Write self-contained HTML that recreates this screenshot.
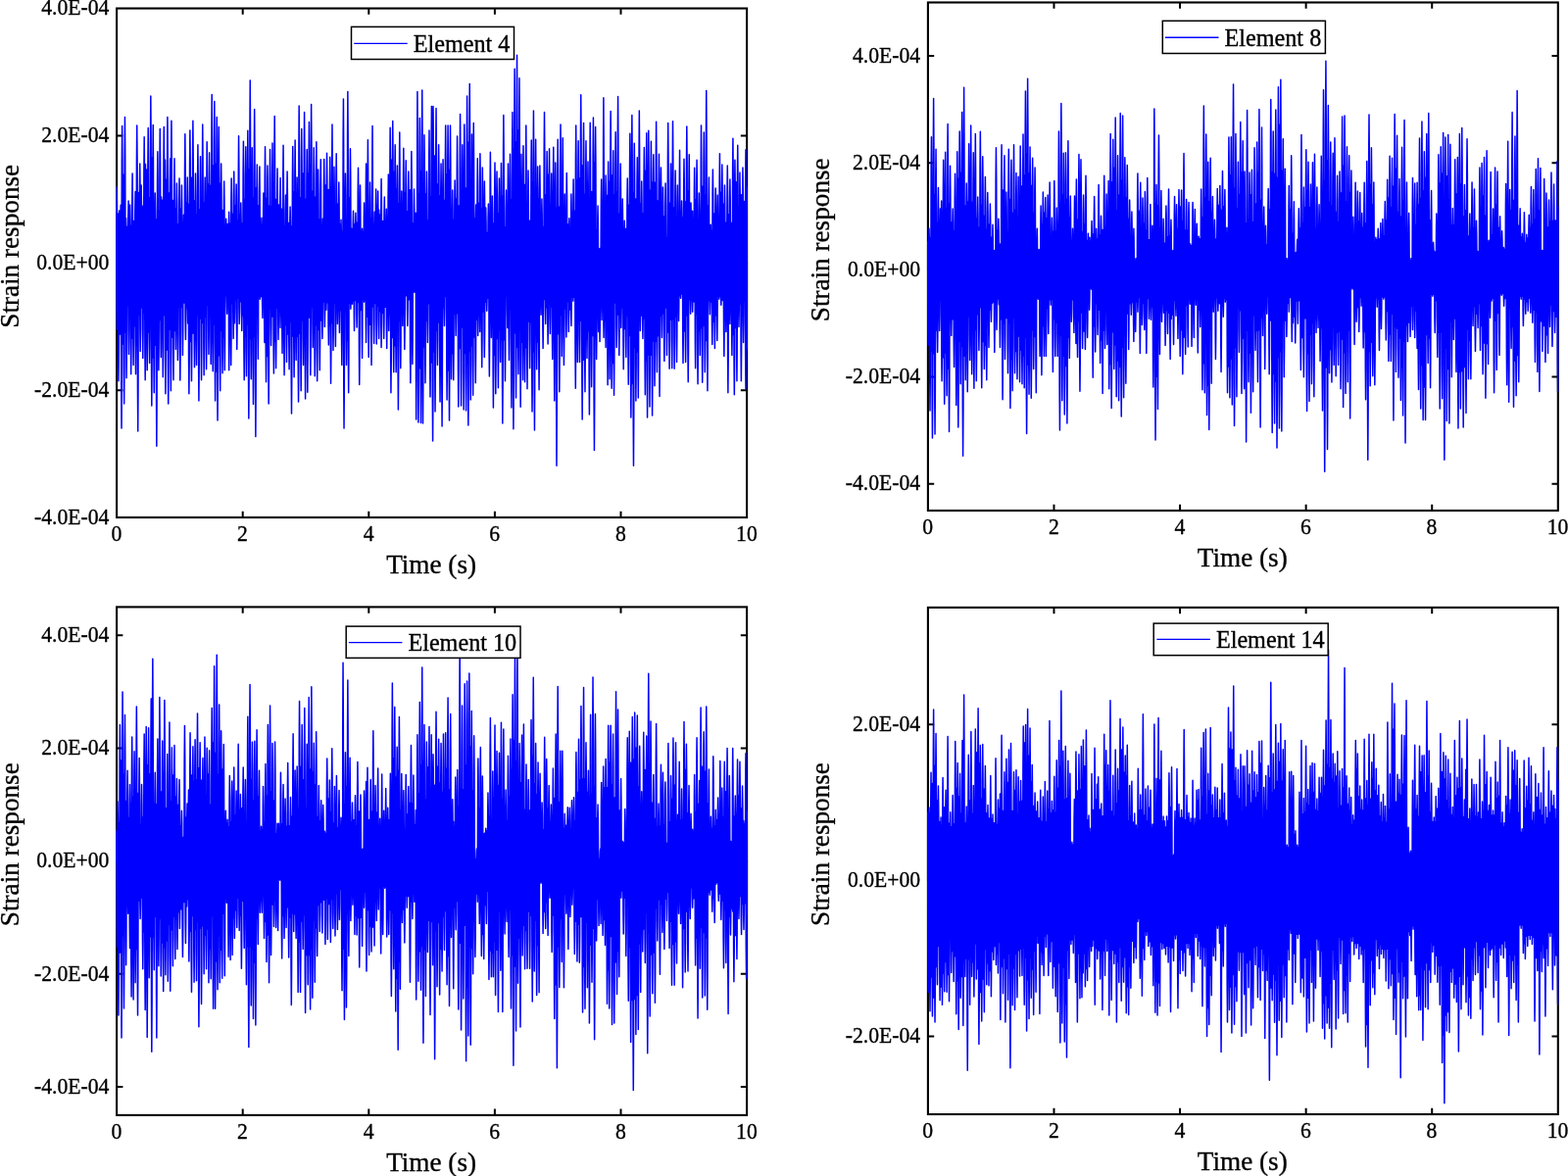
<!DOCTYPE html>
<html lang="en"><head><meta charset="utf-8"><title>Strain response</title>
<style>html,body{margin:0;padding:0;background:#fff}body{width:1600px;height:1200px;overflow:hidden}svg{display:block}text{font-family:"Liberation Serif",serif;fill:#000;stroke:#000;stroke-width:.35px}.tk{font-size:24.0px}.ti{font-size:27.2px}.lg{font-size:24.2px}.fr{fill:none;stroke:#000;stroke-width:2.1}.t{stroke:#000;stroke-width:2;fill:none}.s{fill:none;stroke:#0000ff;stroke-width:1.5;stroke-linejoin:round}</style></head>
<body>
<svg width="1600" height="1200" viewBox="0 0 1600 1200">
<rect width="1600" height="1200" fill="#fff"/>
<g>
<clipPath id="c0"><rect x="118.10" y="8.55" width="645.00" height="519.45"/></clipPath>
<path class="t" d="M119.10 138.41h6.3M762.10 138.41h-6.3M119.10 268.28h6.3M762.10 268.28h-6.3M119.10 398.14h6.3M762.10 398.14h-6.3M247.70 528.00v-6.3M247.70 8.55v6.3M376.30 528.00v-6.3M376.30 8.55v6.3M504.90 528.00v-6.3M504.90 8.55v6.3M633.50 528.00v-6.3M633.50 8.55v6.3"/>
<rect class="fr" x="119.10" y="8.55" width="643.00" height="519.45"/>
<polyline class="s" clip-path="url(#c0)" points="118.48,268.9 118.79,211.1 119.10,191.0 119.41,211.1 119.72,268.9 119.87,268.9 120.18,231.1 120.49,218.1 120.80,231.1 121.11,268.9 121.17,268.9 121.48,228.8 121.79,215.0 122.10,228.8 122.41,268.9 122.58,268.9 122.89,224.7 123.20,209.3 123.51,224.7 123.82,268.9 124.02,268.9 124.33,164.9 124.64,128.6 124.95,164.9 125.26,268.9 125.35,268.9 125.66,201.7 125.97,178.3 126.28,201.7 126.59,268.9 126.83,268.9 127.14,158.2 127.45,119.6 127.74,158.2 128.02,268.9 128.30,234.4 128.58,222.5 128.89,234.4 129.19,268.9 129.50,241.0 129.80,231.5 130.11,241.0 130.42,268.9 130.45,268.9 130.76,221.5 131.07,205.1 131.38,221.5 131.69,268.9 132.06,268.9 132.38,224.5 132.69,209.1 133.00,224.5 133.31,268.9 133.33,268.9 133.64,240.4 133.95,230.6 134.24,240.4 134.52,268.9 134.81,200.7 135.10,176.9 135.41,200.7 135.72,268.9 136.03,268.9 136.34,236.7 136.65,225.6 136.96,236.7 137.27,268.9 137.49,268.9 137.80,214.3 138.11,195.4 138.42,214.3 138.73,268.9 139.11,268.9 139.42,164.5 139.73,128.0 140.04,164.5 140.35,268.9 140.64,268.9 140.95,215.2 141.26,196.6 141.57,215.2 141.88,268.9 142.13,268.9 142.44,193.2 142.75,166.9 143.06,193.2 143.37,268.9 143.54,268.9 143.85,209.6 144.16,189.0 144.47,209.6 144.78,268.9 145.14,268.9 145.45,225.3 145.76,210.2 146.07,225.3 146.38,268.9 146.56,268.9 146.87,173.1 147.18,139.7 147.49,173.1 147.80,268.9 147.86,268.9 148.17,193.7 148.48,167.5 148.79,193.7 149.10,268.9 149.33,268.9 149.64,197.8 149.95,173.0 150.26,197.8 150.57,268.9 150.58,268.9 150.89,166.4 151.20,130.6 151.51,166.4 151.82,268.9 151.99,268.9 152.30,219.0 152.61,201.7 152.91,219.0 153.21,268.9 153.51,142.3 153.82,98.0 154.13,142.3 154.44,268.9 154.45,268.9 154.76,189.0 155.07,161.1 155.36,189.0 155.65,268.9 155.94,164.2 156.23,127.6 156.47,164.2 156.71,268.9 156.95,232.2 157.18,219.5 157.45,232.2 157.71,268.9 157.98,215.6 158.24,197.1 158.55,215.6 158.86,268.9 158.98,268.9 159.29,235.6 159.60,224.1 159.91,235.6 160.22,268.9 160.24,268.9 160.55,184.3 160.86,154.8 161.16,184.3 161.47,268.9 161.77,229.2 162.07,215.5 162.37,229.2 162.67,268.9 162.97,167.2 163.28,131.6 163.59,167.2 163.90,268.9 164.01,268.9 164.32,218.5 164.63,201.0 164.94,218.5 165.25,268.9 165.56,220.9 165.87,204.3 166.18,220.9 166.49,268.9 166.68,268.9 166.99,165.7 167.30,129.6 167.60,165.7 167.90,268.9 168.20,190.6 168.49,163.3 168.80,190.6 169.10,268.9 169.41,205.5 169.71,183.5 170.01,205.5 170.32,268.9 170.62,158.2 170.92,119.6 171.23,158.2 171.54,268.9 171.60,268.9 171.91,215.5 172.22,197.0 172.53,215.5 172.84,268.9 173.02,268.9 173.33,189.4 173.64,161.7 173.95,189.4 174.26,268.9 174.33,268.9 174.64,160.9 174.95,123.2 175.26,160.9 175.57,268.9 175.87,268.9 176.18,221.1 176.49,204.6 176.80,221.1 177.11,268.9 177.35,268.9 177.66,189.5 177.97,161.8 178.25,189.5 178.54,268.9 178.82,227.3 179.10,212.9 179.41,227.3 179.72,268.9 179.76,268.9 180.07,208.1 180.38,187.0 180.69,208.1 181.00,268.9 181.13,268.9 181.44,239.2 181.75,229.0 182.06,239.2 182.37,268.9 182.38,268.9 182.69,204.4 183.00,182.0 183.31,204.4 183.62,268.9 183.63,268.9 183.94,227.6 184.25,213.3 184.54,227.6 184.83,268.9 185.12,209.6 185.41,189.0 185.69,209.6 185.97,268.9 186.25,243.4 186.53,234.7 186.76,243.4 186.98,268.9 187.20,232.0 187.43,219.2 187.74,232.0 188.05,268.9 188.21,268.9 188.52,170.9 188.83,136.7 189.13,170.9 189.43,268.9 189.73,222.8 190.03,206.8 190.33,222.8 190.64,268.9 190.94,203.8 191.25,181.1 191.56,203.8 191.87,268.9 191.96,268.9 192.27,224.0 192.58,208.4 192.89,224.0 193.20,268.9 193.25,268.9 193.56,168.2 193.87,133.1 194.18,168.2 194.49,268.9 194.73,268.9 195.04,203.9 195.35,181.3 195.66,203.9 195.97,268.9 196.26,268.9 196.57,160.9 196.88,123.2 197.19,160.9 197.50,268.9 197.61,268.9 197.92,221.4 198.23,205.0 198.54,221.4 198.85,268.9 198.88,268.9 199.19,200.7 199.50,176.9 199.80,200.7 200.09,268.9 200.39,232.2 200.69,219.5 200.99,232.2 201.30,268.9 201.61,179.1 201.92,147.7 202.23,179.1 202.54,268.9 202.55,268.9 202.86,228.0 203.17,213.9 203.48,228.0 203.79,268.9 203.91,268.9 204.22,188.0 204.53,159.8 204.83,188.0 205.14,268.9 205.44,222.3 205.74,206.1 205.99,222.3 206.24,268.9 206.49,163.7 206.75,127.0 207.06,163.7 207.37,268.9 207.43,268.9 207.74,223.3 208.05,207.6 208.33,223.3 208.61,268.9 208.88,203.7 209.16,181.0 209.44,203.7 209.72,268.9 209.99,222.5 210.27,206.5 210.50,222.5 210.72,268.9 210.95,176.8 211.17,144.7 211.48,176.8 211.79,268.9 211.84,268.9 212.15,208.7 212.46,187.7 212.74,208.7 213.02,268.9 213.31,185.0 213.59,155.8 213.90,185.0 214.21,268.9 214.51,210.1 214.82,189.6 215.13,210.1 215.44,268.9 215.58,268.9 215.89,141.1 216.20,96.4 216.51,141.1 216.82,268.9 216.86,268.9 217.17,194.7 217.48,168.9 217.79,194.7 218.10,268.9 218.20,268.9 218.51,146.3 218.82,103.5 219.11,146.3 219.39,268.9 219.68,193.6 219.97,167.4 220.28,193.6 220.59,268.9 220.62,268.9 220.93,158.2 221.24,119.6 221.50,158.2 221.76,268.9 222.02,209.1 222.28,188.3 222.52,209.1 222.76,268.9 223.01,165.7 223.25,129.6 223.53,165.7 223.81,268.9 224.10,208.6 224.38,187.6 224.69,208.6 225.00,268.9 225.04,268.9 225.35,193.2 225.66,166.9 225.97,193.2 226.28,268.9 226.56,268.9 226.87,228.4 227.18,214.4 227.49,228.4 227.80,268.9 228.06,268.9 228.37,206.6 228.68,185.0 228.96,206.6 229.23,268.9 229.51,240.9 229.78,231.2 230.01,240.9 230.24,268.9 230.47,234.9 230.69,223.2 231.00,234.9 231.31,268.9 231.49,268.9 231.80,238.8 232.11,228.5 232.42,238.8 232.73,268.9 233.09,268.9 233.40,229.7 233.71,216.2 234.02,229.7 234.33,268.9 234.35,268.9 234.66,238.6 234.97,228.2 235.26,238.6 235.55,268.9 235.84,204.4 236.13,182.0 236.44,204.4 236.75,268.9 236.83,268.9 237.14,231.5 237.45,218.6 237.76,231.5 238.07,268.9 238.12,268.9 238.43,199.2 238.74,174.9 239.03,199.2 239.32,268.9 239.60,225.3 239.89,210.2 240.20,225.3 240.51,268.9 240.54,268.9 240.85,208.9 241.16,188.0 241.47,208.9 241.78,268.9 241.84,268.9 242.15,235.8 242.46,224.4 242.74,235.8 243.02,268.9 243.29,172.4 243.57,138.7 243.88,172.4 244.18,268.9 244.48,232.2 244.78,219.5 245.03,232.2 245.28,268.9 245.54,223.0 245.79,207.1 246.10,223.0 246.41,268.9 246.58,268.9 246.89,238.3 247.20,227.8 247.50,238.3 247.80,268.9 248.10,176.6 248.40,144.3 248.71,176.6 249.01,268.9 249.32,220.7 249.62,204.0 249.92,220.7 250.22,268.9 250.52,180.6 250.82,149.8 251.07,180.6 251.32,268.9 251.57,209.4 251.82,188.8 252.07,209.4 252.32,268.9 252.58,168.4 252.83,133.3 253.12,168.4 253.40,268.9 253.69,197.6 253.97,172.8 254.28,197.6 254.59,268.9 254.63,268.9 254.94,130.4 255.25,81.9 255.52,130.4 255.79,268.9 256.07,219.9 256.34,202.9 256.57,219.9 256.80,268.9 257.03,181.3 257.26,150.8 257.54,181.3 257.81,268.9 258.09,219.4 258.37,202.3 258.68,219.4 258.99,268.9 259.05,268.9 259.36,152.3 259.67,111.5 259.98,152.3 260.29,268.9 260.45,268.9 260.76,211.7 261.07,191.8 261.38,211.7 261.68,268.9 261.99,194.0 262.29,167.9 262.60,194.0 262.91,268.9 263.08,268.9 263.39,225.1 263.70,210.0 264.00,225.1 264.30,268.9 264.60,195.5 264.91,169.9 265.14,195.5 265.37,268.9 265.60,245.8 265.84,237.9 266.11,245.8 266.38,268.9 266.65,234.2 266.92,222.2 267.15,234.2 267.39,268.9 267.62,240.0 267.86,230.0 268.13,240.0 268.40,268.9 268.66,215.6 268.93,197.1 269.24,215.6 269.55,268.9 269.92,268.9 270.23,180.6 270.54,149.8 270.85,180.6 271.16,268.9 271.23,268.9 271.54,219.6 271.85,202.5 272.13,219.6 272.40,268.9 272.68,194.7 272.96,168.9 273.27,194.7 273.58,268.9 273.60,268.9 273.91,225.4 274.22,210.3 274.53,225.4 274.84,268.9 274.95,268.9 275.26,182.5 275.57,152.4 275.88,182.5 276.19,268.9 276.23,268.9 276.54,225.8 276.85,210.8 277.14,225.8 277.42,268.9 277.70,177.9 277.99,146.1 278.23,177.9 278.48,268.9 278.73,207.0 278.98,185.5 279.28,207.0 279.59,268.9 279.89,157.5 280.20,118.6 280.51,157.5 280.82,268.9 280.92,268.9 281.23,220.4 281.54,203.6 281.85,220.4 282.16,268.9 282.40,268.9 282.71,197.0 283.02,171.9 283.33,197.0 283.64,268.9 283.81,268.9 284.12,224.5 284.43,209.1 284.74,224.5 285.05,268.9 285.42,268.9 285.73,204.0 286.04,181.4 286.35,204.0 286.66,268.9 287.01,268.9 287.32,227.5 287.63,213.2 287.94,227.5 288.25,268.9 288.44,268.9 288.75,179.5 289.06,148.3 289.35,179.5 289.65,268.9 289.95,240.5 290.25,230.7 290.55,240.5 290.86,268.9 291.16,217.1 291.47,199.1 291.78,217.1 292.09,268.9 292.46,268.9 292.77,199.2 293.08,174.9 293.39,199.2 293.70,268.9 294.09,268.9 294.40,238.1 294.71,227.5 295.02,238.1 295.33,268.9 295.48,268.9 295.79,226.0 296.10,211.1 296.41,226.0 296.72,268.9 296.78,268.9 297.09,240.9 297.40,231.2 297.71,240.9 298.02,268.9 298.10,268.9 298.41,180.3 298.72,149.4 299.03,180.3 299.34,268.9 299.36,268.9 299.67,214.8 299.98,196.0 300.27,214.8 300.55,268.9 300.84,175.7 301.13,143.1 301.40,175.7 301.66,268.9 301.93,235.8 302.19,224.4 302.43,235.8 302.67,268.9 302.91,203.7 303.14,181.0 303.42,203.7 303.69,268.9 303.96,238.9 304.24,228.6 304.47,238.9 304.70,268.9 304.93,149.6 305.16,107.9 305.47,149.6 305.78,268.9 305.95,268.9 306.26,219.1 306.57,201.8 306.87,219.1 307.17,268.9 307.47,167.2 307.77,131.6 308.08,167.2 308.39,268.9 308.55,268.9 308.86,200.8 309.17,177.1 309.48,200.8 309.79,268.9 309.97,268.9 310.28,154.5 310.59,114.5 310.90,154.5 311.21,268.9 311.25,268.9 311.56,220.4 311.87,203.6 312.18,220.4 312.49,268.9 312.59,268.9 312.90,182.5 313.21,152.4 313.46,182.5 313.72,268.9 313.98,200.6 314.24,176.9 314.53,200.6 314.83,268.9 315.12,162.0 315.42,124.6 315.67,162.0 315.93,268.9 316.18,194.8 316.44,168.9 316.74,194.8 317.03,268.9 317.33,148.6 317.63,106.5 317.94,148.6 318.25,268.9 318.35,268.9 318.66,214.2 318.97,195.2 319.28,214.2 319.59,268.9 319.63,268.9 319.94,181.3 320.25,150.8 320.56,181.3 320.87,268.9 321.17,218.7 321.48,201.3 321.79,218.7 322.10,268.9 322.25,268.9 322.56,176.8 322.87,144.7 323.08,176.8 323.29,268.9 323.50,217.7 323.71,199.9 323.95,217.7 324.19,268.9 324.44,197.7 324.68,172.9 324.99,197.7 325.30,268.9 325.36,268.9 325.67,235.8 325.98,224.3 326.29,235.8 326.60,268.9 326.67,268.9 326.98,190.3 327.29,162.8 327.54,190.3 327.78,268.9 328.02,245.6 328.26,237.7 328.52,245.6 328.78,268.9 329.04,234.9 329.31,223.2 329.62,234.9 329.93,268.9 330.10,268.9 330.41,190.0 330.72,162.4 331.03,190.0 331.34,268.9 331.46,268.9 331.77,209.5 332.08,188.9 332.39,209.5 332.70,268.9 332.91,268.9 333.22,185.3 333.53,156.2 333.84,185.3 334.15,268.9 334.54,268.9 334.85,213.0 335.16,193.5 335.47,213.0 335.78,268.9 336.13,268.9 336.44,188.3 336.75,160.2 337.05,188.3 337.35,268.9 337.64,210.8 337.94,190.6 338.20,210.8 338.45,268.9 338.71,163.7 338.97,127.0 339.21,163.7 339.45,268.9 339.69,214.7 339.93,195.9 340.19,214.7 340.45,268.9 340.72,195.8 340.98,170.3 341.24,195.8 341.50,268.9 341.76,235.3 342.03,223.7 342.32,235.3 342.61,268.9 342.90,185.8 343.19,156.8 343.50,185.8 343.81,268.9 343.85,268.9 344.16,223.8 344.47,208.2 344.78,223.8 345.09,268.9 345.19,268.9 345.50,207.4 345.81,186.0 346.10,207.4 346.39,268.9 346.68,239.3 346.98,229.1 347.24,239.3 347.50,268.9 347.76,235.7 348.02,224.2 348.30,235.7 348.57,268.9 348.85,244.7 349.13,236.4 349.44,244.7 349.75,268.9 349.82,268.9 350.13,144.4 350.44,100.9 350.67,144.4 350.90,268.9 351.13,220.7 351.36,203.9 351.63,220.7 351.90,268.9 352.18,200.7 352.45,176.9 352.75,200.7 353.06,268.9 353.36,237.5 353.67,226.7 353.97,237.5 354.27,268.9 354.57,138.9 354.87,93.4 355.17,138.9 355.48,268.9 355.78,219.2 356.09,201.9 356.40,219.2 356.71,268.9 356.86,268.9 357.17,182.1 357.48,151.8 357.79,182.1 358.10,268.9 358.27,268.9 358.58,242.4 358.89,233.3 359.20,242.4 359.51,268.9 359.88,268.9 360.19,229.0 360.50,215.2 360.78,229.0 361.07,268.9 361.35,239.0 361.64,228.8 361.95,239.0 362.26,268.9 362.30,268.9 362.61,230.5 362.92,217.2 363.23,230.5 363.54,268.9 363.65,268.9 363.96,237.9 364.27,227.2 364.58,237.9 364.89,268.9 364.91,268.9 365.22,196.5 365.53,171.3 365.80,196.5 366.07,268.9 366.34,234.4 366.61,222.6 366.84,234.4 367.08,268.9 367.31,209.6 367.54,189.0 367.81,209.6 368.08,268.9 368.34,244.2 368.61,235.7 368.85,244.2 369.08,268.9 369.32,242.4 369.56,233.3 369.82,242.4 370.08,268.9 370.35,244.9 370.61,236.6 370.85,244.9 371.09,268.9 371.33,223.0 371.57,207.1 371.82,223.0 372.08,268.9 372.34,242.1 372.59,232.9 372.84,242.1 373.09,268.9 373.33,193.2 373.58,166.9 373.83,193.2 374.09,268.9 374.34,222.8 374.59,206.9 374.79,222.8 374.99,268.9 375.19,175.4 375.39,142.7 375.66,175.4 375.92,268.9 376.18,227.9 376.45,213.7 376.74,227.9 377.03,268.9 377.32,207.4 377.61,186.0 377.92,207.4 378.23,268.9 378.27,268.9 378.58,234.2 378.89,222.2 379.17,234.2 379.46,268.9 379.74,164.9 380.02,128.6 380.29,164.9 380.55,268.9 380.81,241.1 381.08,231.6 381.37,241.1 381.66,268.9 381.95,229.7 382.24,216.2 382.55,229.7 382.86,268.9 383.02,268.9 383.33,212.6 383.64,193.0 383.92,212.6 384.19,268.9 384.47,224.9 384.74,209.7 384.97,224.9 385.20,268.9 385.43,214.1 385.66,195.0 385.92,214.1 386.18,268.9 386.44,228.3 386.70,214.3 387.01,228.3 387.32,268.9 387.37,268.9 387.68,231.8 387.99,219.0 388.26,231.8 388.54,268.9 388.81,204.8 389.08,182.6 389.39,204.8 389.70,268.9 390.16,268.9 390.47,236.6 390.78,225.5 391.09,236.6 391.40,268.9 391.68,268.9 391.99,218.5 392.30,201.1 392.53,218.5 392.76,268.9 392.98,236.0 393.21,224.7 393.49,236.0 393.76,268.9 394.04,227.5 394.31,213.2 394.55,227.5 394.78,268.9 395.02,240.5 395.25,230.7 395.52,240.5 395.79,268.9 396.05,201.4 396.32,177.9 396.56,201.4 396.80,268.9 397.04,221.6 397.28,205.2 397.49,221.6 397.71,268.9 397.92,166.1 398.13,130.2 398.44,166.1 398.74,268.9 399.05,190.6 399.35,163.3 399.66,190.6 399.97,268.9 400.13,268.9 400.44,161.2 400.75,123.6 401.05,161.2 401.35,268.9 401.64,199.7 401.94,175.6 402.25,199.7 402.55,268.9 402.86,179.1 403.17,147.7 403.45,179.1 403.73,268.9 404.01,212.9 404.29,193.5 404.56,212.9 404.83,268.9 405.11,194.7 405.38,168.9 405.68,194.7 405.98,268.9 406.28,223.8 406.58,208.1 406.88,223.8 407.19,268.9 407.49,169.7 407.79,135.1 408.04,169.7 408.29,268.9 408.54,235.7 408.79,224.2 409.04,235.7 409.30,268.9 409.55,214.1 409.81,195.0 410.05,214.1 410.29,268.9 410.53,227.0 410.77,212.5 411.03,227.0 411.29,268.9 411.56,181.6 411.82,151.2 412.10,181.6 412.37,268.9 412.65,215.4 412.93,196.8 413.24,215.4 413.55,268.9 413.61,268.9 413.92,191.0 414.23,163.8 414.54,191.0 414.85,268.9 415.00,268.9 415.31,229.6 415.62,216.1 415.93,229.6 416.24,268.9 416.54,199.2 416.85,174.9 417.16,199.2 417.47,268.9 417.63,268.9 417.94,213.2 418.25,193.8 418.56,213.2 418.87,268.9 419.25,268.9 419.56,184.0 419.87,154.4 420.18,184.0 420.49,268.9 420.67,268.9 420.98,238.5 421.29,228.1 421.59,238.5 421.89,268.9 422.19,212.6 422.49,193.0 422.80,212.6 423.11,268.9 423.48,268.9 423.79,230.5 424.10,217.2 424.33,230.5 424.57,268.9 424.80,243.2 425.04,234.4 425.26,243.2 425.47,268.9 425.69,138.9 425.91,93.4 426.22,138.9 426.53,268.9 426.59,268.9 426.90,215.7 427.21,197.3 427.49,215.7 427.77,268.9 428.04,159.0 428.32,120.6 428.61,159.0 428.90,268.9 429.19,199.2 429.47,175.0 429.78,199.2 430.09,268.9 430.12,268.9 430.43,137.8 430.74,92.0 431.04,137.8 431.33,268.9 431.63,223.8 431.93,208.1 432.19,223.8 432.44,268.9 432.70,171.6 432.95,137.7 433.23,171.6 433.51,268.9 433.78,216.3 434.06,198.0 434.37,216.3 434.68,268.9 434.75,268.9 435.06,199.2 435.37,174.9 435.68,199.2 435.99,268.9 436.12,268.9 436.43,236.3 436.74,225.1 437.05,236.3 437.36,268.9 437.36,268.9 437.67,168.2 437.98,133.1 438.29,168.2 438.60,268.9 438.91,218.5 439.22,201.0 439.51,218.5 439.81,268.9 440.10,150.0 440.40,108.5 440.71,150.0 441.02,268.9 441.39,268.9 441.70,150.0 442.01,108.5 442.32,150.0 442.63,268.9 442.78,268.9 443.09,187.3 443.40,158.9 443.71,187.3 444.02,268.9 444.40,268.9 444.71,151.5 445.02,110.5 445.33,151.5 445.64,268.9 445.95,208.9 446.26,188.0 446.57,208.9 446.88,268.9 447.02,268.9 447.33,179.1 447.64,147.7 447.95,179.1 448.26,268.9 448.28,268.9 448.59,217.6 448.90,199.8 449.19,217.6 449.48,268.9 449.77,193.2 450.06,166.9 450.31,193.2 450.56,268.9 450.80,224.1 451.05,208.5 451.31,224.1 451.56,268.9 451.82,190.3 452.07,162.8 452.37,190.3 452.67,268.9 452.96,221.0 453.26,204.4 453.57,221.0 453.88,268.9 454.06,268.9 454.38,164.5 454.69,128.0 454.98,164.5 455.27,268.9 455.56,201.5 455.85,178.1 456.16,201.5 456.47,268.9 456.48,268.9 456.79,164.5 457.10,128.0 457.37,164.5 457.65,268.9 457.92,198.2 458.20,173.6 458.51,198.2 458.82,268.9 458.89,268.9 459.20,164.5 459.51,128.0 459.81,164.5 460.10,268.9 460.39,242.3 460.69,233.1 460.95,242.3 461.21,268.9 461.47,213.3 461.73,194.0 462.03,213.3 462.33,268.9 462.63,235.8 462.94,224.4 463.24,235.8 463.54,268.9 463.84,205.9 464.14,184.0 464.45,205.9 464.76,268.9 464.83,268.9 465.14,219.7 465.45,202.7 465.72,219.7 466.00,268.9 466.28,172.7 466.56,139.1 466.87,172.7 467.18,268.9 467.38,268.9 467.69,225.2 468.00,210.1 468.31,225.2 468.62,268.9 468.96,268.9 469.27,156.0 469.58,116.6 469.87,156.0 470.17,268.9 470.46,215.9 470.76,197.6 471.02,215.9 471.27,268.9 471.53,179.1 471.79,147.7 472.04,179.1 472.29,268.9 472.53,214.3 472.78,195.3 473.04,214.3 473.29,268.9 473.55,163.7 473.80,127.0 474.11,163.7 474.42,268.9 474.48,268.9 474.79,211.8 475.10,192.0 475.41,211.8 475.72,268.9 476.00,268.9 476.31,142.3 476.62,98.0 476.93,142.3 477.24,268.9 477.32,268.9 477.63,177.2 477.94,145.3 478.25,177.2 478.56,268.9 478.62,268.9 478.93,132.9 479.24,85.4 479.54,132.9 479.84,268.9 480.14,212.3 480.44,192.6 480.70,212.3 480.95,268.9 481.20,171.2 481.45,137.1 481.70,171.2 481.94,268.9 482.19,199.0 482.43,174.7 482.64,199.0 482.85,268.9 483.06,162.7 483.26,125.6 483.57,162.7 483.88,268.9 483.90,268.9 484.21,235.0 484.52,223.4 484.81,235.0 485.10,268.9 485.39,224.5 485.68,209.1 485.99,224.5 486.30,268.9 486.67,268.9 486.98,189.5 487.29,161.8 487.60,189.5 487.91,268.9 488.01,268.9 488.32,223.4 488.63,207.6 488.94,223.4 489.25,268.9 489.28,268.9 489.59,185.8 489.90,156.8 490.21,185.8 490.52,268.9 490.59,268.9 490.90,227.3 491.21,212.8 491.49,227.3 491.76,268.9 492.04,196.2 492.32,170.9 492.58,196.2 492.84,268.9 493.11,228.0 493.37,213.9 493.61,228.0 493.85,268.9 494.09,206.6 494.33,185.0 494.64,206.6 494.95,268.9 495.12,268.9 495.43,226.7 495.74,212.1 496.05,226.7 496.36,268.9 496.36,268.9 496.67,245.5 496.98,237.4 497.29,245.5 497.60,268.9 497.74,268.9 498.05,223.8 498.36,208.1 498.63,223.8 498.91,268.9 499.18,236.9 499.46,225.9 499.68,236.9 499.91,268.9 500.14,184.6 500.37,155.2 500.64,184.6 500.90,268.9 501.17,232.2 501.44,219.5 501.68,232.2 501.91,268.9 502.15,217.8 502.38,200.1 502.69,217.8 503.00,268.9 503.05,268.9 503.36,238.7 503.67,228.3 503.98,238.7 504.29,268.9 504.38,268.9 504.69,192.5 505.00,165.9 505.25,192.5 505.51,268.9 505.77,236.1 506.02,224.8 506.27,236.1 506.52,268.9 506.76,199.2 507.01,174.9 507.32,199.2 507.63,268.9 507.93,231.0 508.24,217.9 508.54,231.0 508.83,268.9 509.13,204.4 509.43,182.0 509.66,204.4 509.90,268.9 510.14,234.1 510.38,222.1 510.65,234.1 510.91,268.9 511.17,192.9 511.44,166.5 511.73,192.9 512.03,268.9 512.33,218.1 512.62,200.5 512.93,218.1 513.24,268.9 513.55,156.7 513.85,117.6 514.16,156.7 514.47,268.9 514.56,268.9 514.87,241.3 515.18,231.9 515.49,241.3 515.80,268.9 515.85,268.9 516.16,213.3 516.47,194.0 516.71,213.3 516.95,268.9 517.19,240.5 517.43,230.7 517.69,240.5 517.95,268.9 518.22,193.2 518.48,166.9 518.76,193.2 519.04,268.9 519.31,214.2 519.59,195.2 519.82,214.2 520.04,268.9 520.27,186.1 520.49,157.2 520.77,186.1 521.05,268.9 521.32,220.6 521.60,203.8 521.91,220.6 522.22,268.9 522.29,268.9 522.60,154.5 522.91,114.5 523.16,154.5 523.42,268.9 523.67,182.5 523.93,152.3 524.23,182.5 524.52,268.9 524.82,121.7 525.12,70.3 525.41,121.7 525.69,268.9 525.97,176.9 526.26,144.7 526.57,176.9 526.88,268.9 526.92,268.9 527.23,111.3 527.54,56.2 527.81,111.3 528.08,268.9 528.36,168.2 528.63,133.1 528.94,168.2 529.25,268.9 529.33,268.9 529.64,128.7 529.95,79.7 530.21,128.7 530.46,268.9 530.72,228.9 530.97,215.1 531.22,228.9 531.47,268.9 531.72,186.1 531.97,157.2 532.21,186.1 532.45,268.9 532.69,215.2 532.93,196.6 533.20,215.2 533.46,268.9 533.72,179.8 533.98,148.8 534.29,179.8 534.60,268.9 534.88,268.9 535.19,209.2 535.50,188.4 535.81,209.2 536.12,268.9 536.17,268.9 536.48,164.5 536.79,128.0 537.07,164.5 537.34,268.9 537.61,230.4 537.88,217.0 538.16,230.4 538.45,268.9 538.73,198.4 539.01,173.9 539.32,198.4 539.63,268.9 540.00,268.9 540.31,236.4 540.62,225.2 540.93,236.4 541.24,268.9 541.61,268.9 541.92,175.7 542.23,143.1 542.52,175.7 542.82,268.9 543.11,207.2 543.41,185.7 543.67,207.2 543.93,268.9 544.18,153.5 544.44,113.1 544.70,153.5 544.95,268.9 545.21,215.1 545.47,196.4 545.76,215.1 546.06,268.9 546.36,175.1 546.66,142.3 546.91,175.1 547.17,268.9 547.42,234.6 547.68,222.8 547.93,234.6 548.17,268.9 548.42,195.5 548.67,169.9 548.93,195.5 549.20,268.9 549.46,220.3 549.73,203.5 550.02,220.3 550.30,268.9 550.59,194.7 550.88,168.9 551.13,194.7 551.38,268.9 551.63,235.4 551.88,223.8 552.14,235.4 552.39,268.9 552.64,220.0 552.89,203.1 553.20,220.0 553.51,268.9 553.66,268.9 553.97,240.9 554.28,231.3 554.59,240.9 554.90,268.9 555.20,154.5 555.51,114.5 555.82,154.5 556.13,268.9 556.15,268.9 556.46,217.0 556.77,199.0 557.08,217.0 557.39,268.9 557.51,268.9 557.82,184.0 558.13,154.4 558.41,184.0 558.70,268.9 558.98,201.7 559.26,178.3 559.57,201.7 559.88,268.9 559.92,268.9 560.23,182.1 560.54,151.8 560.82,182.1 561.10,268.9 561.37,224.6 561.65,209.3 561.93,224.6 562.20,268.9 562.48,200.7 562.76,176.9 562.99,200.7 563.22,268.9 563.45,223.5 563.68,207.8 563.95,223.5 564.22,268.9 564.50,180.9 564.77,150.2 565.01,180.9 565.24,268.9 565.48,232.8 565.72,220.4 565.98,232.8 566.25,268.9 566.52,192.5 566.78,165.9 567.07,192.5 567.36,268.9 567.65,226.9 567.94,212.4 568.25,226.9 568.56,268.9 568.58,268.9 568.89,175.1 569.20,142.3 569.51,175.1 569.82,268.9 570.07,268.9 570.38,226.1 570.69,211.3 571.00,226.1 571.31,268.9 571.39,268.9 571.70,163.7 572.01,127.0 572.30,163.7 572.59,268.9 572.87,217.6 573.16,199.8 573.43,217.6 573.69,268.9 573.96,173.9 574.23,140.7 574.47,173.9 574.72,268.9 574.96,243.3 575.21,234.5 575.47,243.3 575.73,268.9 575.98,216.3 576.24,198.1 576.52,216.3 576.80,268.9 577.08,244.6 577.36,236.2 577.58,244.6 577.81,268.9 578.03,200.4 578.25,176.5 578.56,200.4 578.86,268.9 579.16,239.0 579.46,228.7 579.77,239.0 580.08,268.9 580.25,268.9 580.56,234.6 580.87,222.8 581.14,234.6 581.42,268.9 581.69,241.1 581.96,231.5 582.19,241.1 582.42,268.9 582.65,216.3 582.88,198.1 583.16,216.3 583.44,268.9 583.72,230.2 584.00,216.8 584.27,230.2 584.55,268.9 584.82,205.1 585.10,183.0 585.40,205.1 585.72,268.9 585.76,268.9 586.07,229.2 586.38,215.5 586.69,229.2 587.00,268.9 587.09,268.9 587.40,164.5 587.71,128.0 588.02,164.5 588.33,268.9 588.64,206.0 588.95,184.1 589.24,206.0 589.54,268.9 589.83,176.1 590.13,143.7 590.44,176.1 590.75,268.9 590.92,268.9 591.23,204.4 591.54,182.0 591.84,204.4 592.14,268.9 592.44,141.4 592.74,96.8 593.05,141.4 593.36,268.9 593.48,268.9 593.79,194.6 594.10,168.7 594.41,194.6 594.72,268.9 594.94,268.9 595.25,162.7 595.56,125.6 595.87,162.7 596.18,268.9 596.26,268.9 596.57,216.6 596.88,198.5 597.16,216.6 597.43,268.9 597.70,176.1 597.98,143.7 598.20,176.1 598.42,268.9 598.64,228.8 598.86,214.9 599.14,228.8 599.43,268.9 599.71,191.7 599.99,164.9 600.25,191.7 600.52,268.9 600.78,227.1 601.05,212.7 601.33,227.1 601.62,268.9 601.91,162.4 602.20,125.2 602.51,162.4 602.82,268.9 603.19,268.9 603.50,214.3 603.81,195.4 604.12,214.3 604.43,268.9 604.80,268.9 605.11,158.5 605.42,120.0 605.72,158.5 606.02,268.9 606.31,192.4 606.61,165.7 606.87,192.4 607.12,268.9 607.38,165.7 607.63,129.6 607.94,165.7 608.25,268.9 608.32,268.9 608.63,243.5 608.94,234.7 609.22,243.5 609.49,268.9 609.77,225.2 610.05,210.1 610.29,225.2 610.53,268.9 610.77,257.7 611.02,254.0 611.28,257.7 611.54,268.9 611.80,257.3 612.06,253.4 612.37,257.3 612.68,268.9 613.05,268.9 613.36,205.1 613.67,183.0 613.95,205.1 614.22,268.9 614.50,227.4 614.77,213.1 615.05,227.4 615.33,268.9 615.61,143.6 615.89,99.8 616.18,143.6 616.46,268.9 616.75,229.8 617.04,216.3 617.31,229.8 617.57,268.9 617.84,202.2 618.10,178.9 618.41,202.2 618.72,268.9 618.85,268.9 619.16,217.3 619.47,199.4 619.78,217.3 620.09,268.9 620.10,268.9 620.41,191.7 620.72,164.9 620.99,191.7 621.27,268.9 621.55,207.1 621.83,185.6 622.14,207.1 622.45,268.9 622.51,268.9 622.82,153.8 623.13,113.5 623.44,153.8 623.75,268.9 623.93,268.9 624.24,202.3 624.55,179.1 624.85,202.3 625.15,268.9 625.45,183.5 625.75,153.8 626.04,183.5 626.34,268.9 626.63,217.0 626.93,199.0 627.24,217.0 627.55,268.9 627.85,169.4 628.16,134.7 628.47,169.4 628.78,268.9 629.09,214.7 629.40,195.9 629.69,214.7 629.99,268.9 630.28,142.6 630.58,98.4 630.88,142.6 631.18,268.9 631.48,231.2 631.78,218.1 632.09,231.2 632.40,268.9 632.57,268.9 632.88,193.2 633.19,166.9 633.47,193.2 633.74,268.9 634.02,229.8 634.29,216.3 634.52,229.8 634.75,268.9 634.98,220.0 635.21,203.1 635.48,220.0 635.76,268.9 636.03,244.2 636.31,235.8 636.54,244.2 636.76,268.9 636.99,236.4 637.22,225.2 637.53,236.4 637.84,268.9 638.21,268.9 638.52,242.5 638.83,233.4 639.14,242.5 639.45,268.9 639.62,268.9 639.93,204.4 640.24,182.0 640.55,204.4 640.86,268.9 641.00,268.9 641.31,224.8 641.62,209.6 641.93,224.8 642.24,268.9 642.54,170.6 642.85,136.3 643.09,170.6 643.32,268.9 643.55,204.4 643.78,182.0 644.05,204.4 644.33,268.9 644.60,156.7 644.87,117.6 645.16,156.7 645.45,268.9 645.74,215.2 646.03,196.5 646.34,215.2 646.65,268.9 646.66,268.9 646.97,178.0 647.28,146.3 647.59,178.0 647.90,268.9 648.25,268.9 648.56,219.9 648.87,202.9 649.18,219.9 649.49,268.9 649.68,268.9 649.99,188.8 650.30,160.8 650.56,188.8 650.81,268.9 651.07,219.5 651.32,202.3 651.57,219.5 651.82,268.9 652.07,153.3 652.31,112.9 652.62,153.3 652.93,268.9 652.98,268.9 653.29,224.0 653.60,208.5 653.88,224.0 654.17,268.9 654.45,206.6 654.73,185.0 655.04,206.6 655.35,268.9 655.41,268.9 655.72,231.1 656.03,218.0 656.34,231.1 656.65,268.9 656.72,268.9 657.03,181.0 657.34,150.4 657.65,181.0 657.95,268.9 658.25,199.0 658.56,174.6 658.86,199.0 659.16,268.9 659.46,170.1 659.76,135.7 660.00,170.1 660.25,268.9 660.50,212.2 660.74,192.5 661.00,212.2 661.26,268.9 661.51,168.4 661.77,133.3 662.08,168.4 662.39,268.9 662.45,268.9 662.76,213.6 663.07,194.3 663.38,213.6 663.69,268.9 663.77,268.9 664.08,176.6 664.39,144.3 664.70,176.6 665.01,268.9 665.06,268.9 665.37,207.6 665.68,186.3 665.96,207.6 666.24,268.9 666.52,186.5 666.80,157.8 667.11,186.5 667.42,268.9 667.56,268.9 667.87,207.6 668.18,186.2 668.49,207.6 668.80,268.9 669.00,268.9 669.31,161.7 669.62,124.2 669.93,161.7 670.24,268.9 670.35,268.9 670.66,221.5 670.97,205.0 671.28,221.5 671.59,268.9 671.82,268.9 672.13,186.1 672.44,157.2 672.72,186.1 673.00,268.9 673.28,233.4 673.56,221.2 673.78,233.4 674.00,268.9 674.23,196.2 674.45,170.9 674.72,196.2 674.99,268.9 675.25,232.6 675.52,220.0 675.76,232.6 675.99,268.9 676.23,211.1 676.46,191.0 676.77,211.1 677.08,268.9 677.16,268.9 677.47,233.2 677.78,220.9 678.09,233.2 678.40,268.9 678.46,268.9 678.77,208.1 679.08,187.0 679.39,208.1 679.70,268.9 679.87,268.9 680.18,249.1 680.49,242.3 680.79,249.1 681.09,268.9 681.39,162.7 681.70,125.6 682.01,162.7 682.32,268.9 682.51,268.9 682.82,223.2 683.13,207.3 683.44,223.2 683.75,268.9 683.89,268.9 684.20,193.2 684.51,166.9 684.76,193.2 685.00,268.9 685.25,230.4 685.49,217.1 685.75,230.4 686.01,268.9 686.27,161.4 686.52,123.8 686.84,161.4 687.14,268.9 687.30,268.9 687.61,226.6 687.92,212.0 688.23,226.6 688.53,268.9 688.84,198.4 689.14,173.9 689.40,198.4 689.67,268.9 689.93,234.3 690.19,222.4 690.48,234.3 690.77,268.9 691.06,209.6 691.36,189.0 691.64,209.6 691.92,268.9 692.20,239.5 692.48,229.4 692.75,239.5 693.02,268.9 693.30,183.1 693.57,153.2 693.80,183.1 694.03,268.9 694.26,241.2 694.48,231.6 694.76,241.2 695.03,268.9 695.31,221.5 695.58,205.1 695.88,221.5 696.17,268.9 696.47,234.3 696.76,222.3 697.07,234.3 697.38,268.9 697.69,189.8 698.00,162.2 698.31,189.8 698.62,268.9 698.86,268.9 699.17,222.0 699.48,205.7 699.79,222.0 700.10,268.9 700.19,268.9 700.50,165.2 700.81,129.0 701.12,165.2 701.42,268.9 701.72,214.0 702.02,195.0 702.32,214.0 702.63,268.9 702.93,186.5 703.23,157.8 703.46,186.5 703.69,268.9 703.93,243.2 704.16,234.4 704.38,243.2 704.60,268.9 704.82,223.0 705.04,207.1 705.35,223.0 705.66,268.9 706.03,268.9 706.34,229.0 706.65,215.2 706.88,229.0 707.11,268.9 707.34,244.9 707.58,236.7 707.85,244.9 708.12,268.9 708.39,196.5 708.66,171.3 708.95,196.5 709.23,268.9 709.52,220.7 709.80,204.0 710.11,220.7 710.42,268.9 710.46,268.9 710.77,190.5 711.08,163.2 711.35,190.5 711.62,268.9 711.89,241.2 712.16,231.7 712.44,241.2 712.72,268.9 713.01,215.6 713.29,197.1 713.60,215.6 713.90,268.9 714.20,232.9 714.51,220.4 714.76,232.9 715.01,268.9 715.26,164.5 715.50,128.0 715.82,164.5 716.12,268.9 716.34,268.9 716.65,210.6 716.96,190.3 717.27,210.6 717.58,268.9 717.70,268.9 718.01,169.7 718.32,135.1 718.63,169.7 718.94,268.9 718.97,268.9 719.28,217.0 719.59,199.0 719.88,217.0 720.17,268.9 720.45,138.1 720.74,92.4 721.05,138.1 721.36,268.9 721.47,268.9 721.78,225.0 722.09,209.8 722.40,225.0 722.71,268.9 722.73,268.9 723.04,203.7 723.35,181.0 723.58,203.7 723.80,268.9 724.02,243.6 724.25,235.0 724.48,243.6 724.71,268.9 724.94,239.4 725.16,229.3 725.42,239.4 725.68,268.9 725.94,243.9 726.20,235.3 726.49,243.9 726.79,268.9 727.08,197.7 727.38,172.9 727.69,197.7 728.00,268.9 728.14,268.9 728.45,231.1 728.76,218.1 729.07,231.1 729.38,268.9 729.58,268.9 729.89,211.8 730.20,192.0 730.45,211.8 730.71,268.9 730.97,237.2 731.22,226.3 731.47,237.2 731.72,268.9 731.96,217.1 732.21,199.1 732.48,217.1 732.75,268.9 733.03,232.8 733.30,220.4 733.58,232.8 733.86,268.9 734.14,185.8 734.42,156.8 734.73,185.8 735.04,268.9 735.12,268.9 735.43,215.1 735.74,196.4 736.01,215.1 736.29,268.9 736.56,194.0 736.84,167.9 737.15,194.0 737.46,268.9 737.52,268.9 737.83,223.9 738.14,208.3 738.45,223.9 738.76,268.9 738.83,268.9 739.14,209.6 739.45,189.0 739.76,209.6 740.07,268.9 740.28,268.9 740.59,237.9 740.90,227.3 741.21,237.9 741.52,268.9 741.65,268.9 741.96,194.7 742.27,168.9 742.58,194.7 742.89,268.9 743.05,268.9 743.36,231.8 743.67,219.0 743.98,231.8 744.28,268.9 744.58,205.1 744.89,183.0 745.20,205.1 745.51,268.9 745.85,268.9 746.16,238.1 746.47,227.5 746.78,238.1 747.09,268.9 747.29,268.9 747.60,174.3 747.91,141.3 748.17,174.3 748.44,268.9 748.70,232.7 748.97,220.2 749.20,232.7 749.44,268.9 749.68,190.5 749.92,163.2 750.23,190.5 750.54,268.9 750.63,268.9 750.94,207.1 751.25,185.7 751.56,207.1 751.87,268.9 752.12,268.9 752.43,179.5 752.74,148.3 753.02,179.5 753.31,268.9 753.60,234.0 753.88,221.9 754.15,234.0 754.42,268.9 754.68,199.9 754.95,175.9 755.26,199.9 755.57,268.9 755.73,268.9 756.04,216.8 756.35,198.7 756.66,216.8 756.97,268.9 757.35,268.9 757.66,196.2 757.97,170.9 758.28,196.2 758.59,268.9 758.89,268.9 759.20,221.9 759.51,205.6 759.82,221.9 760.13,268.9 760.37,268.9 760.68,182.8 760.99,152.8 761.25,182.8 761.51,268.9 761.77,211.2 762.04,191.2 762.35,211.2 762.66,268.9"/>
<polyline class="s" clip-path="url(#c0)" points="118.76,267.7 119.07,318.4 119.38,336.0 119.69,318.4 120.00,267.7 120.39,267.7 120.70,357.4 121.01,388.8 121.32,357.4 121.63,267.7 121.93,267.7 122.24,322.2 122.55,341.1 122.86,322.2 123.17,267.7 123.41,267.7 123.72,393.2 124.03,437.1 124.34,393.2 124.65,267.7 124.79,267.7 125.10,329.4 125.41,350.9 125.72,329.4 126.03,267.7 126.34,374.6 126.65,411.9 126.95,374.6 127.26,267.7 127.56,320.6 127.86,339.0 128.16,320.6 128.46,267.7 128.76,355.2 129.06,385.7 129.34,355.2 129.62,267.7 129.91,300.4 130.19,311.7 130.50,300.4 130.81,267.7 130.86,267.7 131.17,337.3 131.48,361.6 131.78,337.3 132.09,267.7 132.39,306.8 132.69,320.4 132.94,306.8 133.19,267.7 133.44,352.2 133.69,381.7 133.98,352.2 134.26,267.7 134.55,325.1 134.83,345.1 135.14,325.1 135.45,267.7 135.49,267.7 135.80,345.5 136.11,372.6 136.38,345.5 136.66,267.7 136.93,316.0 137.21,332.8 137.52,316.0 137.83,267.7 137.90,267.7 138.21,352.2 138.52,381.7 138.77,352.2 139.02,267.7 139.27,330.3 139.52,352.1 139.82,330.3 140.13,267.7 140.43,395.4 140.74,440.1 141.01,395.4 141.28,267.7 141.56,307.8 141.83,321.6 142.14,307.8 142.45,267.7 142.53,267.7 142.84,335.1 143.15,358.6 143.46,335.1 143.77,267.7 143.93,267.7 144.24,302.2 144.55,314.1 144.85,302.2 145.16,267.7 145.46,340.3 145.77,365.6 146.08,340.3 146.39,267.7 146.39,267.7 146.70,305.9 147.01,319.1 147.30,305.9 147.60,267.7 147.89,356.7 148.18,387.7 148.45,356.7 148.72,267.7 148.99,310.9 149.26,325.8 149.49,310.9 149.72,267.7 149.96,349.2 150.19,377.7 150.47,349.2 150.75,267.7 151.02,320.5 151.30,338.9 151.61,320.5 151.92,267.7 151.99,267.7 152.30,344.0 152.61,370.6 152.88,344.0 153.16,267.7 153.43,310.5 153.71,325.4 153.99,310.5 154.26,267.7 154.54,376.0 154.82,413.9 155.10,376.0 155.38,267.7 155.66,339.8 155.94,365.0 156.25,339.8 156.56,267.7 156.62,267.7 156.93,366.4 157.24,400.8 157.55,366.4 157.86,267.7 158.03,267.7 158.34,330.4 158.65,352.2 158.95,330.4 159.25,267.7 159.55,406.6 159.85,455.2 160.13,406.6 160.40,267.7 160.68,322.1 160.95,341.1 161.18,322.1 161.41,267.7 161.64,349.2 161.87,377.7 162.16,349.2 162.46,267.7 162.75,311.3 163.05,326.4 163.35,311.3 163.66,267.7 163.97,339.6 164.28,364.6 164.56,339.6 164.83,267.7 165.10,308.5 165.38,322.6 165.61,308.5 165.84,267.7 166.06,354.4 166.29,384.7 166.60,354.4 166.91,267.7 167.09,267.7 167.40,307.7 167.71,321.6 168.01,307.7 168.31,267.7 168.61,367.1 168.91,401.8 169.22,367.1 169.53,267.7 169.65,267.7 169.96,333.9 170.27,357.0 170.58,333.9 170.89,267.7 171.11,267.7 171.42,374.6 171.73,411.9 172.04,374.6 172.35,267.7 172.51,267.7 172.82,318.6 173.13,336.3 173.43,318.6 173.74,267.7 174.04,364.9 174.34,398.8 174.65,364.9 174.96,267.7 175.01,267.7 175.32,324.5 175.63,344.2 175.94,324.5 176.25,267.7 176.34,267.7 176.65,356.7 176.96,387.7 177.27,356.7 177.58,267.7 177.88,319.6 178.19,337.6 178.49,319.6 178.78,267.7 179.08,333.6 179.38,356.6 179.64,333.6 179.90,267.7 180.16,316.2 180.42,333.0 180.66,316.2 180.91,267.7 181.15,341.8 181.39,367.6 181.68,341.8 181.97,267.7 182.26,301.6 182.55,313.3 182.86,301.6 183.17,267.7 183.18,267.7 183.49,357.0 183.80,388.1 184.11,357.0 184.42,267.7 184.58,267.7 184.89,301.8 185.20,313.6 185.50,301.8 185.81,267.7 186.11,338.1 186.42,362.6 186.73,338.1 187.04,267.7 187.39,267.7 187.70,298.3 188.01,308.9 188.32,298.3 188.63,267.7 188.82,267.7 189.13,326.2 189.44,346.5 189.71,326.2 189.99,267.7 190.26,302.5 190.54,314.5 190.83,302.5 191.12,267.7 191.41,314.0 191.71,330.1 191.99,314.0 192.28,267.7 192.57,367.1 192.86,401.8 193.17,367.1 193.48,267.7 193.48,267.7 193.79,327.6 194.10,348.4 194.41,327.6 194.72,267.7 194.86,267.7 195.17,357.4 195.48,388.8 195.79,357.4 196.10,267.7 196.26,267.7 196.57,321.4 196.88,340.1 197.19,321.4 197.50,267.7 197.87,267.7 198.18,347.0 198.49,374.7 198.77,347.0 199.04,267.7 199.31,322.2 199.59,341.1 199.82,322.2 200.05,267.7 200.28,345.5 200.51,372.6 200.79,345.5 201.07,267.7 201.35,307.6 201.64,321.4 201.95,307.6 202.26,267.7 202.30,267.7 202.61,372.3 202.92,408.9 203.23,372.3 203.54,267.7 203.62,267.7 203.93,310.2 204.24,324.9 204.55,310.2 204.86,267.7 204.92,267.7 205.23,356.7 205.54,387.7 205.85,356.7 206.16,267.7 206.30,267.7 206.61,313.6 206.92,329.6 207.23,313.6 207.54,267.7 207.85,353.0 208.15,382.7 208.43,353.0 208.71,267.7 208.99,309.2 209.26,323.5 209.57,309.2 209.88,267.7 209.95,267.7 210.26,348.5 210.57,376.7 210.88,348.5 211.19,267.7 211.25,267.7 211.56,299.8 211.87,310.9 212.15,299.8 212.43,267.7 212.71,337.3 212.98,361.6 213.26,337.3 213.54,267.7 213.81,301.4 214.09,313.0 214.37,301.4 214.64,267.7 214.92,344.8 215.20,371.6 215.43,344.8 215.66,267.7 215.89,303.1 216.12,315.4 216.39,303.1 216.66,267.7 216.94,350.0 217.21,378.7 217.51,350.0 217.80,267.7 218.10,314.7 218.39,331.0 218.70,314.7 219.01,267.7 219.32,372.3 219.62,408.9 219.94,372.3 220.25,267.7 220.26,267.7 220.57,350.1 220.88,378.9 221.17,350.1 221.46,267.7 221.75,387.2 222.04,429.0 222.35,387.2 222.66,267.7 222.71,267.7 223.02,338.1 223.33,362.7 223.64,338.1 223.95,267.7 224.04,267.7 224.35,364.9 224.66,398.8 224.97,364.9 225.28,267.7 225.35,267.7 225.66,319.6 225.97,337.6 226.25,319.6 226.52,267.7 226.80,351.5 227.07,380.7 227.38,351.5 227.68,267.7 227.99,324.2 228.29,343.9 228.54,324.2 228.79,267.7 229.04,349.2 229.29,377.7 229.57,349.2 229.85,267.7 230.13,292.8 230.41,301.4 230.72,292.8 231.03,267.7 231.08,267.7 231.39,306.8 231.70,320.3 231.98,306.8 232.25,267.7 232.53,295.7 232.80,305.3 233.03,295.7 233.26,267.7 233.48,349.2 233.71,377.7 233.95,349.2 234.19,267.7 234.43,314.5 234.67,330.8 234.93,314.5 235.20,267.7 235.46,345.5 235.73,372.6 236.00,345.5 236.27,267.7 236.54,299.2 236.82,310.0 237.13,299.2 237.44,267.7 237.52,267.7 237.83,325.4 238.14,345.5 238.45,325.4 238.76,267.7 238.80,267.7 239.11,313.8 239.42,329.8 239.71,313.8 240.00,267.7 240.28,296.0 240.57,305.8 240.87,296.0 241.16,267.7 241.46,333.6 241.76,356.6 242.05,333.6 242.34,267.7 242.62,294.7 242.91,303.9 243.22,294.7 243.53,267.7 243.56,267.7 243.87,314.2 244.18,330.4 244.49,314.2 244.80,267.7 245.11,297.4 245.41,307.7 245.72,297.4 246.03,267.7 246.17,267.7 246.48,319.5 246.79,337.4 247.07,319.5 247.35,267.7 247.63,308.0 247.91,321.9 248.22,308.0 248.53,267.7 248.59,267.7 248.90,356.7 249.21,387.7 249.51,356.7 249.82,267.7 250.12,323.4 250.42,342.7 250.67,323.4 250.92,267.7 251.17,353.7 251.42,383.7 251.69,353.7 251.97,267.7 252.24,314.8 252.51,331.1 252.82,314.8 253.13,267.7 253.22,267.7 253.53,385.7 253.84,427.0 254.13,385.7 254.42,267.7 254.71,325.3 255.00,345.4 255.31,325.3 255.62,267.7 255.63,267.7 255.94,355.9 256.25,386.7 256.52,355.9 256.79,267.7 257.06,324.9 257.32,344.8 257.61,324.9 257.89,267.7 258.18,375.0 258.47,412.5 258.78,375.0 259.09,267.7 259.12,267.7 259.43,323.9 259.74,343.5 260.03,323.9 260.31,267.7 260.60,399.4 260.88,445.5 261.17,399.4 261.47,267.7 261.76,308.4 262.05,322.5 262.36,308.4 262.67,267.7 262.68,267.7 262.99,340.7 263.30,366.2 263.56,340.7 263.82,267.7 264.08,293.7 264.34,302.6 264.58,293.7 264.82,267.7 265.07,295.6 265.31,305.2 265.62,295.6 265.93,267.7 266.01,267.7 266.32,293.7 266.63,302.6 266.94,293.7 267.25,267.7 267.31,267.7 267.62,309.8 267.93,324.4 268.18,309.8 268.43,267.7 268.68,292.7 268.93,301.2 269.18,292.7 269.43,267.7 269.68,328.4 269.94,349.5 270.25,328.4 270.56,267.7 270.93,267.7 271.24,358.2 271.55,389.8 271.86,358.2 272.17,267.7 272.31,267.7 272.62,338.8 272.93,363.6 273.24,338.8 273.54,267.7 273.85,374.6 274.16,411.9 274.47,374.6 274.78,267.7 275.09,302.9 275.40,315.1 275.70,302.9 275.99,267.7 276.28,330.6 276.58,352.5 276.89,330.6 277.20,267.7 277.25,267.7 277.56,308.7 277.87,322.9 278.18,308.7 278.49,267.7 278.78,267.7 279.09,351.8 279.40,381.1 279.65,351.8 279.91,267.7 280.16,327.7 280.42,348.6 280.71,327.7 281.01,267.7 281.31,347.7 281.61,375.7 281.90,347.7 282.18,267.7 282.47,302.2 282.76,314.2 283.07,302.2 283.38,267.7 283.40,267.7 283.71,326.2 284.02,346.5 284.26,326.2 284.49,267.7 284.73,303.0 284.96,315.3 285.23,303.0 285.50,267.7 285.77,317.2 286.04,334.4 286.31,317.2 286.58,267.7 286.85,300.4 287.13,311.7 287.36,300.4 287.59,267.7 287.82,336.6 288.05,360.6 288.28,336.6 288.51,267.7 288.74,309.0 288.97,323.3 289.24,309.0 289.52,267.7 289.79,353.0 290.06,382.7 290.36,353.0 290.65,267.7 290.94,315.3 291.23,331.8 291.54,315.3 291.85,267.7 291.86,267.7 292.17,343.3 292.48,369.6 292.79,343.3 293.10,267.7 293.10,267.7 293.41,322.2 293.72,341.1 294.03,322.2 294.34,267.7 294.47,267.7 294.78,348.5 295.09,376.7 295.39,348.5 295.69,267.7 295.98,312.4 296.28,328.0 296.59,312.4 296.89,267.7 297.20,382.0 297.51,422.0 297.81,382.0 298.11,267.7 298.40,323.6 298.70,343.1 299.01,323.6 299.32,267.7 299.50,267.7 299.81,354.4 300.12,384.7 300.37,354.4 300.61,267.7 300.85,322.4 301.09,341.4 301.35,322.4 301.61,267.7 301.88,341.8 302.14,367.6 302.42,341.8 302.71,267.7 303.00,323.7 303.28,343.2 303.59,323.7 303.90,267.7 303.93,267.7 304.24,373.1 304.55,409.9 304.86,373.1 305.17,267.7 305.32,267.7 305.63,321.6 305.94,340.3 306.25,321.6 306.55,267.7 306.86,364.9 307.17,398.8 307.48,364.9 307.79,267.7 307.84,267.7 308.15,311.8 308.46,327.1 308.74,311.8 309.02,267.7 309.30,345.5 309.58,372.6 309.82,345.5 310.05,267.7 310.29,316.7 310.52,333.7 310.79,316.7 311.06,267.7 311.33,370.8 311.60,406.9 311.87,370.8 312.15,267.7 312.43,323.4 312.71,342.7 312.98,323.4 313.26,267.7 313.53,365.9 313.81,400.2 314.12,365.9 314.43,267.7 314.79,267.7 315.10,309.5 315.41,323.9 315.72,309.5 316.03,267.7 316.21,267.7 316.52,353.0 316.83,382.7 317.14,353.0 317.45,267.7 317.49,267.7 317.80,301.4 318.11,313.0 318.39,301.4 318.68,267.7 318.96,332.1 319.24,354.5 319.48,332.1 319.72,267.7 319.96,316.2 320.20,333.0 320.46,316.2 320.73,267.7 320.99,353.7 321.26,383.7 321.57,353.7 321.88,267.7 321.93,267.7 322.24,315.2 322.55,331.7 322.83,315.2 323.11,267.7 323.39,357.4 323.67,388.8 323.98,357.4 324.29,267.7 324.48,267.7 324.79,318.7 325.10,336.4 325.39,318.7 325.69,267.7 325.99,349.2 326.29,377.7 326.60,349.2 326.91,267.7 327.08,267.7 327.39,311.8 327.70,327.0 328.00,311.8 328.30,267.7 328.60,325.4 328.90,345.5 329.21,325.4 329.52,267.7 329.60,267.7 329.91,297.6 330.22,307.9 330.49,297.6 330.77,267.7 331.04,316.5 331.32,333.4 331.63,316.5 331.94,267.7 332.31,267.7 332.62,303.8 332.93,316.3 333.20,303.8 333.48,267.7 333.75,298.2 334.03,308.7 334.34,298.2 334.65,267.7 334.72,267.7 335.03,330.3 335.34,352.1 335.65,330.3 335.95,267.7 336.25,315.5 336.56,332.1 336.81,315.5 337.06,267.7 337.31,359.2 337.56,391.2 337.87,359.2 338.18,267.7 338.25,267.7 338.56,313.7 338.87,329.7 339.14,313.7 339.42,267.7 339.70,334.3 339.97,357.6 340.27,334.3 340.57,267.7 340.86,298.7 341.16,309.4 341.47,298.7 341.77,267.7 342.08,331.4 342.39,353.5 342.63,331.4 342.88,267.7 343.13,302.0 343.38,313.9 343.63,302.0 343.89,267.7 344.14,314.2 344.40,330.4 344.65,314.2 344.90,267.7 345.15,304.2 345.40,316.8 345.66,304.2 345.91,267.7 346.16,320.9 346.41,339.4 346.72,320.9 347.03,267.7 347.06,267.7 347.37,304.2 347.68,316.8 347.96,304.2 348.25,267.7 348.54,345.5 348.83,372.6 349.11,345.5 349.39,267.7 349.67,319.3 349.95,337.2 350.22,319.3 350.49,267.7 350.77,393.2 351.04,437.1 351.33,393.2 351.62,267.7 351.90,305.2 352.19,318.1 352.50,305.2 352.81,267.7 352.84,267.7 353.15,345.5 353.46,372.6 353.73,345.5 354.00,267.7 354.27,326.6 354.55,347.1 354.83,326.6 355.11,267.7 355.39,366.4 355.67,400.8 355.93,366.4 356.19,267.7 356.45,298.6 356.71,309.2 357.00,298.6 357.30,267.7 357.59,303.1 357.88,315.3 358.19,303.1 358.50,267.7 358.87,267.7 359.18,299.3 359.49,310.3 359.77,299.3 360.05,267.7 360.32,297.2 360.60,307.3 360.83,297.2 361.05,267.7 361.28,319.5 361.51,337.4 361.81,319.5 362.11,267.7 362.41,296.5 362.71,306.4 363.02,296.5 363.33,267.7 363.50,267.7 363.81,316.9 364.12,334.0 364.43,316.9 364.74,267.7 364.90,267.7 365.21,297.9 365.52,308.4 365.82,297.9 366.13,267.7 366.43,360.1 366.74,392.4 367.05,360.1 367.36,267.7 367.59,267.7 367.90,304.0 368.21,316.5 368.52,304.0 368.83,267.7 368.94,267.7 369.25,340.3 369.56,365.6 369.80,340.3 370.05,267.7 370.30,295.8 370.55,305.4 370.80,295.8 371.06,267.7 371.31,297.9 371.57,308.2 371.79,297.9 372.02,267.7 372.25,295.8 372.47,305.5 372.75,295.8 373.03,267.7 373.30,328.4 373.58,349.5 373.89,328.4 374.19,267.7 374.50,308.9 374.80,323.2 375.11,308.9 375.42,267.7 375.58,267.7 375.89,339.6 376.20,364.6 376.51,339.6 376.82,267.7 377.02,267.7 377.33,314.8 377.64,331.2 377.95,314.8 378.26,267.7 378.40,267.7 378.71,345.5 379.02,372.6 379.33,345.5 379.64,267.7 379.74,267.7 380.05,301.4 380.36,313.1 380.67,301.4 380.98,267.7 381.01,267.7 381.32,329.1 381.63,350.5 381.94,329.1 382.25,267.7 382.34,267.7 382.65,298.7 382.96,309.4 383.27,298.7 383.58,267.7 383.63,267.7 383.94,329.4 384.25,350.9 384.55,329.4 384.86,267.7 385.16,301.0 385.47,312.6 385.77,301.0 386.07,267.7 386.36,325.4 386.66,345.5 386.94,325.4 387.21,267.7 387.48,304.9 387.76,317.8 388.07,304.9 388.38,267.7 388.46,267.7 388.77,332.1 389.08,354.5 389.39,332.1 389.70,267.7 390.00,306.2 390.31,319.5 390.62,306.2 390.93,267.7 391.07,267.7 391.38,325.4 391.69,345.5 392.00,325.4 392.31,267.7 392.67,267.7 392.98,301.5 393.29,313.2 393.60,301.5 393.91,267.7 394.09,267.7 394.40,332.9 394.71,355.5 394.95,332.9 395.19,267.7 395.43,302.3 395.66,314.3 395.93,302.3 396.19,267.7 396.46,319.5 396.73,337.4 397.02,319.5 397.32,267.7 397.62,306.9 397.92,320.5 398.18,306.9 398.43,267.7 398.68,366.4 398.94,400.8 399.25,366.4 399.56,267.7 399.74,267.7 400.05,324.7 400.36,344.5 400.67,324.7 400.98,267.7 401.14,267.7 401.45,350.7 401.76,379.7 402.03,350.7 402.31,267.7 402.59,330.8 402.87,352.8 403.18,330.8 403.49,267.7 403.55,267.7 403.86,350.7 404.17,379.7 404.47,350.7 404.76,267.7 405.06,310.4 405.35,325.2 405.61,310.4 405.87,267.7 406.13,379.0 406.39,417.9 406.68,379.0 406.97,267.7 407.26,312.0 407.56,327.4 407.87,312.0 408.18,267.7 408.18,267.7 408.49,347.7 408.80,375.7 409.06,347.7 409.31,267.7 409.57,302.9 409.82,315.1 410.07,302.9 410.32,267.7 410.57,315.7 410.81,332.4 411.03,315.7 411.26,267.7 411.48,292.0 411.70,300.3 411.98,292.0 412.26,267.7 412.54,333.6 412.83,356.6 413.14,333.6 413.45,267.7 413.81,267.7 414.12,293.0 414.43,301.7 414.74,293.0 415.05,267.7 415.22,267.7 415.53,315.7 415.84,332.4 416.15,315.7 416.46,267.7 416.84,267.7 417.15,296.1 417.46,305.8 417.77,296.1 418.08,267.7 418.24,267.7 418.55,358.9 418.86,390.8 419.11,358.9 419.36,267.7 419.60,312.7 419.85,328.3 420.11,312.7 420.36,267.7 420.62,344.8 420.88,371.6 421.15,344.8 421.43,267.7 421.70,288.9 421.98,296.1 422.21,288.9 422.43,267.7 422.66,290.4 422.89,298.2 423.14,290.4 423.40,267.7 423.65,288.9 423.90,296.1 424.10,288.9 424.30,267.7 424.50,386.5 424.70,428.0 424.96,386.5 425.22,267.7 425.48,331.6 425.74,353.9 426.03,331.6 426.33,267.7 426.62,388.7 426.91,431.0 427.22,388.7 427.53,267.7 427.65,267.7 427.96,347.8 428.27,375.7 428.58,347.8 428.89,267.7 428.91,267.7 429.22,389.0 429.53,431.4 429.79,389.0 430.05,267.7 430.31,337.1 430.57,361.3 430.81,337.1 431.06,267.7 431.30,389.4 431.54,432.0 431.85,389.4 432.15,267.7 432.46,331.8 432.76,354.1 433.06,331.8 433.36,267.7 433.66,358.9 433.96,390.8 434.24,358.9 434.53,267.7 434.82,312.0 435.10,327.3 435.41,312.0 435.72,267.7 435.75,267.7 436.06,328.4 436.37,349.5 436.68,328.4 436.99,267.7 437.05,267.7 437.36,298.9 437.67,309.7 437.98,298.9 438.29,267.7 438.37,267.7 438.68,369.3 438.99,404.9 439.30,369.3 439.61,267.7 439.69,267.7 440.00,343.6 440.31,370.0 440.62,343.6 440.93,267.7 440.98,267.7 441.29,402.8 441.60,450.1 441.91,402.8 442.22,267.7 442.28,267.7 442.59,335.4 442.90,359.0 443.18,335.4 443.46,267.7 443.74,380.5 444.02,419.9 444.33,380.5 444.64,267.7 444.67,267.7 444.98,319.4 445.29,337.4 445.58,319.4 445.86,267.7 446.15,345.5 446.43,372.6 446.74,345.5 447.05,267.7 447.10,267.7 447.41,313.3 447.72,329.1 448.03,313.3 448.34,267.7 448.43,267.7 448.74,373.1 449.05,409.9 449.30,373.1 449.56,267.7 449.81,321.6 450.07,340.3 450.32,321.6 450.57,267.7 450.81,391.7 451.06,435.0 451.37,391.7 451.68,267.7 451.69,267.7 452.00,301.6 452.31,313.4 452.60,301.6 452.89,267.7 453.19,315.7 453.48,332.4 453.79,315.7 454.10,267.7 454.27,267.7 454.58,293.6 454.89,302.5 455.19,293.6 455.49,267.7 455.79,371.6 456.09,407.9 456.38,371.6 456.66,267.7 456.94,349.4 457.22,377.9 457.53,349.4 457.84,267.7 457.89,267.7 458.20,387.2 458.51,429.0 458.77,387.2 459.03,267.7 459.29,318.8 459.55,336.5 459.79,318.8 460.03,267.7 460.28,355.9 460.52,386.7 460.77,355.9 461.02,267.7 461.27,336.7 461.52,360.7 461.82,336.7 462.13,267.7 462.43,356.7 462.74,387.7 463.03,356.7 463.32,267.7 463.61,306.6 463.90,320.0 464.21,306.6 464.52,267.7 464.53,267.7 464.84,323.2 465.15,342.5 465.46,323.2 465.77,267.7 465.86,267.7 466.17,306.3 466.48,319.7 466.79,306.3 467.10,267.7 467.15,267.7 467.46,376.8 467.77,414.9 468.08,376.8 468.39,267.7 468.45,267.7 468.76,332.9 469.07,355.6 469.38,332.9 469.69,267.7 469.96,267.7 470.27,376.0 470.58,413.9 470.89,376.0 471.19,267.7 471.49,316.9 471.79,334.0 472.10,316.9 472.41,267.7 472.58,267.7 472.89,379.0 473.20,417.9 473.50,379.0 473.80,267.7 474.11,336.6 474.41,360.6 474.71,336.6 475.01,267.7 475.31,379.8 475.62,418.9 475.90,379.8 476.18,267.7 476.46,344.4 476.74,371.2 477.02,344.4 477.29,267.7 477.56,390.9 477.83,434.0 478.13,390.9 478.44,267.7 478.74,335.1 479.04,358.6 479.34,335.1 479.64,267.7 479.94,371.6 480.24,407.9 480.53,371.6 480.82,267.7 481.11,331.1 481.40,353.1 481.71,331.1 482.02,267.7 482.04,267.7 482.35,368.1 482.66,403.2 482.96,368.1 483.26,267.7 483.56,324.4 483.86,344.1 484.17,324.4 484.48,267.7 484.65,267.7 484.96,358.9 485.27,390.8 485.58,358.9 485.89,267.7 485.93,267.7 486.24,311.1 486.55,326.2 486.84,311.1 487.12,267.7 487.41,323.2 487.69,342.5 487.97,323.2 488.25,267.7 488.53,294.4 488.81,303.5 489.04,294.4 489.26,267.7 489.48,320.2 489.70,338.4 489.93,320.2 490.17,267.7 490.40,297.8 490.63,308.2 490.90,297.8 491.17,267.7 491.44,347.0 491.72,374.7 492.03,347.0 492.34,267.7 492.47,267.7 492.78,305.0 493.09,318.0 493.40,305.0 493.71,267.7 493.71,267.7 494.02,339.6 494.33,364.6 494.64,339.6 494.95,267.7 494.97,267.7 495.28,297.8 495.59,308.2 495.88,297.8 496.17,267.7 496.46,304.6 496.75,317.3 497.06,304.6 497.37,267.7 497.49,267.7 497.80,294.9 498.11,304.3 498.42,294.9 498.73,267.7 498.74,267.7 499.05,354.0 499.36,384.1 499.61,354.0 499.85,267.7 500.10,306.6 500.35,320.0 500.60,306.6 500.86,267.7 501.12,324.7 501.38,344.5 501.61,324.7 501.85,267.7 502.09,298.8 502.33,309.5 502.60,298.8 502.86,267.7 503.12,377.5 503.39,415.9 503.68,377.5 503.97,267.7 504.26,337.8 504.55,362.2 504.86,337.8 505.17,267.7 505.18,267.7 505.49,367.1 505.80,401.8 506.11,367.1 506.42,267.7 506.47,267.7 506.78,325.3 507.09,345.4 507.40,325.3 507.71,267.7 507.80,267.7 508.11,362.6 508.42,395.8 508.70,362.6 508.98,267.7 509.26,318.9 509.54,336.7 509.81,318.9 510.09,267.7 510.36,343.3 510.63,369.6 510.88,343.3 511.13,267.7 511.38,325.7 511.63,345.9 511.94,325.7 512.24,267.7 512.54,389.4 512.85,432.0 513.15,389.4 513.45,267.7 513.75,326.4 514.05,346.8 514.36,326.4 514.67,267.7 514.84,267.7 515.15,357.4 515.46,388.8 515.75,357.4 516.04,267.7 516.32,293.4 516.61,302.2 516.92,293.4 517.23,267.7 517.26,267.7 517.57,317.2 517.88,334.4 518.19,317.2 518.50,267.7 518.87,267.7 519.18,341.8 519.49,367.6 519.80,341.8 520.11,267.7 520.13,267.7 520.44,303.2 520.75,315.5 521.03,303.2 521.32,267.7 521.61,377.5 521.90,415.9 522.18,377.5 522.45,267.7 522.73,334.6 523.00,357.9 523.23,334.6 523.46,267.7 523.69,393.6 523.91,437.7 524.22,393.6 524.53,267.7 524.69,267.7 525.00,321.1 525.31,339.7 525.61,321.1 525.92,267.7 526.22,370.1 526.53,405.9 526.81,370.1 527.08,267.7 527.35,331.9 527.63,354.2 527.94,331.9 528.25,267.7 528.33,267.7 528.64,352.2 528.95,381.7 529.25,352.2 529.56,267.7 529.86,317.6 530.17,335.0 530.41,317.6 530.66,267.7 530.91,377.1 531.16,415.3 531.44,377.1 531.72,267.7 532.00,328.1 532.28,349.2 532.59,328.1 532.90,267.7 532.96,267.7 533.27,356.7 533.58,387.7 533.81,356.7 534.05,267.7 534.28,333.6 534.52,356.5 534.79,333.6 535.05,267.7 535.32,358.2 535.59,389.8 535.87,358.2 536.16,267.7 536.45,332.3 536.73,354.8 537.04,332.3 537.35,267.7 537.38,267.7 537.69,363.4 538.00,396.8 538.31,363.4 538.62,267.7 538.62,267.7 538.93,312.6 539.24,328.1 539.55,312.6 539.86,267.7 540.00,267.7 540.31,347.7 540.62,375.7 540.89,347.7 541.16,267.7 541.44,313.5 541.71,329.3 542.02,313.5 542.33,267.7 542.41,267.7 542.72,380.5 543.03,419.9 543.33,380.5 543.63,267.7 543.93,335.4 544.23,358.9 544.53,335.4 544.84,267.7 545.14,394.7 545.45,439.1 545.70,394.7 545.96,267.7 546.21,321.1 546.47,339.7 546.77,321.1 547.07,267.7 547.36,348.5 547.66,376.7 547.94,348.5 548.22,267.7 548.49,327.9 548.77,348.9 549.08,327.9 549.39,267.7 549.46,267.7 549.77,364.1 550.08,397.8 550.31,364.1 550.54,267.7 550.77,292.7 551.00,301.3 551.27,292.7 551.55,267.7 551.82,307.5 552.09,321.3 552.33,307.5 552.56,267.7 552.80,297.3 553.03,307.5 553.30,297.3 553.57,267.7 553.84,332.9 554.10,355.5 554.41,332.9 554.72,267.7 554.73,267.7 555.04,295.8 555.35,305.5 555.66,295.8 555.97,267.7 556.10,267.7 556.41,314.2 556.72,330.4 557.02,314.2 557.32,267.7 557.62,302.0 557.92,313.8 558.22,302.0 558.53,267.7 558.83,329.4 559.13,350.9 559.39,329.4 559.66,267.7 559.92,298.0 560.18,308.4 560.47,298.0 560.76,267.7 561.05,321.7 561.35,340.4 561.63,321.7 561.91,267.7 562.19,301.3 562.47,313.0 562.78,301.3 563.09,267.7 563.14,267.7 563.45,341.0 563.76,366.6 564.02,341.0 564.27,267.7 564.52,317.5 564.77,334.8 565.02,317.5 565.27,267.7 565.52,372.3 565.77,408.9 566.04,372.3 566.31,267.7 566.58,318.7 566.85,336.4 567.14,318.7 567.42,267.7 567.70,421.5 567.99,475.3 568.30,421.5 568.61,267.7 568.69,267.7 569.00,321.9 569.31,340.7 569.62,321.9 569.93,267.7 570.19,267.7 570.50,365.6 570.81,399.8 571.12,365.6 571.43,267.7 571.47,267.7 571.78,307.7 572.09,321.6 572.37,307.7 572.66,267.7 572.94,338.8 573.22,363.6 573.47,338.8 573.72,267.7 573.97,307.7 574.22,321.6 574.53,307.7 574.83,267.7 575.13,345.5 575.43,372.6 575.74,345.5 576.05,267.7 576.10,267.7 576.41,302.9 576.72,315.1 577.01,302.9 577.29,267.7 577.57,324.4 577.85,344.1 578.16,324.4 578.47,267.7 578.51,267.7 578.82,297.5 579.13,307.7 579.42,297.5 579.70,267.7 579.98,320.2 580.26,338.4 580.58,320.2 580.88,267.7 580.98,267.7 581.29,303.6 581.60,316.0 581.91,303.6 582.22,267.7 582.26,267.7 582.57,315.7 582.88,332.4 583.10,315.7 583.33,267.7 583.55,293.9 583.78,303.0 584.06,293.9 584.33,267.7 584.61,297.1 584.89,307.2 585.19,297.1 585.48,267.7 585.78,294.1 586.07,303.2 586.38,294.1 586.69,267.7 587.00,362.9 587.31,396.2 587.55,362.9 587.78,267.7 588.02,304.7 588.26,317.5 588.52,304.7 588.79,267.7 589.06,343.3 589.32,369.6 589.59,343.3 589.85,267.7 590.12,313.2 590.38,329.0 590.67,313.2 590.96,267.7 591.25,343.3 591.54,369.6 591.85,343.3 592.16,267.7 592.28,267.7 592.59,312.0 592.90,327.3 593.21,312.0 593.52,267.7 593.53,267.7 593.84,386.5 594.15,428.0 594.46,386.5 594.77,267.7 594.94,267.7 595.25,341.5 595.56,367.2 595.87,341.5 596.18,267.7 596.35,267.7 596.66,365.6 596.97,399.8 597.20,365.6 597.43,267.7 597.66,308.3 597.89,322.3 598.17,308.3 598.44,267.7 598.71,340.3 598.98,365.6 599.29,340.3 599.60,267.7 599.63,267.7 599.94,319.7 600.25,337.8 600.54,319.7 600.82,267.7 601.11,382.7 601.40,423.0 601.65,382.7 601.90,267.7 602.15,323.5 602.40,342.9 602.71,323.5 603.01,267.7 603.31,361.9 603.61,394.8 603.92,361.9 604.23,267.7 604.33,267.7 604.64,323.1 604.95,342.4 605.26,323.1 605.57,267.7 605.81,267.7 606.12,409.8 606.43,459.6 606.72,409.8 607.02,267.7 607.32,324.5 607.62,344.3 607.87,324.5 608.13,267.7 608.39,341.0 608.64,366.6 608.91,341.0 609.17,267.7 609.43,295.5 609.70,305.0 609.94,295.5 610.18,267.7 610.42,320.2 610.65,338.4 610.96,320.2 611.27,267.7 611.44,267.7 611.75,327.6 612.06,348.5 612.31,327.6 612.55,267.7 612.79,296.1 613.04,305.9 613.30,296.1 613.56,267.7 613.82,311.3 614.08,326.4 614.31,311.3 614.55,267.7 614.78,299.6 615.02,310.6 615.29,299.6 615.55,267.7 615.82,324.7 616.09,344.5 616.34,324.7 616.59,267.7 616.84,311.9 617.09,327.2 617.35,311.9 617.60,267.7 617.85,332.1 618.10,354.5 618.37,332.1 618.65,267.7 618.92,312.5 619.19,328.1 619.42,312.5 619.65,267.7 619.88,360.4 620.11,392.8 620.34,360.4 620.57,267.7 620.80,309.8 621.03,324.3 621.30,309.8 621.58,267.7 621.85,355.9 622.12,386.7 622.37,355.9 622.61,267.7 622.85,311.5 623.10,326.6 623.36,311.5 623.62,267.7 623.88,362.9 624.14,396.2 624.45,362.9 624.76,267.7 625.06,344.0 625.37,370.5 625.67,344.0 625.96,267.7 626.26,368.1 626.55,403.2 626.86,368.1 627.17,267.7 627.22,267.7 627.53,298.3 627.84,308.9 628.15,298.3 628.46,267.7 628.55,267.7 628.86,332.1 629.17,354.5 629.48,332.1 629.79,267.7 629.91,267.7 630.22,307.4 630.53,321.1 630.84,307.4 631.15,267.7 631.17,267.7 631.48,338.1 631.79,362.6 632.03,338.1 632.27,267.7 632.51,307.1 632.75,320.7 633.01,307.1 633.27,267.7 633.54,317.2 633.80,334.4 634.11,317.2 634.42,267.7 634.42,267.7 634.73,302.2 635.04,314.1 635.33,302.2 635.63,267.7 635.92,348.5 636.21,376.7 636.52,348.5 636.83,267.7 636.90,267.7 637.21,318.0 637.52,335.5 637.83,318.0 638.14,267.7 638.21,267.7 638.52,339.6 638.83,364.6 639.12,339.6 639.42,267.7 639.71,307.8 640.01,321.7 640.32,307.8 640.63,267.7 640.93,360.0 641.24,392.2 641.55,360.0 641.86,267.7 641.89,267.7 642.20,323.2 642.51,342.5 642.82,323.2 643.13,267.7 643.24,267.7 643.55,385.0 643.86,426.0 644.17,385.0 644.48,267.7 644.57,267.7 644.88,359.4 645.19,391.4 645.50,359.4 645.81,267.7 645.86,267.7 646.17,421.5 646.48,475.3 646.79,421.5 647.10,267.7 647.13,267.7 647.44,332.2 647.75,354.7 648.04,332.2 648.32,267.7 648.61,372.3 648.89,408.9 649.18,372.3 649.47,267.7 649.76,335.3 650.05,358.9 650.36,335.3 650.67,267.7 650.69,267.7 651.00,370.1 651.31,405.9 651.57,370.1 651.83,267.7 652.09,307.0 652.35,320.6 652.59,307.0 652.84,267.7 653.08,319.5 653.32,337.4 653.63,319.5 653.94,267.7 654.10,267.7 654.41,308.0 654.72,322.0 655.02,308.0 655.33,267.7 655.63,325.4 655.94,345.5 656.24,325.4 656.55,267.7 656.86,310.2 657.17,325.0 657.46,310.2 657.76,267.7 658.05,367.9 658.35,402.8 658.65,367.9 658.95,267.7 659.26,341.8 659.56,367.6 659.81,341.8 660.06,267.7 660.31,385.0 660.56,426.0 660.86,385.0 661.16,267.7 661.46,337.6 661.75,362.0 662.06,337.6 662.37,267.7 662.67,376.8 662.98,414.9 663.28,376.8 663.57,267.7 663.87,337.9 664.17,362.3 664.48,337.9 664.79,267.7 664.98,267.7 665.29,383.5 665.60,424.0 665.88,383.5 666.16,267.7 666.45,327.3 666.73,348.0 667.04,327.3 667.35,267.7 667.39,267.7 667.70,361.1 668.01,393.8 668.32,361.1 668.63,267.7 668.66,267.7 668.97,327.4 669.28,348.2 669.57,327.4 669.85,267.7 670.14,350.7 670.42,379.7 670.73,350.7 671.04,267.7 671.07,267.7 671.38,323.4 671.69,342.8 672.00,323.4 672.31,267.7 672.42,267.7 672.73,369.0 673.04,404.4 673.34,369.0 673.63,267.7 673.93,308.2 674.22,322.3 674.53,308.2 674.84,267.7 675.15,324.7 675.46,344.5 675.77,324.7 676.08,267.7 676.13,267.7 676.44,306.6 676.75,320.1 677.03,306.6 677.31,267.7 677.59,342.5 677.87,368.6 678.17,342.5 678.47,267.7 678.77,302.0 679.07,313.9 679.38,302.0 679.69,267.7 679.87,267.7 680.18,338.1 680.49,362.6 680.80,338.1 681.11,267.7 681.29,267.7 681.60,320.5 681.91,338.9 682.21,320.5 682.51,267.7 682.81,348.2 683.10,376.3 683.41,348.2 683.72,267.7 683.78,267.7 684.09,311.2 684.40,326.3 684.71,311.2 685.02,267.7 685.10,267.7 685.41,347.7 685.72,375.7 686.03,347.7 686.34,267.7 686.41,267.7 686.72,310.8 687.03,325.7 687.31,310.8 687.58,267.7 687.86,348.2 688.13,376.3 688.44,348.2 688.75,267.7 688.82,267.7 689.13,308.7 689.44,323.0 689.72,308.7 690.00,267.7 690.27,343.3 690.55,369.6 690.83,343.3 691.11,267.7 691.39,297.4 691.67,307.6 691.89,297.4 692.11,267.7 692.34,312.0 692.56,327.4 692.80,312.0 693.04,267.7 693.29,293.0 693.53,301.7 693.79,293.0 694.05,267.7 694.31,294.9 694.58,304.2 694.88,294.9 695.20,267.7 695.28,267.7 695.59,291.7 695.90,300.0 696.17,291.7 696.45,267.7 696.72,344.0 696.99,370.6 697.30,344.0 697.61,267.7 697.68,267.7 697.99,319.9 698.30,338.0 698.61,319.9 698.92,267.7 698.99,267.7 699.30,343.3 699.61,369.6 699.92,343.3 700.23,267.7 700.38,267.7 700.69,307.9 701.00,321.9 701.30,307.9 701.61,267.7 701.92,358.2 702.22,389.8 702.52,358.2 702.82,267.7 703.12,295.8 703.42,305.4 703.72,295.8 704.03,267.7 704.33,306.8 704.64,320.3 704.86,306.8 705.09,267.7 705.32,296.4 705.55,306.3 705.82,296.4 706.10,267.7 706.37,305.3 706.65,318.3 706.96,305.3 707.27,267.7 707.65,267.7 707.96,297.6 708.27,307.9 708.58,297.6 708.89,267.7 709.05,267.7 709.36,347.7 709.67,375.7 709.94,347.7 710.22,267.7 710.49,307.1 710.77,320.7 711.08,307.1 711.39,267.7 711.46,267.7 711.77,359.7 712.08,391.8 712.33,359.7 712.58,267.7 712.83,319.5 713.08,337.6 713.38,319.5 713.69,267.7 713.99,338.1 714.30,362.6 714.60,338.1 714.90,267.7 715.19,317.5 715.49,334.8 715.80,317.5 716.10,267.7 716.41,358.5 716.71,390.2 717.01,358.5 717.31,267.7 717.61,315.7 717.91,332.4 718.22,315.7 718.53,267.7 718.71,267.7 719.02,350.7 719.33,379.7 719.63,350.7 719.94,267.7 720.24,327.0 720.55,347.6 720.86,327.0 721.17,267.7 721.33,267.7 721.63,364.9 721.95,398.8 722.23,364.9 722.51,267.7 722.80,296.7 723.08,306.7 723.39,296.7 723.70,267.7 723.74,267.7 724.05,307.1 724.36,320.7 724.65,307.1 724.94,267.7 725.22,297.9 725.51,308.3 725.82,297.9 726.13,267.7 726.16,267.7 726.47,329.9 726.78,351.5 727.09,329.9 727.40,267.7 727.52,267.7 727.83,312.7 728.14,328.4 728.45,312.7 728.76,267.7 728.77,267.7 729.08,332.9 729.39,355.5 729.67,332.9 729.94,267.7 730.22,308.1 730.50,322.1 730.81,308.1 731.12,267.7 731.19,267.7 731.50,326.9 731.81,347.5 732.05,326.9 732.29,267.7 732.54,293.7 732.78,302.6 733.04,293.7 733.30,267.7 733.56,295.6 733.82,305.2 734.09,295.6 734.35,267.7 734.62,293.7 734.88,302.6 735.12,293.7 735.36,267.7 735.59,300.1 735.83,311.3 736.14,300.1 736.45,267.7 736.74,267.7 737.05,296.5 737.36,306.4 737.67,296.5 737.98,267.7 738.23,267.7 738.54,338.8 738.85,363.6 739.08,338.8 739.30,267.7 739.53,307.9 739.76,321.9 740.04,307.9 740.31,267.7 740.59,320.2 740.86,338.4 741.09,320.2 741.32,267.7 741.55,307.4 741.78,321.2 742.06,307.4 742.33,267.7 742.60,366.4 742.88,400.8 743.16,366.4 743.44,267.7 743.72,302.4 744.00,314.4 744.22,302.4 744.44,267.7 744.66,314.2 744.89,330.4 745.16,314.2 745.43,267.7 745.70,300.8 745.97,312.2 746.21,300.8 746.44,267.7 746.67,338.1 746.90,362.6 747.21,338.1 747.52,267.7 747.56,267.7 747.87,322.5 748.18,341.5 748.46,322.5 748.75,267.7 749.03,367.9 749.32,402.8 749.61,367.9 749.91,267.7 750.21,317.2 750.51,334.4 750.82,317.2 751.13,267.7 751.31,267.7 751.62,357.4 751.93,388.8 752.18,357.4 752.42,267.7 752.66,303.1 752.91,315.3 753.17,303.1 753.43,267.7 753.69,316.5 753.94,333.4 754.25,316.5 754.56,267.7 754.57,267.7 754.88,299.2 755.19,310.0 755.48,299.2 755.77,267.7 756.07,357.4 756.36,388.8 756.61,357.4 756.87,267.7 757.12,304.3 757.38,317.0 757.68,304.3 757.98,267.7 758.27,328.4 758.57,349.5 758.87,328.4 759.16,267.7 759.46,296.9 759.76,307.0 760.06,296.9 760.37,267.7 760.68,363.4 760.99,396.8 761.30,363.4 761.61,267.7 761.63,267.7 761.94,333.4 762.25,356.2 762.56,333.4 762.87,267.7"/>
<text class="tk" text-anchor="end" transform="translate(111.4 15.2) scale(0.904 1)">4.0E-04</text>
<text class="tk" text-anchor="end" transform="translate(111.4 145.1) scale(0.904 1)">2.0E-04</text>
<text class="tk" text-anchor="end" transform="translate(111.4 275.0) scale(0.904 1)">0.0E+00</text>
<text class="tk" text-anchor="end" transform="translate(111.4 404.8) scale(0.904 1)">-2.0E-04</text>
<text class="tk" text-anchor="end" transform="translate(111.4 534.7) scale(0.904 1)">-4.0E-04</text>
<text class="tk" text-anchor="middle" transform="translate(118.9 551.9) scale(0.904 1)">0</text>
<text class="tk" text-anchor="middle" transform="translate(247.5 551.9) scale(0.904 1)">2</text>
<text class="tk" text-anchor="middle" transform="translate(376.1 551.9) scale(0.904 1)">4</text>
<text class="tk" text-anchor="middle" transform="translate(504.7 551.9) scale(0.904 1)">6</text>
<text class="tk" text-anchor="middle" transform="translate(633.3 551.9) scale(0.904 1)">8</text>
<text class="tk" text-anchor="middle" transform="translate(761.9 551.9) scale(0.904 1)">10</text>
<text class="ti" text-anchor="middle" x="440.1" y="584.6">Time (s)</text>
<text class="ti" text-anchor="middle" transform="translate(18.6 251.3) rotate(-90)">Strain response</text>
<rect x="358.50" y="27.40" width="166.00" height="33.10" fill="#fff" stroke="#000" stroke-width="1.5"/>
<path d="M361.20 44.35h54.5" stroke="#0000ff" stroke-width="1.4" fill="none"/>
<text class="lg" x="421.7" y="52.7">Element 4</text>
</g>
<g>
<clipPath id="c1"><rect x="945.90" y="2.50" width="644.90" height="518.50"/></clipPath>
<path class="t" d="M946.90 57.08h6.3M1589.80 57.08h-6.3M946.90 166.24h6.3M1589.80 166.24h-6.3M946.90 275.39h6.3M1589.80 275.39h-6.3M946.90 384.55h6.3M1589.80 384.55h-6.3M946.90 493.71h6.3M1589.80 493.71h-6.3M1075.48 521.00v-6.3M1075.48 2.50v6.3M1204.06 521.00v-6.3M1204.06 2.50v6.3M1332.64 521.00v-6.3M1332.64 2.50v6.3M1461.22 521.00v-6.3M1461.22 2.50v6.3"/>
<rect class="fr" x="946.90" y="2.50" width="642.90" height="518.50"/>
<polyline class="s" clip-path="url(#c1)" points="946.26,276.0 946.57,254.0 946.88,246.4 947.16,254.0 947.44,276.0 947.72,244.2 948.01,233.2 948.32,244.2 948.63,276.0 948.65,276.0 948.96,251.1 949.27,242.6 949.56,251.1 949.85,276.0 950.13,174.9 950.42,139.7 950.68,174.9 950.93,276.0 951.19,219.2 951.45,199.5 951.74,219.2 952.04,276.0 952.34,145.9 952.63,100.4 952.94,145.9 953.24,276.0 953.54,218.8 953.84,198.9 954.14,218.8 954.45,276.0 954.75,184.3 955.05,152.3 955.33,184.3 955.62,276.0 955.90,239.6 956.18,227.0 956.49,239.6 956.80,276.0 956.85,276.0 957.15,213.2 957.47,191.4 957.71,213.2 957.95,276.0 958.19,246.3 958.43,236.1 958.69,246.3 958.95,276.0 959.22,229.3 959.48,213.1 959.78,229.3 960.08,276.0 960.38,223.3 960.68,205.1 960.91,223.3 961.14,276.0 961.37,249.7 961.60,240.7 961.88,249.7 962.15,276.0 962.42,192.4 962.70,163.2 962.92,192.4 963.14,276.0 963.37,220.5 963.59,201.2 963.87,220.5 964.15,276.0 964.43,186.4 964.71,155.2 965.00,186.4 965.28,276.0 965.57,229.2 965.86,213.0 966.17,229.2 966.48,276.0 966.50,276.0 966.82,165.3 967.12,126.6 967.43,165.3 967.75,276.0 967.81,276.0 968.12,225.9 968.43,208.4 968.71,225.9 968.98,276.0 969.26,196.8 969.54,169.2 969.85,196.8 970.16,276.0 970.23,276.0 970.54,239.5 970.85,226.9 971.16,239.5 971.47,276.0 971.54,276.0 971.85,229.3 972.16,213.1 972.44,229.3 972.72,276.0 973.00,246.3 973.29,236.0 973.60,246.3 973.91,276.0 973.95,276.0 974.26,202.8 974.57,177.3 974.84,202.8 975.11,276.0 975.37,240.9 975.64,228.8 975.93,240.9 976.21,276.0 976.50,186.1 976.78,154.8 977.08,186.1 977.38,276.0 977.67,206.7 977.97,182.6 978.28,206.7 978.58,276.0 978.89,170.8 979.20,134.0 979.48,170.8 979.76,276.0 980.04,202.1 980.32,176.4 980.63,202.1 980.94,276.0 981.00,276.0 981.31,156.3 981.62,114.5 981.87,156.3 982.13,276.0 982.39,209.8 982.65,186.8 982.89,209.8 983.14,276.0 983.38,137.7 983.63,89.3 983.94,137.7 984.25,276.0 984.26,276.0 984.57,227.2 984.88,210.2 985.19,227.2 985.50,276.0 985.62,276.0 985.93,209.9 986.24,187.0 986.55,209.9 986.86,276.0 986.88,276.0 987.19,224.0 987.50,205.9 987.79,224.0 988.08,276.0 988.37,180.2 988.66,146.7 988.91,180.2 989.16,276.0 989.41,203.1 989.65,177.7 989.91,203.1 990.16,276.0 990.42,166.3 990.67,128.0 990.98,166.3 991.29,276.0 991.32,276.0 991.63,224.3 991.94,206.4 992.25,224.3 992.56,276.0 992.67,276.0 992.98,186.9 993.29,155.8 993.55,186.9 993.81,276.0 994.06,228.8 994.32,212.4 994.57,228.8 994.81,276.0 995.06,172.7 995.30,136.6 995.60,172.7 995.89,276.0 996.19,236.8 996.48,223.3 996.79,236.8 997.10,276.0 997.41,220.4 997.72,201.0 998.03,220.4 998.34,276.0 998.44,276.0 998.75,243.4 999.06,232.2 999.37,243.4 999.68,276.0 999.71,276.0 1000.02,170.9 1000.33,134.2 1000.60,170.9 1000.88,276.0 1001.15,226.5 1001.42,209.3 1001.73,226.5 1002.04,276.0 1002.13,276.0 1002.44,189.8 1002.75,159.8 1003.06,189.8 1003.37,276.0 1003.41,276.0 1003.72,234.8 1004.03,220.6 1004.34,234.8 1004.65,276.0 1004.74,276.0 1005.05,205.2 1005.36,180.5 1005.64,205.2 1005.91,276.0 1006.18,244.6 1006.46,233.7 1006.77,244.6 1007.08,276.0 1007.16,276.0 1007.47,217.1 1007.78,196.6 1008.09,217.1 1008.40,276.0 1008.54,276.0 1008.85,241.2 1009.16,229.2 1009.47,241.2 1009.78,276.0 1010.08,225.6 1010.39,208.1 1010.70,225.6 1011.01,276.0 1011.09,276.0 1011.40,250.8 1011.71,242.2 1012.02,250.8 1012.33,276.0 1012.39,276.0 1012.70,241.2 1013.01,229.2 1013.23,241.2 1013.45,276.0 1013.67,261.6 1013.89,256.8 1014.13,261.6 1014.36,276.0 1014.59,260.6 1014.82,255.4 1015.13,260.6 1015.44,276.0 1015.81,276.0 1016.12,183.1 1016.43,150.7 1016.74,183.1 1017.04,276.0 1017.34,245.7 1017.65,235.3 1017.95,245.7 1018.25,276.0 1018.55,236.8 1018.85,223.2 1019.16,236.8 1019.47,276.0 1019.78,276.0 1020.09,255.8 1020.40,248.9 1020.71,255.8 1021.02,276.0 1021.45,276.0 1021.76,180.9 1022.07,147.7 1022.38,180.9 1022.69,276.0 1022.88,276.0 1023.19,215.1 1023.50,193.9 1023.81,215.1 1024.12,276.0 1024.26,276.0 1024.57,189.1 1024.88,158.8 1025.15,189.1 1025.41,276.0 1025.68,232.1 1025.95,216.8 1026.18,232.1 1026.42,276.0 1026.66,216.6 1026.90,196.0 1027.18,216.6 1027.46,276.0 1027.74,246.9 1028.03,236.9 1028.34,246.9 1028.65,276.0 1028.69,276.0 1029.00,184.3 1029.31,152.3 1029.62,184.3 1029.93,276.0 1030.04,276.0 1030.35,222.2 1030.66,203.5 1030.97,222.2 1031.28,276.0 1031.31,276.0 1031.62,192.4 1031.93,163.2 1032.23,192.4 1032.53,276.0 1032.83,232.5 1033.14,217.5 1033.45,232.5 1033.76,276.0 1033.92,276.0 1034.23,180.9 1034.54,147.7 1034.82,180.9 1035.09,276.0 1035.36,230.0 1035.64,214.0 1035.95,230.0 1036.26,276.0 1036.34,276.0 1036.65,202.2 1036.96,176.5 1037.25,202.2 1037.53,276.0 1037.82,238.3 1038.11,225.2 1038.37,238.3 1038.64,276.0 1038.91,205.0 1039.17,180.3 1039.42,205.0 1039.66,276.0 1039.91,219.7 1040.15,200.1 1040.41,219.7 1040.67,276.0 1040.93,181.9 1041.18,149.1 1041.49,181.9 1041.80,276.0 1042.03,276.0 1042.34,212.1 1042.65,189.9 1042.96,212.1 1043.27,276.0 1043.38,276.0 1043.69,173.0 1044.00,137.0 1044.31,173.0 1044.62,276.0 1044.65,276.0 1044.96,203.8 1045.27,178.7 1045.56,203.8 1045.85,276.0 1046.13,140.4 1046.42,93.0 1046.69,140.4 1046.96,276.0 1047.23,187.7 1047.50,156.9 1047.79,187.7 1048.07,276.0 1048.35,131.0 1048.63,80.3 1048.94,131.0 1049.25,276.0 1049.30,276.0 1049.61,202.6 1049.92,177.1 1050.20,202.6 1050.48,276.0 1050.76,182.7 1051.05,150.1 1051.36,182.7 1051.67,276.0 1051.69,276.0 1052.00,211.8 1052.31,189.5 1052.62,211.8 1052.93,276.0 1053.04,276.0 1053.35,190.9 1053.66,161.2 1053.97,190.9 1054.27,276.0 1054.58,232.5 1054.88,217.5 1055.18,232.5 1055.48,276.0 1055.78,198.0 1056.08,170.9 1056.38,198.0 1056.68,276.0 1056.98,252.4 1057.28,244.3 1057.53,252.4 1057.79,276.0 1058.04,244.2 1058.29,233.2 1058.54,244.2 1058.78,276.0 1059.03,260.9 1059.27,255.8 1059.48,260.9 1059.69,276.0 1059.90,259.8 1060.10,254.4 1060.36,259.8 1060.62,276.0 1060.88,260.9 1061.14,255.8 1061.39,260.9 1061.63,276.0 1061.87,227.1 1062.12,210.1 1062.41,227.1 1062.71,276.0 1063.01,240.7 1063.31,228.6 1063.56,240.7 1063.82,276.0 1064.07,216.6 1064.33,196.0 1064.60,216.6 1064.88,276.0 1065.16,232.3 1065.43,217.2 1065.74,232.3 1066.05,276.0 1066.12,276.0 1066.43,220.7 1066.74,201.4 1067.05,220.7 1067.36,276.0 1067.41,276.0 1067.72,236.5 1068.03,222.8 1068.31,236.5 1068.59,276.0 1068.88,218.9 1069.16,199.0 1069.41,218.9 1069.65,276.0 1069.90,240.6 1070.15,228.3 1070.40,240.6 1070.66,276.0 1070.92,209.2 1071.17,185.9 1071.43,209.2 1071.69,276.0 1071.95,251.4 1072.22,243.0 1072.51,251.4 1072.80,276.0 1073.09,236.0 1073.38,222.2 1073.69,236.0 1074.00,276.0 1074.08,276.0 1074.39,246.3 1074.70,236.1 1074.97,246.3 1075.25,276.0 1075.52,208.2 1075.80,184.5 1076.10,208.2 1076.40,276.0 1076.70,246.1 1077.00,235.8 1077.30,246.1 1077.61,276.0 1077.91,228.6 1078.21,212.1 1078.52,228.6 1078.82,276.0 1079.12,245.3 1079.43,234.7 1079.68,245.3 1079.93,276.0 1080.18,170.8 1080.43,134.0 1080.70,170.8 1080.97,276.0 1081.24,225.4 1081.52,207.8 1081.83,225.4 1082.14,276.0 1082.22,276.0 1082.53,149.6 1082.84,105.4 1083.15,149.6 1083.46,276.0 1083.47,276.0 1083.78,218.9 1084.09,199.0 1084.38,218.9 1084.68,276.0 1084.97,187.2 1085.26,156.2 1085.56,187.2 1085.86,276.0 1086.16,231.8 1086.46,216.5 1086.72,231.8 1086.97,276.0 1087.22,186.9 1087.47,155.8 1087.78,186.9 1088.09,276.0 1088.12,276.0 1088.43,222.3 1088.74,203.6 1089.02,222.3 1089.31,276.0 1089.60,177.9 1089.89,143.7 1090.20,177.9 1090.51,276.0 1090.53,276.0 1090.84,235.7 1091.15,221.8 1091.44,235.7 1091.73,276.0 1092.01,219.6 1092.30,200.0 1092.57,219.6 1092.84,276.0 1093.11,254.2 1093.38,246.7 1093.66,254.2 1093.95,276.0 1094.23,244.2 1094.52,233.2 1094.77,244.2 1095.03,276.0 1095.28,251.6 1095.54,243.2 1095.79,251.6 1096.03,276.0 1096.28,219.6 1096.53,200.0 1096.76,219.6 1097.00,276.0 1097.23,231.1 1097.47,215.6 1097.69,231.1 1097.91,276.0 1098.12,207.0 1098.34,182.9 1098.65,207.0 1098.96,276.0 1099.06,276.0 1099.37,237.5 1099.68,224.3 1099.99,237.5 1100.30,276.0 1100.34,276.0 1100.65,188.1 1100.96,157.4 1101.23,188.1 1101.51,276.0 1101.79,236.4 1102.06,222.7 1102.29,236.4 1102.52,276.0 1102.74,192.1 1102.97,162.8 1103.28,192.1 1103.59,276.0 1103.59,276.0 1103.90,246.8 1104.21,236.8 1104.52,246.8 1104.83,276.0 1104.97,276.0 1105.28,218.9 1105.59,199.0 1105.89,218.9 1106.20,276.0 1106.51,241.0 1106.81,229.0 1107.11,241.0 1107.41,276.0 1107.70,204.3 1108.00,179.3 1108.29,204.3 1108.57,276.0 1108.86,253.1 1109.15,245.3 1109.46,253.1 1109.77,276.0 1109.80,276.0 1110.11,247.9 1110.41,238.3 1110.72,247.9 1111.03,276.0 1111.41,276.0 1111.72,250.9 1112.03,242.3 1112.26,250.9 1112.50,276.0 1112.73,254.0 1112.97,246.5 1113.24,254.0 1113.50,276.0 1113.77,238.5 1114.04,225.6 1114.35,238.5 1114.66,276.0 1114.79,276.0 1115.10,248.6 1115.41,239.1 1115.72,248.6 1116.03,276.0 1116.03,276.0 1116.34,220.1 1116.65,200.6 1116.91,220.1 1117.16,276.0 1117.41,252.2 1117.66,244.0 1117.91,252.2 1118.17,276.0 1118.42,244.2 1118.67,233.2 1118.98,244.2 1119.29,276.0 1119.31,276.0 1119.62,251.9 1119.93,243.7 1120.22,251.9 1120.51,276.0 1120.79,211.1 1121.08,188.6 1121.39,211.1 1121.70,276.0 1121.75,276.0 1122.06,249.2 1122.37,239.9 1122.65,249.2 1122.93,276.0 1123.21,234.5 1123.50,220.2 1123.81,234.5 1124.12,276.0 1124.46,276.0 1124.77,245.2 1125.08,234.6 1125.39,245.2 1125.70,276.0 1126.10,276.0 1126.41,204.3 1126.72,179.3 1127.03,204.3 1127.34,276.0 1127.36,276.0 1127.67,243.4 1127.98,232.2 1128.26,243.4 1128.55,276.0 1128.84,218.1 1129.13,198.0 1129.41,218.1 1129.69,276.0 1129.97,248.9 1130.25,239.6 1130.48,248.9 1130.70,276.0 1130.92,208.2 1131.14,184.5 1131.38,208.2 1131.62,276.0 1131.86,236.7 1132.11,223.1 1132.37,236.7 1132.63,276.0 1132.89,172.7 1133.16,136.6 1133.46,172.7 1133.76,276.0 1134.06,209.2 1134.36,186.0 1134.67,209.2 1134.98,276.0 1135.15,276.0 1135.46,176.9 1135.77,142.3 1136.08,176.9 1136.39,276.0 1136.44,276.0 1136.75,198.6 1137.06,171.6 1137.34,198.6 1137.63,276.0 1137.91,160.5 1138.19,120.1 1138.50,160.5 1138.81,276.0 1138.89,276.0 1139.20,230.7 1139.51,215.0 1139.78,230.7 1140.06,276.0 1140.33,189.1 1140.60,158.8 1140.91,189.1 1141.21,276.0 1141.51,219.0 1141.81,199.2 1142.12,219.0 1142.43,276.0 1142.60,276.0 1142.91,157.1 1143.22,115.5 1143.49,157.1 1143.77,276.0 1144.05,208.1 1144.32,184.4 1144.63,208.1 1144.94,276.0 1145.01,276.0 1145.32,159.0 1145.63,118.1 1145.89,159.0 1146.14,276.0 1146.39,221.7 1146.65,202.9 1146.95,221.7 1147.25,276.0 1147.55,190.6 1147.85,160.8 1148.15,190.6 1148.45,276.0 1148.75,220.9 1149.05,201.8 1149.35,220.9 1149.66,276.0 1149.96,196.2 1150.26,168.4 1150.54,196.2 1150.82,276.0 1151.10,237.1 1151.38,223.6 1151.69,237.1 1152.00,276.0 1152.06,276.0 1152.37,222.6 1152.68,204.1 1152.95,222.6 1153.23,276.0 1153.51,251.1 1153.79,242.6 1154.06,251.1 1154.34,276.0 1154.62,231.5 1154.89,216.1 1155.14,231.5 1155.39,276.0 1155.64,251.6 1155.88,243.3 1156.14,251.6 1156.39,276.0 1156.65,244.2 1156.90,233.2 1157.14,244.2 1157.38,276.0 1157.61,266.5 1157.85,263.4 1158.06,266.5 1158.28,276.0 1158.50,268.0 1158.71,265.4 1158.97,268.0 1159.23,276.0 1159.49,266.5 1159.75,263.4 1160.05,266.5 1160.34,276.0 1160.63,202.5 1160.93,176.9 1161.24,202.5 1161.55,276.0 1161.67,276.0 1161.98,230.9 1162.29,215.2 1162.60,230.9 1162.91,276.0 1163.13,276.0 1163.44,209.5 1163.75,186.3 1164.01,209.5 1164.28,276.0 1164.54,246.2 1164.81,235.9 1165.09,246.2 1165.38,276.0 1165.67,221.1 1165.96,202.0 1166.26,221.1 1166.56,276.0 1166.85,240.8 1167.15,228.6 1167.46,240.8 1167.76,276.0 1168.07,216.2 1168.38,195.4 1168.65,216.2 1168.92,276.0 1169.20,245.9 1169.47,235.5 1169.78,245.9 1170.09,276.0 1170.17,276.0 1170.48,205.9 1170.79,181.5 1171.10,205.9 1171.41,276.0 1171.70,276.0 1172.01,252.7 1172.32,244.7 1172.63,252.7 1172.94,276.0 1173.19,276.0 1173.50,225.9 1173.81,208.5 1174.07,225.9 1174.34,276.0 1174.61,254.5 1174.87,247.2 1175.11,254.5 1175.35,276.0 1175.58,242.0 1175.82,230.2 1176.08,242.0 1176.35,276.0 1176.61,250.8 1176.87,242.1 1177.11,250.8 1177.35,276.0 1177.59,153.8 1177.83,111.1 1178.09,153.8 1178.34,276.0 1178.60,225.3 1178.86,207.7 1179.15,225.3 1179.45,276.0 1179.75,211.1 1180.05,188.6 1180.34,211.1 1180.64,276.0 1180.93,226.9 1181.23,209.9 1181.54,226.9 1181.85,276.0 1182.15,173.8 1182.46,138.0 1182.77,173.8 1183.07,276.0 1183.37,243.9 1183.67,232.9 1183.98,243.9 1184.28,276.0 1184.58,215.5 1184.88,194.4 1185.16,215.5 1185.44,276.0 1185.72,254.9 1186.00,247.8 1186.28,254.9 1186.55,276.0 1186.82,236.8 1187.09,223.2 1187.40,236.8 1187.71,276.0 1187.92,276.0 1188.23,255.3 1188.54,248.2 1188.85,255.3 1189.16,276.0 1189.29,276.0 1189.60,227.1 1189.91,210.1 1190.22,227.1 1190.53,276.0 1190.58,276.0 1190.89,250.6 1191.20,241.9 1191.51,250.6 1191.82,276.0 1191.91,276.0 1192.22,214.4 1192.53,193.0 1192.83,214.4 1193.13,276.0 1193.43,250.0 1193.74,241.1 1194.04,250.0 1194.34,276.0 1194.64,237.5 1194.94,224.2 1195.21,237.5 1195.47,276.0 1195.74,261.6 1196.01,256.8 1196.24,261.6 1196.48,276.0 1196.72,260.6 1196.95,255.4 1197.26,260.6 1197.57,276.0 1197.94,276.0 1198.25,220.1 1198.56,200.6 1198.83,220.1 1199.10,276.0 1199.37,237.2 1199.64,223.8 1199.87,237.2 1200.11,276.0 1200.34,226.0 1200.58,208.7 1200.86,226.0 1201.15,276.0 1201.44,244.9 1201.73,234.2 1202.04,244.9 1202.35,276.0 1202.37,276.0 1202.68,214.9 1202.99,193.6 1203.30,214.9 1203.61,276.0 1203.78,276.0 1204.09,227.7 1204.40,211.0 1204.70,227.7 1205.00,276.0 1205.30,215.2 1205.61,194.0 1205.92,215.2 1206.23,276.0 1206.27,276.0 1206.58,238.7 1206.89,225.8 1207.17,238.7 1207.46,276.0 1207.74,187.3 1208.02,156.4 1208.33,187.3 1208.64,276.0 1208.78,276.0 1209.09,245.8 1209.40,235.3 1209.71,245.8 1210.02,276.0 1210.33,222.2 1210.64,203.5 1210.92,222.2 1211.20,276.0 1211.49,245.9 1211.77,235.6 1212.08,245.9 1212.39,276.0 1212.43,276.0 1212.74,224.4 1213.05,206.5 1213.36,224.4 1213.67,276.0 1214.04,276.0 1214.35,255.8 1214.66,248.9 1214.96,255.8 1215.25,276.0 1215.55,257.2 1215.84,250.8 1216.15,257.2 1216.46,276.0 1216.77,224.4 1217.08,206.5 1217.38,224.4 1217.68,276.0 1217.98,250.9 1218.29,242.3 1218.54,250.9 1218.79,276.0 1219.04,229.6 1219.29,213.5 1219.52,229.6 1219.75,276.0 1219.99,255.3 1220.22,248.2 1220.49,255.3 1220.76,276.0 1221.03,240.5 1221.30,228.2 1221.52,240.5 1221.73,276.0 1221.95,251.9 1222.16,243.7 1222.40,251.9 1222.64,276.0 1222.88,250.2 1223.12,241.3 1223.42,250.2 1223.73,276.0 1223.84,276.0 1224.15,251.9 1224.46,243.7 1224.77,251.9 1225.08,276.0 1225.11,276.0 1225.42,214.4 1225.73,193.0 1226.04,214.4 1226.35,276.0 1226.41,276.0 1226.72,235.7 1227.03,221.8 1227.34,235.7 1227.65,276.0 1227.73,276.0 1228.04,151.6 1228.35,108.1 1228.66,151.6 1228.97,276.0 1229.04,276.0 1229.35,220.8 1229.66,201.7 1229.94,220.8 1230.21,276.0 1230.49,173.0 1230.76,137.0 1231.04,173.0 1231.32,276.0 1231.59,228.1 1231.87,211.5 1232.10,228.1 1232.32,276.0 1232.55,193.9 1232.78,165.2 1233.06,193.9 1233.35,276.0 1233.63,224.0 1233.92,206.0 1234.23,224.0 1234.54,276.0 1234.57,276.0 1234.88,190.9 1235.19,161.2 1235.44,190.9 1235.70,276.0 1235.95,231.5 1236.21,216.0 1236.51,231.5 1236.81,276.0 1237.10,220.1 1237.40,200.6 1237.66,220.1 1237.92,276.0 1238.18,250.1 1238.44,241.2 1238.68,250.1 1238.93,276.0 1239.17,237.5 1239.42,224.2 1239.73,237.5 1240.04,276.0 1240.29,276.0 1240.60,252.2 1240.91,244.0 1241.22,252.2 1241.53,276.0 1241.61,276.0 1241.92,214.1 1242.23,192.6 1242.54,214.1 1242.85,276.0 1242.94,276.0 1243.25,226.6 1243.56,209.5 1243.87,226.6 1244.18,276.0 1244.23,276.0 1244.54,211.7 1244.85,189.4 1245.16,211.7 1245.47,276.0 1245.55,276.0 1245.86,230.4 1246.17,214.6 1246.48,230.4 1246.79,276.0 1246.85,276.0 1247.16,200.7 1247.47,174.5 1247.77,200.7 1248.08,276.0 1248.38,227.5 1248.69,210.7 1248.99,227.5 1249.29,276.0 1249.58,214.9 1249.88,193.6 1250.15,214.9 1250.42,276.0 1250.69,250.5 1250.96,241.7 1251.20,250.5 1251.43,276.0 1251.66,243.5 1251.89,232.2 1252.16,243.5 1252.43,276.0 1252.69,250.7 1252.96,242.1 1253.20,250.7 1253.43,276.0 1253.67,175.2 1253.91,140.1 1254.22,175.2 1254.53,276.0 1254.59,276.0 1254.90,204.1 1255.21,179.1 1255.49,204.1 1255.77,276.0 1256.04,174.9 1256.32,139.7 1256.57,174.9 1256.83,276.0 1257.08,217.0 1257.33,196.4 1257.63,217.0 1257.93,276.0 1258.23,135.2 1258.54,85.9 1258.81,135.2 1259.08,276.0 1259.35,213.7 1259.63,192.0 1259.94,213.7 1260.25,276.0 1260.33,276.0 1260.64,172.7 1260.95,136.6 1261.26,172.7 1261.57,276.0 1261.64,276.0 1261.95,229.6 1262.26,213.5 1262.54,229.6 1262.81,276.0 1263.09,193.9 1263.37,165.2 1263.65,193.9 1263.93,276.0 1264.21,219.0 1264.49,199.2 1264.80,219.0 1265.11,276.0 1265.16,276.0 1265.47,163.8 1265.78,124.6 1266.07,163.8 1266.35,276.0 1266.64,201.8 1266.93,176.0 1267.24,201.8 1267.55,276.0 1267.58,276.0 1267.89,177.9 1268.20,143.7 1268.43,177.9 1268.66,276.0 1268.89,227.8 1269.12,211.0 1269.34,227.8 1269.56,276.0 1269.79,201.0 1270.01,174.9 1270.32,201.0 1270.63,276.0 1270.65,276.0 1270.96,240.3 1271.27,228.0 1271.58,240.3 1271.89,276.0 1272.00,276.0 1272.31,154.8 1272.62,112.5 1272.92,154.8 1273.21,276.0 1273.51,237.4 1273.80,224.0 1274.11,237.4 1274.42,276.0 1274.73,201.8 1275.04,175.9 1275.32,201.8 1275.60,276.0 1275.88,218.7 1276.16,198.8 1276.47,218.7 1276.78,276.0 1276.83,276.0 1277.14,199.8 1277.45,173.3 1277.76,199.8 1278.07,276.0 1278.37,239.6 1278.68,227.0 1278.99,239.6 1279.30,276.0 1279.45,276.0 1279.76,183.1 1280.07,150.7 1280.38,183.1 1280.69,276.0 1280.70,276.0 1281.01,225.7 1281.32,208.3 1281.63,225.7 1281.94,276.0 1282.07,276.0 1282.38,179.0 1282.68,145.1 1282.97,179.0 1283.26,276.0 1283.55,201.7 1283.84,175.8 1284.11,201.7 1284.37,276.0 1284.63,154.1 1284.90,111.5 1285.21,154.1 1285.52,276.0 1285.58,276.0 1285.89,223.0 1286.20,204.5 1286.51,223.0 1286.82,276.0 1286.90,276.0 1287.21,167.8 1287.52,130.0 1287.78,167.8 1288.05,276.0 1288.32,252.3 1288.59,244.2 1288.88,252.3 1289.16,276.0 1289.44,227.8 1289.73,211.1 1289.95,227.8 1290.18,276.0 1290.40,249.8 1290.62,240.8 1290.85,249.8 1291.08,276.0 1291.31,242.0 1291.54,230.2 1291.85,242.0 1292.16,276.0 1292.29,276.0 1292.60,256.4 1292.91,249.7 1293.22,256.4 1293.53,276.0 1293.54,276.0 1293.85,214.0 1294.16,192.4 1294.47,214.0 1294.78,276.0 1294.94,276.0 1295.25,229.8 1295.56,213.8 1295.86,229.8 1296.17,276.0 1296.47,146.7 1296.77,101.4 1297.07,146.7 1297.37,276.0 1297.66,201.6 1297.96,175.7 1298.27,201.6 1298.57,276.0 1298.88,170.8 1299.19,134.0 1299.50,170.8 1299.81,276.0 1299.93,276.0 1300.24,202.9 1300.55,177.4 1300.86,202.9 1301.17,276.0 1301.18,276.0 1301.49,154.4 1301.80,111.9 1302.10,154.4 1302.40,276.0 1302.70,205.9 1303.00,181.4 1303.31,205.9 1303.62,276.0 1303.80,276.0 1304.11,137.3 1304.42,88.7 1304.72,137.3 1305.02,276.0 1305.32,165.9 1305.62,127.4 1305.93,165.9 1306.23,276.0 1306.53,131.8 1306.84,81.3 1307.11,131.8 1307.39,276.0 1307.67,200.8 1307.95,174.6 1308.26,200.8 1308.57,276.0 1308.63,276.0 1308.94,176.4 1309.25,141.7 1309.50,176.4 1309.74,276.0 1309.99,221.0 1310.24,201.9 1310.49,221.0 1310.75,276.0 1311.01,199.1 1311.26,172.3 1311.54,199.1 1311.81,276.0 1312.09,266.5 1312.36,263.4 1312.59,266.5 1312.82,276.0 1313.05,273.9 1313.28,273.4 1313.50,273.9 1313.72,276.0 1313.94,266.5 1314.16,263.4 1314.45,266.5 1314.73,276.0 1315.01,211.7 1315.29,189.4 1315.60,211.7 1315.91,276.0 1315.92,276.0 1316.23,230.0 1316.54,214.1 1316.83,230.0 1317.12,276.0 1317.41,189.1 1317.70,158.8 1318.01,189.1 1318.32,276.0 1318.63,247.9 1318.94,238.3 1319.25,247.9 1319.56,276.0 1319.70,276.0 1320.01,223.8 1320.32,205.7 1320.58,223.8 1320.84,276.0 1321.10,263.0 1321.36,258.6 1321.60,263.0 1321.85,276.0 1322.09,262.1 1322.33,257.4 1322.64,262.1 1322.95,276.0 1323.12,276.0 1323.43,252.4 1323.74,244.3 1324.05,252.4 1324.36,276.0 1324.73,276.0 1325.04,229.0 1325.35,212.7 1325.66,229.0 1325.97,276.0 1326.03,276.0 1326.34,243.8 1326.65,232.7 1326.96,243.8 1327.27,276.0 1327.35,276.0 1327.66,173.5 1327.97,137.6 1328.28,173.5 1328.59,276.0 1328.60,276.0 1328.91,240.2 1329.22,227.9 1329.51,240.2 1329.80,276.0 1330.09,212.9 1330.38,191.0 1330.66,212.9 1330.94,276.0 1331.21,228.7 1331.49,212.3 1331.80,228.7 1332.11,276.0 1332.18,276.0 1332.49,184.6 1332.80,152.7 1333.07,184.6 1333.34,276.0 1333.61,216.1 1333.88,195.3 1334.17,216.1 1334.45,276.0 1334.73,193.9 1335.01,165.2 1335.30,193.9 1335.59,276.0 1335.89,228.2 1336.18,211.7 1336.49,228.2 1336.80,276.0 1336.81,276.0 1337.12,210.7 1337.42,188.0 1337.69,210.7 1337.95,276.0 1338.21,228.8 1338.47,212.4 1338.71,228.8 1338.96,276.0 1339.20,194.3 1339.44,165.8 1339.68,194.3 1339.93,276.0 1340.18,226.2 1340.42,209.0 1340.68,226.2 1340.94,276.0 1341.19,187.9 1341.45,157.2 1341.76,187.9 1342.07,276.0 1342.11,276.0 1342.42,245.2 1342.73,234.5 1343.02,245.2 1343.30,276.0 1343.58,212.9 1343.87,191.0 1344.13,212.9 1344.39,276.0 1344.65,242.4 1344.91,230.8 1345.20,242.4 1345.49,276.0 1345.79,226.0 1346.08,208.7 1346.35,226.0 1346.62,276.0 1346.89,245.3 1347.15,234.7 1347.44,245.3 1347.72,276.0 1348.01,189.4 1348.29,159.2 1348.57,189.4 1348.84,276.0 1349.12,229.9 1349.40,213.9 1349.67,229.9 1349.95,276.0 1350.23,139.5 1350.51,91.8 1350.80,139.5 1351.10,276.0 1351.40,209.0 1351.69,185.6 1352.00,209.0 1352.31,276.0 1352.61,117.6 1352.92,62.2 1353.22,117.6 1353.51,276.0 1353.81,192.8 1354.11,163.8 1354.42,192.8 1354.72,276.0 1355.03,151.1 1355.34,107.5 1355.64,151.1 1355.94,276.0 1356.25,225.2 1356.55,207.6 1356.85,225.2 1357.15,276.0 1357.45,179.0 1357.75,145.1 1358.05,179.0 1358.35,276.0 1358.65,227.4 1358.95,210.6 1359.26,227.4 1359.56,276.0 1359.86,187.2 1360.17,156.2 1360.39,187.2 1360.61,276.0 1360.83,210.8 1361.05,188.1 1361.28,210.8 1361.51,276.0 1361.74,175.7 1361.98,140.7 1362.29,175.7 1362.60,276.0 1362.91,231.9 1363.22,216.6 1363.53,231.9 1363.84,276.0 1363.97,276.0 1364.28,204.3 1364.59,179.3 1364.90,204.3 1365.21,276.0 1365.51,239.9 1365.82,227.5 1366.12,239.9 1366.42,276.0 1366.71,201.0 1367.01,174.9 1367.32,201.0 1367.63,276.0 1367.77,276.0 1368.08,217.4 1368.39,197.1 1368.70,217.4 1369.01,276.0 1369.32,159.6 1369.62,118.9 1369.91,159.6 1370.19,276.0 1370.47,197.1 1370.75,169.5 1371.06,197.1 1371.37,276.0 1371.42,276.0 1371.73,159.0 1372.04,118.1 1372.34,159.0 1372.64,276.0 1372.94,224.3 1373.24,206.3 1373.54,224.3 1373.85,276.0 1374.15,182.4 1374.45,149.7 1374.72,182.4 1374.99,276.0 1375.25,235.9 1375.52,222.0 1375.81,235.9 1376.09,276.0 1376.38,189.1 1376.67,158.8 1376.92,189.1 1377.18,276.0 1377.44,217.1 1377.69,196.6 1377.99,217.1 1378.29,276.0 1378.58,200.3 1378.88,173.9 1379.13,200.3 1379.38,276.0 1379.63,250.9 1379.88,242.3 1380.13,250.9 1380.39,276.0 1380.64,235.3 1380.89,221.2 1381.20,235.3 1381.50,276.0 1381.81,249.2 1382.11,240.0 1382.36,249.2 1382.61,276.0 1382.86,209.5 1383.11,186.3 1383.41,209.5 1383.71,276.0 1384.02,242.3 1384.32,230.7 1384.57,242.3 1384.82,276.0 1385.07,215.9 1385.32,195.0 1385.63,215.9 1385.93,276.0 1386.24,238.6 1386.54,225.7 1386.84,238.6 1387.14,276.0 1387.44,217.1 1387.74,196.6 1388.00,217.1 1388.26,276.0 1388.53,248.2 1388.79,238.7 1389.03,248.2 1389.27,276.0 1389.51,232.6 1389.75,217.5 1390.04,232.6 1390.34,276.0 1390.63,243.5 1390.92,232.2 1391.23,243.5 1391.54,276.0 1391.55,276.0 1391.86,209.5 1392.16,186.3 1392.47,209.5 1392.78,276.0 1392.87,276.0 1393.18,240.2 1393.49,227.9 1393.80,240.2 1394.11,276.0 1394.16,276.0 1394.47,193.3 1394.78,164.4 1395.03,193.3 1395.28,276.0 1395.53,229.2 1395.78,213.0 1396.08,229.2 1396.39,276.0 1396.69,158.1 1396.99,116.9 1397.29,158.1 1397.59,276.0 1397.89,211.0 1398.19,188.4 1398.49,211.0 1398.80,276.0 1399.10,183.1 1399.41,150.7 1399.70,183.1 1400.00,276.0 1400.29,226.1 1400.58,208.8 1400.89,226.1 1401.20,276.0 1401.21,276.0 1401.52,209.2 1401.83,185.9 1402.06,209.2 1402.29,276.0 1402.53,255.6 1402.76,248.6 1403.03,255.6 1403.30,276.0 1403.57,250.9 1403.84,242.3 1404.15,250.9 1404.46,276.0 1404.54,276.0 1404.85,252.6 1405.16,244.6 1405.44,252.6 1405.71,276.0 1405.98,244.2 1406.25,233.2 1406.56,244.2 1406.87,276.0 1406.95,276.0 1407.26,252.2 1407.57,244.1 1407.88,252.2 1408.19,276.0 1408.25,276.0 1408.56,240.0 1408.87,227.6 1409.14,240.0 1409.42,276.0 1409.69,250.2 1409.97,241.3 1410.20,250.2 1410.42,276.0 1410.65,237.0 1410.88,223.6 1411.18,237.0 1411.49,276.0 1411.79,250.0 1412.09,241.1 1412.39,250.0 1412.69,276.0 1412.99,223.6 1413.30,205.5 1413.61,223.6 1413.91,276.0 1414.22,238.0 1414.53,224.9 1414.83,238.0 1415.12,276.0 1415.42,207.3 1415.71,183.3 1416.00,207.3 1416.29,276.0 1416.58,221.0 1416.87,201.9 1417.18,221.0 1417.49,276.0 1417.51,276.0 1417.82,189.4 1418.13,159.2 1418.44,189.4 1418.75,276.0 1418.76,276.0 1419.07,228.3 1419.38,211.7 1419.67,228.3 1419.96,276.0 1420.25,190.9 1420.54,161.2 1420.84,190.9 1421.14,276.0 1421.44,212.5 1421.75,190.3 1422.06,212.5 1422.37,276.0 1422.54,276.0 1422.85,157.8 1423.16,116.5 1423.47,157.8 1423.78,276.0 1423.85,276.0 1424.16,199.3 1424.47,172.5 1424.74,199.3 1425.02,276.0 1425.30,173.9 1425.57,138.2 1425.85,173.9 1426.13,276.0 1426.41,231.6 1426.69,216.3 1427.00,231.6 1427.31,276.0 1427.37,276.0 1427.68,206.7 1427.99,182.5 1428.30,206.7 1428.61,276.0 1428.68,276.0 1428.99,235.3 1429.30,221.2 1429.61,235.3 1429.92,276.0 1429.98,276.0 1430.29,182.8 1430.60,150.3 1430.88,182.8 1431.16,276.0 1431.44,223.5 1431.72,205.3 1432.03,223.5 1432.34,276.0 1432.40,276.0 1432.71,162.3 1433.02,122.6 1433.33,162.3 1433.64,276.0 1433.70,276.0 1434.01,243.7 1434.32,232.5 1434.60,243.7 1434.88,276.0 1435.16,209.2 1435.43,185.9 1435.68,209.2 1435.94,276.0 1436.19,253.2 1436.44,245.4 1436.74,253.2 1437.04,276.0 1437.35,232.6 1437.65,217.5 1437.92,232.6 1438.19,276.0 1438.46,266.5 1438.73,263.4 1438.96,266.5 1439.19,276.0 1439.43,273.9 1439.66,273.4 1439.89,273.9 1440.13,276.0 1440.36,266.5 1440.60,263.4 1440.81,266.5 1441.03,276.0 1441.25,205.9 1441.47,181.5 1441.77,205.9 1442.07,276.0 1442.36,233.8 1442.66,219.1 1442.92,233.8 1443.17,276.0 1443.43,209.9 1443.68,187.0 1443.97,209.9 1444.25,276.0 1444.53,242.1 1444.82,230.3 1445.13,242.1 1445.44,276.0 1445.48,276.0 1445.79,209.5 1446.10,186.3 1446.37,209.5 1446.65,276.0 1446.92,226.3 1447.20,209.0 1447.51,226.3 1447.82,276.0 1447.90,276.0 1448.21,176.0 1448.52,141.1 1448.83,176.0 1449.13,276.0 1449.20,276.0 1449.51,221.2 1449.82,202.2 1450.10,221.2 1450.38,276.0 1450.65,163.3 1450.93,124.0 1451.22,163.3 1451.50,276.0 1451.79,215.9 1452.08,195.0 1452.39,215.9 1452.70,276.0 1452.73,276.0 1453.04,186.1 1453.35,154.8 1453.65,186.1 1453.96,276.0 1453.99,276.0 1454.30,205.8 1454.61,181.4 1454.90,205.8 1455.18,276.0 1455.47,172.7 1455.76,136.6 1455.99,172.7 1456.22,276.0 1456.45,202.9 1456.67,177.4 1456.95,202.9 1457.22,276.0 1457.50,157.1 1457.77,115.5 1458.08,157.1 1458.39,276.0 1458.58,276.0 1458.89,238.0 1459.20,224.8 1459.51,238.0 1459.82,276.0 1459.97,276.0 1460.28,215.6 1460.59,194.6 1460.82,215.6 1461.05,276.0 1461.28,256.1 1461.50,249.3 1461.78,256.1 1462.05,276.0 1462.33,254.6 1462.60,247.3 1462.90,254.6 1463.21,276.0 1463.51,261.3 1463.81,256.4 1464.06,261.3 1464.30,276.0 1464.55,262.3 1464.80,257.7 1465.05,262.3 1465.31,276.0 1465.57,233.0 1465.82,218.1 1466.06,233.0 1466.29,276.0 1466.53,245.0 1466.76,234.4 1467.03,245.0 1467.30,276.0 1467.57,188.4 1467.84,157.8 1468.14,188.4 1468.45,276.0 1468.48,276.0 1468.79,210.2 1469.10,187.3 1469.39,210.2 1469.68,276.0 1469.96,182.4 1470.25,149.7 1470.56,182.4 1470.87,276.0 1470.89,276.0 1471.20,202.7 1471.51,177.2 1471.80,202.7 1472.09,276.0 1472.38,172.0 1472.66,135.6 1472.93,172.0 1473.20,276.0 1473.47,221.2 1473.73,202.1 1474.02,221.2 1474.31,276.0 1474.59,175.2 1474.88,140.1 1475.19,175.2 1475.50,276.0 1475.66,276.0 1475.97,204.6 1476.28,179.8 1476.59,204.6 1476.90,276.0 1477.08,276.0 1477.39,173.5 1477.70,137.6 1477.96,173.5 1478.22,276.0 1478.48,223.0 1478.75,204.6 1479.04,223.0 1479.33,276.0 1479.62,180.6 1479.91,147.3 1480.20,180.6 1480.50,276.0 1480.79,241.7 1481.08,229.8 1481.39,241.7 1481.70,276.0 1481.71,276.0 1482.02,228.9 1482.33,212.5 1482.63,228.9 1482.94,276.0 1482.97,276.0 1483.28,241.8 1483.59,230.0 1483.88,241.8 1484.17,276.0 1484.45,192.1 1484.74,162.8 1485.05,192.1 1485.36,276.0 1485.44,276.0 1485.75,218.2 1486.06,198.1 1486.37,218.2 1486.68,276.0 1486.74,276.0 1487.05,190.3 1487.36,160.4 1487.64,190.3 1487.91,276.0 1488.19,220.3 1488.47,201.0 1488.70,220.3 1488.92,276.0 1489.14,172.7 1489.37,136.6 1489.66,172.7 1489.95,276.0 1490.24,210.7 1490.52,187.9 1490.83,210.7 1491.14,276.0 1491.16,276.0 1491.47,168.2 1491.78,130.6 1492.09,168.2 1492.40,276.0 1492.47,276.0 1492.78,235.2 1493.09,221.1 1493.40,235.2 1493.71,276.0 1493.78,276.0 1494.09,211.1 1494.40,188.6 1494.71,211.1 1495.02,276.0 1495.17,276.0 1495.48,230.7 1495.79,215.0 1496.10,230.7 1496.40,276.0 1496.71,176.4 1497.02,141.7 1497.33,176.4 1497.64,276.0 1497.78,276.0 1498.09,250.0 1498.40,241.0 1498.71,250.0 1499.02,276.0 1499.21,276.0 1499.52,233.0 1499.83,218.1 1500.13,233.0 1500.42,276.0 1500.71,245.6 1501.01,235.1 1501.27,245.6 1501.53,276.0 1501.79,209.2 1502.05,185.9 1502.32,209.2 1502.60,276.0 1502.88,243.7 1503.16,232.5 1503.47,243.7 1503.78,276.0 1503.84,276.0 1504.15,214.4 1504.46,193.0 1504.71,214.4 1504.95,276.0 1505.19,249.7 1505.44,240.7 1505.70,249.7 1505.96,276.0 1506.22,238.2 1506.47,225.2 1506.78,238.2 1507.09,276.0 1507.26,276.0 1507.57,261.3 1507.88,256.4 1508.11,261.3 1508.33,276.0 1508.55,262.3 1508.77,257.7 1509.05,262.3 1509.33,276.0 1509.62,198.0 1509.90,170.9 1510.18,198.0 1510.46,276.0 1510.74,239.3 1511.02,226.7 1511.29,239.3 1511.56,276.0 1511.84,194.8 1512.11,166.4 1512.38,194.8 1512.66,276.0 1512.93,219.8 1513.20,200.3 1513.51,219.8 1513.82,276.0 1513.91,276.0 1514.22,190.3 1514.53,160.4 1514.84,190.3 1515.14,276.0 1515.19,276.0 1515.50,234.6 1515.81,220.3 1516.12,234.6 1516.43,276.0 1516.52,276.0 1516.83,185.4 1517.14,153.7 1517.38,185.4 1517.61,276.0 1517.85,254.7 1518.08,247.4 1518.35,254.7 1518.62,276.0 1518.89,253.1 1519.15,245.3 1519.38,253.1 1519.60,276.0 1519.82,256.5 1520.05,249.8 1520.33,256.5 1520.61,276.0 1520.89,201.5 1521.17,175.5 1521.48,201.5 1521.79,276.0 1521.80,276.0 1522.11,249.3 1522.42,240.2 1522.71,249.3 1523.00,276.0 1523.29,229.3 1523.58,213.1 1523.83,229.3 1524.08,276.0 1524.32,247.7 1524.57,237.9 1524.83,247.7 1525.08,276.0 1525.34,198.0 1525.59,170.9 1525.90,198.0 1526.21,276.0 1526.52,226.5 1526.83,209.3 1527.13,226.5 1527.42,276.0 1527.71,201.0 1528.01,174.9 1528.32,201.0 1528.63,276.0 1528.67,276.0 1528.98,243.7 1529.29,232.5 1529.60,243.7 1529.91,276.0 1530.01,276.0 1530.32,235.0 1530.62,220.8 1530.90,235.0 1531.17,276.0 1531.44,256.5 1531.71,249.8 1531.94,256.5 1532.17,276.0 1532.41,246.0 1532.64,235.7 1532.95,246.0 1533.26,276.0 1533.63,276.0 1533.94,258.3 1534.25,252.4 1534.56,258.3 1534.87,276.0 1534.90,276.0 1535.21,259.5 1535.52,254.0 1535.81,259.5 1536.09,276.0 1536.38,210.2 1536.66,187.4 1536.94,210.2 1537.21,276.0 1537.49,242.7 1537.77,231.2 1537.99,242.7 1538.22,276.0 1538.45,178.4 1538.67,144.3 1538.90,178.4 1539.13,276.0 1539.36,245.0 1539.59,234.4 1539.87,245.0 1540.14,276.0 1540.41,214.7 1540.69,193.4 1540.97,214.7 1541.25,276.0 1541.53,230.6 1541.81,214.8 1542.12,230.6 1542.43,276.0 1542.48,276.0 1542.79,156.3 1543.10,114.5 1543.41,156.3 1543.72,276.0 1543.80,276.0 1544.11,222.9 1544.42,204.5 1544.73,222.9 1545.04,276.0 1545.30,276.0 1545.61,174.5 1545.92,139.1 1546.21,174.5 1546.50,276.0 1546.79,221.8 1547.07,202.9 1547.34,221.8 1547.60,276.0 1547.87,140.0 1548.13,92.4 1548.44,140.0 1548.75,276.0 1549.13,276.0 1549.44,241.9 1549.75,230.2 1550.06,241.9 1550.37,276.0 1550.53,276.0 1550.84,229.0 1551.15,212.7 1551.41,229.0 1551.66,276.0 1551.91,250.5 1552.17,241.7 1552.47,250.5 1552.77,276.0 1553.07,247.9 1553.37,238.3 1553.64,247.9 1553.91,276.0 1554.19,254.8 1554.46,247.6 1554.69,254.8 1554.92,276.0 1555.15,232.0 1555.38,216.7 1555.69,232.0 1556.00,276.0 1556.08,276.0 1556.39,255.1 1556.70,248.0 1556.97,255.1 1557.24,276.0 1557.52,248.7 1557.79,239.3 1558.07,248.7 1558.34,276.0 1558.61,251.3 1558.89,242.9 1559.20,251.3 1559.51,276.0 1559.59,276.0 1559.90,233.8 1560.21,219.2 1560.46,233.8 1560.71,276.0 1560.96,244.1 1561.21,233.0 1561.51,244.1 1561.81,276.0 1562.12,212.6 1562.42,190.6 1562.73,212.6 1563.04,276.0 1563.04,276.0 1563.35,241.2 1563.66,229.2 1563.96,241.2 1564.25,276.0 1564.54,214.7 1564.84,193.4 1565.13,214.7 1565.42,276.0 1565.71,237.8 1566.01,224.6 1566.32,237.8 1566.63,276.0 1566.63,276.0 1566.94,199.2 1567.25,172.5 1567.55,199.2 1567.85,276.0 1568.15,230.9 1568.46,215.3 1568.71,230.9 1568.96,276.0 1569.21,191.3 1569.47,161.8 1569.78,191.3 1570.09,276.0 1570.12,276.0 1570.43,230.5 1570.74,214.7 1571.03,230.5 1571.31,276.0 1571.60,198.5 1571.88,171.5 1572.16,198.5 1572.43,276.0 1572.71,261.6 1572.98,256.8 1573.21,261.6 1573.44,276.0 1573.67,260.6 1573.89,255.4 1574.11,260.6 1574.32,276.0 1574.54,261.6 1574.75,256.8 1574.99,261.6 1575.23,276.0 1575.47,206.7 1575.70,182.5 1576.00,206.7 1576.30,276.0 1576.60,237.6 1576.90,224.4 1577.16,237.6 1577.41,276.0 1577.67,217.4 1577.92,197.0 1578.23,217.4 1578.54,276.0 1578.56,276.0 1578.87,243.3 1579.18,232.0 1579.49,243.3 1579.80,276.0 1579.92,276.0 1580.23,222.6 1580.54,204.1 1580.85,222.6 1581.15,276.0 1581.16,276.0 1581.47,238.6 1581.78,225.7 1582.07,238.6 1582.36,276.0 1582.66,201.8 1582.95,175.9 1583.26,201.8 1583.57,276.0 1583.64,276.0 1583.95,238.4 1584.26,225.4 1584.57,238.4 1584.88,276.0 1584.95,276.0 1585.26,210.7 1585.57,188.0 1585.85,210.7 1586.13,276.0 1586.42,238.0 1586.70,224.8 1586.99,238.0 1587.29,276.0 1587.58,238.1 1587.87,225.0 1588.15,238.1 1588.43,276.0 1588.71,193.6 1588.99,164.8 1589.24,193.6 1589.49,276.0 1589.74,227.6 1589.99,210.8 1590.30,227.6 1590.61,276.0"/>
<polyline class="s" clip-path="url(#c1)" points="946.67,274.8 946.98,332.2 947.29,352.2 947.60,332.2 947.91,274.8 948.39,274.8 948.70,381.6 949.01,418.9 949.30,381.6 949.58,274.8 949.87,336.8 950.15,358.4 950.46,336.8 950.77,274.8 950.81,274.8 951.12,402.4 951.43,447.1 951.73,402.4 952.03,274.8 952.33,338.6 952.63,360.8 952.94,338.6 953.25,274.8 953.42,274.8 953.73,399.5 954.04,443.0 954.35,399.5 954.66,274.8 954.76,274.8 955.07,321.0 955.38,337.0 955.69,321.0 956.00,274.8 956.04,274.8 956.35,337.7 956.66,359.5 956.92,337.7 957.17,274.8 957.43,310.1 957.69,322.3 957.93,310.1 958.18,274.8 958.43,321.3 958.67,337.4 958.98,321.3 959.29,274.8 959.30,274.8 959.61,299.0 959.92,307.3 960.22,299.0 960.51,274.8 960.80,359.2 961.09,388.7 961.40,359.2 961.71,274.8 961.79,274.8 962.10,341.5 962.41,364.8 962.72,341.5 963.03,274.8 963.08,274.8 963.39,376.7 963.70,412.3 963.99,376.7 964.27,274.8 964.55,338.1 964.83,360.1 965.14,338.1 965.45,274.8 965.50,274.8 965.81,370.4 966.12,403.8 966.43,370.4 966.74,274.8 966.81,274.8 967.12,350.0 967.43,376.2 967.71,350.0 967.98,274.8 968.26,397.5 968.53,440.4 968.82,397.5 969.10,274.8 969.38,307.9 969.66,319.3 969.94,307.9 970.21,274.8 970.48,325.0 970.75,342.4 971.06,325.0 971.37,274.8 971.50,274.8 971.81,312.7 972.12,325.8 972.43,312.7 972.74,274.8 972.95,274.8 973.26,348.8 973.57,374.6 973.85,348.8 974.14,274.8 974.42,326.9 974.71,344.9 974.98,326.9 975.24,274.8 975.51,377.6 975.78,413.5 976.01,377.6 976.25,274.8 976.48,332.3 976.72,352.3 976.99,332.3 977.25,274.8 977.52,394.2 977.79,436.0 978.07,394.2 978.36,274.8 978.64,329.3 978.92,348.2 979.23,329.3 979.54,274.8 979.59,274.8 979.90,361.5 980.21,391.7 980.48,361.5 980.76,274.8 981.03,333.3 981.31,353.6 981.62,333.3 981.93,274.8 982.00,274.8 982.31,415.8 982.62,465.2 982.93,415.8 983.24,274.8 983.39,274.8 983.70,340.3 984.01,363.2 984.32,340.3 984.62,274.8 984.93,358.5 985.24,387.7 985.51,358.5 985.79,274.8 986.06,318.8 986.33,334.1 986.56,318.8 986.79,274.8 987.02,367.4 987.25,399.8 987.54,367.4 987.83,274.8 988.13,310.5 988.42,322.9 988.73,310.5 989.04,274.8 989.04,274.8 989.36,343.6 989.66,367.6 989.90,343.6 990.13,274.8 990.36,326.9 990.59,345.1 990.86,326.9 991.13,274.8 991.41,354.0 991.68,381.7 991.93,354.0 992.18,274.8 992.44,321.4 992.69,337.5 992.99,321.4 993.29,274.8 993.59,364.8 993.89,396.2 994.17,364.8 994.46,274.8 994.74,320.7 995.02,336.6 995.33,320.7 995.64,274.8 995.69,274.8 996.00,359.2 996.31,388.7 996.61,359.2 996.91,274.8 997.20,308.9 997.50,320.7 997.81,308.9 998.12,274.8 998.30,274.8 998.61,336.2 998.92,357.5 999.23,336.2 999.54,274.8 999.74,274.8 1000.05,303.8 1000.36,313.7 1000.67,303.8 1000.98,274.8 1001.12,274.8 1001.43,364.5 1001.74,395.8 1002.05,364.5 1002.36,274.8 1002.42,274.8 1002.73,329.4 1003.04,348.4 1003.35,329.4 1003.66,274.8 1003.74,274.8 1004.05,350.3 1004.36,376.6 1004.66,350.3 1004.96,274.8 1005.26,332.4 1005.56,352.5 1005.87,332.4 1006.17,274.8 1006.47,358.5 1006.77,387.7 1007.05,358.5 1007.32,274.8 1007.60,311.3 1007.88,324.0 1008.15,311.3 1008.43,274.8 1008.71,333.9 1008.99,354.5 1009.30,333.9 1009.61,274.8 1009.62,274.8 1009.93,305.7 1010.24,316.3 1010.53,305.7 1010.82,274.8 1011.11,314.6 1011.40,328.3 1011.68,314.6 1011.97,274.8 1012.25,300.6 1012.53,309.5 1012.84,300.6 1013.15,274.8 1013.16,274.8 1013.47,299.5 1013.78,308.0 1014.04,299.5 1014.30,274.8 1014.56,337.7 1014.82,359.5 1015.09,337.7 1015.35,274.8 1015.62,303.8 1015.88,313.7 1016.17,303.8 1016.46,274.8 1016.75,320.5 1017.03,336.4 1017.31,320.5 1017.59,274.8 1017.87,297.2 1018.15,304.9 1018.45,297.2 1018.75,274.8 1019.05,301.5 1019.34,310.7 1019.62,301.5 1019.90,274.8 1020.18,333.9 1020.46,354.5 1020.77,333.9 1021.08,274.8 1021.25,274.8 1021.56,312.6 1021.87,325.7 1022.17,312.6 1022.47,274.8 1022.77,373.4 1023.07,407.8 1023.38,373.4 1023.69,274.8 1023.71,274.8 1024.02,316.1 1024.33,330.5 1024.62,316.1 1024.91,274.8 1025.20,342.9 1025.49,366.6 1025.80,342.9 1026.11,274.8 1026.45,274.8 1026.76,311.7 1027.07,324.5 1027.38,311.7 1027.69,274.8 1027.89,274.8 1028.20,353.3 1028.51,380.7 1028.79,353.3 1029.07,274.8 1029.36,315.3 1029.64,329.3 1029.95,315.3 1030.26,274.8 1030.30,274.8 1030.61,379.8 1030.92,416.5 1031.22,379.8 1031.51,274.8 1031.81,342.9 1032.10,366.7 1032.36,342.9 1032.62,274.8 1032.88,366.7 1033.13,398.8 1033.44,366.7 1033.74,274.8 1034.04,311.6 1034.34,324.3 1034.64,311.6 1034.95,274.8 1035.25,353.3 1035.55,380.7 1035.83,353.3 1036.11,274.8 1036.39,336.9 1036.67,358.5 1036.98,336.9 1037.29,274.8 1037.35,274.8 1037.65,357.8 1037.96,386.7 1038.27,357.8 1038.57,274.8 1038.87,325.4 1039.18,343.0 1039.49,325.4 1039.80,274.8 1039.96,274.8 1040.27,360.0 1040.58,389.7 1040.88,360.0 1041.17,274.8 1041.46,336.0 1041.76,357.3 1042.07,336.0 1042.38,274.8 1042.69,361.5 1043.00,391.7 1043.27,361.5 1043.55,274.8 1043.82,340.2 1044.10,362.9 1044.37,340.2 1044.65,274.8 1044.93,364.5 1045.21,395.8 1045.52,364.5 1045.83,274.8 1045.83,274.8 1046.14,326.2 1046.45,344.1 1046.74,326.2 1047.04,274.8 1047.33,399.0 1047.62,442.4 1047.90,399.0 1048.18,274.8 1048.46,347.1 1048.74,372.3 1049.05,347.1 1049.36,274.8 1049.42,274.8 1049.73,369.2 1050.04,402.2 1050.29,369.2 1050.53,274.8 1050.78,318.0 1051.03,333.0 1051.33,318.0 1051.64,274.8 1051.95,372.2 1052.25,406.2 1052.55,372.2 1052.85,274.8 1053.14,320.8 1053.44,336.7 1053.75,320.8 1054.05,274.8 1054.36,350.3 1054.67,376.6 1054.98,350.3 1055.29,274.8 1055.43,274.8 1055.74,325.8 1056.05,343.5 1056.36,325.8 1056.67,274.8 1056.98,368.2 1057.29,400.8 1057.55,368.2 1057.82,274.8 1058.09,295.9 1058.36,303.1 1058.59,295.9 1058.83,274.8 1059.06,297.4 1059.30,305.2 1059.52,297.4 1059.73,274.8 1059.95,295.9 1060.17,303.1 1060.40,295.9 1060.64,274.8 1060.87,340.6 1061.11,363.6 1061.31,340.6 1061.50,274.8 1061.70,309.1 1061.90,321.0 1062.15,309.1 1062.41,274.8 1062.66,354.8 1062.92,382.7 1063.23,354.8 1063.53,274.8 1063.84,317.8 1064.14,332.8 1064.44,317.8 1064.74,274.8 1065.04,340.6 1065.34,363.6 1065.57,340.6 1065.80,274.8 1066.03,307.1 1066.27,318.3 1066.54,307.1 1066.81,274.8 1067.08,340.6 1067.35,363.6 1067.66,340.6 1067.97,274.8 1067.97,274.8 1068.28,304.3 1068.59,314.4 1068.88,304.3 1069.18,274.8 1069.47,323.5 1069.76,340.4 1070.07,323.5 1070.38,274.8 1070.41,274.8 1070.72,297.9 1071.03,305.8 1071.32,297.9 1071.60,274.8 1071.89,301.9 1072.18,311.2 1072.44,301.9 1072.71,274.8 1072.97,297.7 1073.24,305.5 1073.53,297.7 1073.81,274.8 1074.10,352.5 1074.39,379.6 1074.67,352.5 1074.96,274.8 1075.24,312.4 1075.52,325.4 1075.83,312.4 1076.14,274.8 1076.19,274.8 1076.50,340.6 1076.81,363.6 1077.09,340.6 1077.38,274.8 1077.67,315.1 1077.96,329.1 1078.27,315.1 1078.58,274.8 1078.60,274.8 1078.91,340.6 1079.22,363.6 1079.48,340.6 1079.74,274.8 1080.00,317.2 1080.26,331.9 1080.56,317.2 1080.85,274.8 1081.14,396.5 1081.43,439.0 1081.74,396.5 1082.05,274.8 1082.12,274.8 1082.43,325.0 1082.74,342.4 1083.02,325.0 1083.30,274.8 1083.57,374.1 1083.85,408.8 1084.14,374.1 1084.42,274.8 1084.71,340.5 1085.00,363.3 1085.31,340.5 1085.62,274.8 1085.65,274.8 1085.96,384.6 1086.27,422.9 1086.58,384.6 1086.88,274.8 1086.99,274.8 1087.30,347.9 1087.61,373.4 1087.92,347.9 1088.23,274.8 1088.26,274.8 1088.57,391.3 1088.88,432.0 1089.18,391.3 1089.47,274.8 1089.76,326.4 1090.06,344.3 1090.37,326.4 1090.68,274.8 1090.99,342.1 1091.30,365.6 1091.57,342.1 1091.84,274.8 1092.11,299.8 1092.39,308.3 1092.62,299.8 1092.85,274.8 1093.08,314.6 1093.31,328.3 1093.62,314.6 1093.92,274.8 1094.23,297.8 1094.54,305.7 1094.85,297.8 1095.16,274.8 1095.31,274.8 1095.62,322.8 1095.92,339.4 1096.21,322.8 1096.49,274.8 1096.77,308.4 1097.05,320.0 1097.27,308.4 1097.49,274.8 1097.72,330.9 1097.94,350.5 1098.25,330.9 1098.56,274.8 1098.93,274.8 1099.24,341.4 1099.55,364.6 1099.86,341.4 1100.17,274.8 1100.25,274.8 1100.56,314.1 1100.87,327.7 1101.14,314.1 1101.42,274.8 1101.69,367.0 1101.96,399.2 1102.27,367.0 1102.58,274.8 1102.62,274.8 1102.93,307.6 1103.24,318.9 1103.55,307.6 1103.86,274.8 1103.96,274.8 1104.27,334.7 1104.58,355.5 1104.89,334.7 1105.20,274.8 1105.45,274.8 1105.76,321.7 1106.07,337.9 1106.38,321.7 1106.69,274.8 1106.78,274.8 1107.09,335.4 1107.40,356.5 1107.69,335.4 1107.99,274.8 1108.29,300.6 1108.58,309.5 1108.84,300.6 1109.10,274.8 1109.35,326.5 1109.61,344.4 1109.89,326.5 1110.17,274.8 1110.45,297.5 1110.72,305.3 1110.95,297.5 1111.17,274.8 1111.40,305.6 1111.62,316.3 1111.90,305.6 1112.18,274.8 1112.46,289.0 1112.74,293.7 1112.97,289.0 1113.19,274.8 1113.41,290.0 1113.63,295.1 1113.94,290.0 1114.25,274.8 1114.62,274.8 1114.93,356.7 1115.24,385.3 1115.53,356.7 1115.82,274.8 1116.10,318.0 1116.39,333.0 1116.70,318.0 1117.01,274.8 1117.04,274.8 1117.35,337.4 1117.66,359.1 1117.94,337.4 1118.22,274.8 1118.50,300.6 1118.78,309.4 1119.09,300.6 1119.40,274.8 1119.46,274.8 1119.77,324.2 1120.08,341.4 1120.38,324.2 1120.69,274.8 1120.77,274.8 1121.08,305.6 1121.39,316.2 1121.70,305.6 1122.01,274.8 1122.07,274.8 1122.38,345.8 1122.69,370.6 1123.00,345.8 1123.31,274.8 1123.39,274.8 1123.70,328.4 1124.01,347.0 1124.28,328.4 1124.56,274.8 1124.83,368.6 1125.11,401.4 1125.39,368.6 1125.67,274.8 1125.95,321.0 1126.23,337.0 1126.54,321.0 1126.85,274.8 1126.90,274.8 1127.21,334.7 1127.52,355.5 1127.81,334.7 1128.10,274.8 1128.38,301.0 1128.67,310.1 1128.94,301.0 1129.20,274.8 1129.47,331.7 1129.74,351.5 1129.97,331.7 1130.20,274.8 1130.43,316.9 1130.66,331.4 1130.93,316.9 1131.21,274.8 1131.48,365.2 1131.75,396.8 1132.04,365.2 1132.34,274.8 1132.64,346.6 1132.94,371.6 1133.24,346.6 1133.55,274.8 1133.86,379.8 1134.16,416.5 1134.47,379.8 1134.78,274.8 1134.93,274.8 1135.24,322.3 1135.55,338.8 1135.86,322.3 1136.17,274.8 1136.47,350.3 1136.78,376.6 1137.09,350.3 1137.40,274.8 1137.44,274.8 1137.75,331.9 1138.06,351.8 1138.34,331.9 1138.63,274.8 1138.91,371.2 1139.19,404.8 1139.50,371.2 1139.81,274.8 1139.84,274.8 1140.15,343.9 1140.46,367.9 1140.75,343.9 1141.03,274.8 1141.32,374.1 1141.61,408.8 1141.92,374.1 1142.23,274.8 1142.26,274.8 1142.57,348.6 1142.88,374.3 1143.19,348.6 1143.50,274.8 1143.61,274.8 1143.91,386.1 1144.22,424.9 1144.53,386.1 1144.83,274.8 1145.14,333.7 1145.44,354.2 1145.74,333.7 1146.04,274.8 1146.34,371.9 1146.64,405.8 1146.90,371.9 1147.16,274.8 1147.42,324.8 1147.68,342.2 1147.98,324.8 1148.27,274.8 1148.56,361.2 1148.85,391.3 1149.16,361.2 1149.47,274.8 1149.53,274.8 1149.84,308.3 1150.15,319.9 1150.46,308.3 1150.77,274.8 1151.05,274.8 1151.36,335.4 1151.67,356.5 1151.98,335.4 1152.29,274.8 1152.36,274.8 1152.67,300.8 1152.98,309.7 1153.29,300.8 1153.60,274.8 1153.67,274.8 1153.98,309.4 1154.29,321.3 1154.60,309.4 1154.91,274.8 1154.95,274.8 1155.26,300.0 1155.57,308.6 1155.88,300.0 1156.19,274.8 1156.28,274.8 1156.59,329.5 1156.90,348.5 1157.15,329.5 1157.39,274.8 1157.63,299.2 1157.87,307.6 1158.08,299.2 1158.29,274.8 1158.50,322.0 1158.71,338.4 1158.98,322.0 1159.24,274.8 1159.50,299.5 1159.77,308.0 1160.06,299.5 1160.35,274.8 1160.64,307.1 1160.93,318.3 1161.24,307.1 1161.55,274.8 1161.60,274.8 1161.91,296.3 1162.22,303.6 1162.50,296.3 1162.78,274.8 1163.06,338.4 1163.34,360.5 1163.61,338.4 1163.87,274.8 1164.14,304.4 1164.40,314.6 1164.64,304.4 1164.88,274.8 1165.12,316.8 1165.36,331.4 1165.65,316.8 1165.94,274.8 1166.24,300.5 1166.53,309.4 1166.84,300.5 1167.15,274.8 1167.46,320.5 1167.77,336.4 1168.02,320.5 1168.27,274.8 1168.51,308.5 1168.76,320.2 1169.02,308.5 1169.27,274.8 1169.53,338.4 1169.78,360.5 1170.09,338.4 1170.40,274.8 1170.55,274.8 1170.86,297.1 1171.17,304.7 1171.48,297.1 1171.79,274.8 1172.09,312.3 1172.40,325.3 1172.63,312.3 1172.85,274.8 1173.08,298.7 1173.30,306.9 1173.58,298.7 1173.86,274.8 1174.13,313.1 1174.41,326.3 1174.70,313.1 1175.00,274.8 1175.29,303.2 1175.58,313.0 1175.89,303.2 1176.20,274.8 1176.21,274.8 1176.52,364.0 1176.83,395.1 1177.08,364.0 1177.33,274.8 1177.58,334.9 1177.84,355.8 1178.14,334.9 1178.44,274.8 1178.74,403.9 1179.04,449.1 1179.35,403.9 1179.66,274.8 1179.66,274.8 1179.97,356.0 1180.28,384.3 1180.58,356.0 1180.87,274.8 1181.16,380.5 1181.46,417.5 1181.69,380.5 1181.93,274.8 1182.17,308.9 1182.41,320.7 1182.67,308.9 1182.94,274.8 1183.20,339.1 1183.47,361.5 1183.70,339.1 1183.92,274.8 1184.15,299.8 1184.38,308.4 1184.65,299.8 1184.93,274.8 1185.21,314.6 1185.48,328.3 1185.76,314.6 1186.03,274.8 1186.31,299.5 1186.58,307.9 1186.81,299.5 1187.04,274.8 1187.27,307.9 1187.49,319.3 1187.80,307.9 1188.11,274.8 1188.48,274.8 1188.79,332.4 1189.10,352.5 1189.41,332.4 1189.72,274.8 1189.77,274.8 1190.08,306.0 1190.39,316.7 1190.67,306.0 1190.96,274.8 1191.24,323.5 1191.52,340.4 1191.83,323.5 1192.14,274.8 1192.29,274.8 1192.60,307.8 1192.91,319.2 1193.21,307.8 1193.52,274.8 1193.83,342.9 1194.13,366.6 1194.40,342.9 1194.66,274.8 1194.92,312.5 1195.18,325.6 1195.49,312.5 1195.80,274.8 1195.83,274.8 1196.14,309.3 1196.45,321.3 1196.73,309.3 1197.00,274.8 1197.28,331.7 1197.56,351.5 1197.84,331.7 1198.12,274.8 1198.40,298.3 1198.68,306.4 1198.99,298.3 1199.30,274.8 1199.35,274.8 1199.66,310.1 1199.97,322.3 1200.23,310.1 1200.49,274.8 1200.75,299.5 1201.01,308.0 1201.25,299.5 1201.49,274.8 1201.74,327.2 1201.98,345.4 1202.24,327.2 1202.49,274.8 1202.75,309.7 1203.00,321.8 1203.30,309.7 1203.60,274.8 1203.90,340.6 1204.20,363.6 1204.51,340.6 1204.82,274.8 1204.92,274.8 1205.23,320.8 1205.54,336.7 1205.85,320.8 1206.16,274.8 1206.19,274.8 1206.50,354.0 1206.81,381.7 1207.12,354.0 1207.43,274.8 1207.71,274.8 1208.02,326.3 1208.33,344.1 1208.64,326.3 1208.95,274.8 1209.01,274.8 1209.32,339.1 1209.63,361.5 1209.93,339.1 1210.24,274.8 1210.54,302.2 1210.85,311.6 1211.16,302.2 1211.47,274.8 1211.63,274.8 1211.94,333.5 1212.25,353.9 1212.49,333.5 1212.73,274.8 1212.97,296.9 1213.21,304.5 1213.47,296.9 1213.73,274.8 1214.00,301.2 1214.26,310.2 1214.46,301.2 1214.66,274.8 1214.86,299.2 1215.07,307.5 1215.32,299.2 1215.57,274.8 1215.82,333.2 1216.07,353.5 1216.37,333.2 1216.67,274.8 1216.97,302.2 1217.27,311.7 1217.52,302.2 1217.78,274.8 1218.03,326.5 1218.29,344.4 1218.51,326.5 1218.74,274.8 1218.96,296.1 1219.19,303.3 1219.46,296.1 1219.74,274.8 1220.02,301.9 1220.30,311.2 1220.55,301.9 1220.80,274.8 1221.05,298.1 1221.30,306.1 1221.55,298.1 1221.81,274.8 1222.06,337.9 1222.31,359.9 1222.62,337.9 1222.93,274.8 1222.98,274.8 1223.29,305.6 1223.60,316.2 1223.88,305.6 1224.16,274.8 1224.44,318.3 1224.72,333.4 1224.99,318.3 1225.25,274.8 1225.51,300.8 1225.77,309.8 1226.06,300.8 1226.35,274.8 1226.65,365.9 1226.94,397.8 1227.25,365.9 1227.56,274.8 1227.59,274.8 1227.90,345.9 1228.21,370.7 1228.50,345.9 1228.78,274.8 1229.07,368.2 1229.35,400.8 1229.62,368.2 1229.89,274.8 1230.15,327.4 1230.42,345.6 1230.71,327.4 1230.99,274.8 1231.28,385.0 1231.57,423.5 1231.84,385.0 1232.10,274.8 1232.37,362.4 1232.64,392.9 1232.93,362.4 1233.21,274.8 1233.50,396.0 1233.78,438.4 1234.08,396.0 1234.38,274.8 1234.69,320.1 1234.99,335.8 1235.29,320.1 1235.59,274.8 1235.89,361.2 1236.20,391.3 1236.43,361.2 1236.66,274.8 1236.90,300.2 1237.13,309.0 1237.40,300.2 1237.67,274.8 1237.94,307.1 1238.21,318.3 1238.49,307.1 1238.78,274.8 1239.07,295.7 1239.35,302.8 1239.62,295.7 1239.89,274.8 1240.16,342.9 1240.42,366.6 1240.72,342.9 1241.02,274.8 1241.32,296.4 1241.61,303.7 1241.92,296.4 1242.23,274.8 1242.53,306.4 1242.84,317.3 1243.15,306.4 1243.46,274.8 1243.84,274.8 1244.15,300.8 1244.46,309.7 1244.77,300.8 1245.08,274.8 1245.44,274.8 1245.75,352.5 1246.06,379.6 1246.33,352.5 1246.61,274.8 1246.89,302.8 1247.17,312.4 1247.44,302.8 1247.72,274.8 1248.00,310.8 1248.27,323.3 1248.52,310.8 1248.77,274.8 1249.02,296.8 1249.27,304.3 1249.52,296.8 1249.78,274.8 1250.03,299.7 1250.28,308.2 1250.59,299.7 1250.89,274.8 1251.19,298.0 1251.49,305.9 1251.75,298.0 1252.00,274.8 1252.25,368.2 1252.50,400.8 1252.78,368.2 1253.06,274.8 1253.34,348.4 1253.62,374.1 1253.93,348.4 1254.24,274.8 1254.29,274.8 1254.60,371.9 1254.91,405.8 1255.22,371.9 1255.52,274.8 1255.83,342.4 1256.13,366.0 1256.43,342.4 1256.73,274.8 1257.03,377.1 1257.33,412.9 1257.62,377.1 1257.92,274.8 1258.21,325.1 1258.50,342.6 1258.76,325.1 1259.02,274.8 1259.28,393.1 1259.54,434.4 1259.85,393.1 1260.16,274.8 1260.20,274.8 1260.51,334.1 1260.82,354.7 1261.11,334.1 1261.39,274.8 1261.67,371.2 1261.96,404.8 1262.23,371.2 1262.51,274.8 1262.78,303.5 1263.06,313.4 1263.37,303.5 1263.68,274.8 1263.75,274.8 1264.06,337.7 1264.37,359.5 1264.67,337.7 1264.97,274.8 1265.28,306.1 1265.58,316.8 1265.89,306.1 1266.20,274.8 1266.37,274.8 1266.68,368.6 1266.99,401.4 1267.30,368.6 1267.61,274.8 1267.70,274.8 1268.01,327.1 1268.32,345.3 1268.63,327.1 1268.94,274.8 1268.98,274.8 1269.29,365.2 1269.60,396.8 1269.84,365.2 1270.08,274.8 1270.33,324.4 1270.57,341.6 1270.83,324.4 1271.09,274.8 1271.35,405.4 1271.62,451.1 1271.90,405.4 1272.18,274.8 1272.46,321.0 1272.75,337.1 1273.06,321.0 1273.37,274.8 1273.41,274.8 1273.72,360.0 1274.03,389.7 1274.34,360.0 1274.65,274.8 1274.66,274.8 1274.97,338.2 1275.28,360.2 1275.58,338.2 1275.87,274.8 1276.16,383.4 1276.45,421.3 1276.73,383.4 1277.01,274.8 1277.29,327.8 1277.57,346.1 1277.84,327.8 1278.11,274.8 1278.39,367.4 1278.66,399.8 1278.94,367.4 1279.21,274.8 1279.49,309.7 1279.76,321.8 1280.07,309.7 1280.38,274.8 1280.46,274.8 1280.77,336.2 1281.08,357.5 1281.36,336.2 1281.64,274.8 1281.92,321.4 1282.20,337.5 1282.51,321.4 1282.82,274.8 1282.87,274.8 1283.18,360.0 1283.49,389.7 1283.80,360.0 1284.11,274.8 1284.29,274.8 1284.60,320.8 1284.91,336.8 1285.21,320.8 1285.51,274.8 1285.81,394.2 1286.11,436.0 1286.39,394.2 1286.68,274.8 1286.97,311.6 1287.25,324.3 1287.56,311.6 1287.87,274.8 1287.90,274.8 1288.21,325.0 1288.52,342.4 1288.79,325.0 1289.06,274.8 1289.33,302.1 1289.60,311.5 1289.89,302.1 1290.17,274.8 1290.45,350.3 1290.73,376.6 1290.98,350.3 1291.22,274.8 1291.46,299.5 1291.71,308.0 1291.97,299.5 1292.23,274.8 1292.49,308.6 1292.75,320.3 1293.04,308.6 1293.33,274.8 1293.63,295.5 1293.92,302.6 1294.23,295.5 1294.54,274.8 1294.54,274.8 1294.85,354.0 1295.16,381.7 1295.47,354.0 1295.78,274.8 1295.94,274.8 1296.25,313.5 1296.56,326.9 1296.87,313.5 1297.18,274.8 1297.56,274.8 1297.87,398.4 1298.18,441.6 1298.46,398.4 1298.74,274.8 1299.02,353.9 1299.30,381.4 1299.61,353.9 1299.92,274.8 1299.98,274.8 1300.29,391.3 1300.60,432.0 1300.91,391.3 1301.22,274.8 1301.26,274.8 1301.57,359.7 1301.88,389.3 1302.17,359.7 1302.45,274.8 1302.73,409.9 1303.01,457.1 1303.32,409.9 1303.63,274.8 1303.71,274.8 1304.02,341.3 1304.33,364.5 1304.60,341.3 1304.88,274.8 1305.15,395.0 1305.43,437.0 1305.70,395.0 1305.97,274.8 1306.24,337.0 1306.52,358.7 1306.83,337.0 1307.14,274.8 1307.22,274.8 1307.53,397.2 1307.84,440.0 1308.13,397.2 1308.42,274.8 1308.71,313.9 1309.00,327.5 1309.31,313.9 1309.62,274.8 1309.64,274.8 1309.95,356.3 1310.26,384.7 1310.57,356.3 1310.88,274.8 1311.19,313.7 1311.50,327.1 1311.81,313.7 1312.12,274.8 1312.25,274.8 1312.56,325.7 1312.87,343.4 1313.18,325.7 1313.49,274.8 1313.54,274.8 1313.85,300.5 1314.16,309.3 1314.44,300.5 1314.73,274.8 1315.01,307.1 1315.29,318.3 1315.60,307.1 1315.91,274.8 1316.08,274.8 1316.39,296.1 1316.70,303.4 1317.01,296.1 1317.32,274.8 1317.69,274.8 1318.00,329.5 1318.31,348.5 1318.58,329.5 1318.86,274.8 1319.14,315.4 1319.41,329.5 1319.70,315.4 1320.00,274.8 1320.29,310.6 1320.58,323.0 1320.87,310.6 1321.15,274.8 1321.44,330.5 1321.73,349.9 1322.03,330.5 1322.33,274.8 1322.62,298.9 1322.92,307.2 1323.23,298.9 1323.54,274.8 1323.72,274.8 1324.03,316.1 1324.34,330.3 1324.65,316.1 1324.96,274.8 1325.31,274.8 1325.62,298.6 1325.93,306.7 1326.24,298.6 1326.55,274.8 1326.74,274.8 1327.05,351.1 1327.36,377.6 1327.67,351.1 1327.98,274.8 1328.24,274.8 1328.55,326.5 1328.86,344.4 1329.17,326.5 1329.48,274.8 1329.76,274.8 1330.07,356.3 1330.38,384.7 1330.69,356.3 1331.00,274.8 1331.38,274.8 1331.69,311.9 1332.00,324.7 1332.31,311.9 1332.62,274.8 1332.98,274.8 1333.29,382.0 1333.60,419.5 1333.91,382.0 1334.22,274.8 1334.23,274.8 1334.54,338.6 1334.85,360.8 1335.14,338.6 1335.43,274.8 1335.73,374.6 1336.02,409.4 1336.33,374.6 1336.64,274.8 1336.72,274.8 1337.03,324.1 1337.34,341.2 1337.61,324.1 1337.88,274.8 1338.16,361.5 1338.43,391.7 1338.72,361.5 1339.02,274.8 1339.31,315.5 1339.60,329.7 1339.91,315.5 1340.22,274.8 1340.23,274.8 1340.54,371.2 1340.85,404.8 1341.12,371.2 1341.40,274.8 1341.68,312.4 1341.95,325.4 1342.23,312.4 1342.51,274.8 1342.78,322.8 1343.06,339.4 1343.33,322.8 1343.59,274.8 1343.86,300.9 1344.12,309.9 1344.36,300.9 1344.60,274.8 1344.83,319.0 1345.07,334.4 1345.34,319.0 1345.61,274.8 1345.88,299.0 1346.15,307.2 1346.39,299.0 1346.62,274.8 1346.85,344.4 1347.09,368.6 1347.39,344.4 1347.69,274.8 1347.99,319.1 1348.29,334.5 1348.59,319.1 1348.90,274.8 1349.20,381.6 1349.50,418.9 1349.77,381.6 1350.05,274.8 1350.32,344.5 1350.60,368.8 1350.88,344.5 1351.16,274.8 1351.43,427.8 1351.71,481.3 1352.02,427.8 1352.33,274.8 1352.44,274.8 1352.75,349.1 1353.06,375.1 1353.37,349.1 1353.68,274.8 1353.91,274.8 1354.22,410.9 1354.53,458.5 1354.80,410.9 1355.07,274.8 1355.35,326.3 1355.62,344.1 1355.85,326.3 1356.08,274.8 1356.31,353.3 1356.54,380.7 1356.85,353.3 1357.16,274.8 1357.47,335.4 1357.78,356.5 1358.07,335.4 1358.37,274.8 1358.66,360.3 1358.96,390.1 1359.24,360.3 1359.52,274.8 1359.81,316.7 1360.09,331.2 1360.36,316.7 1360.63,274.8 1360.90,347.3 1361.17,372.6 1361.45,347.3 1361.73,274.8 1362.01,319.0 1362.29,334.3 1362.51,319.0 1362.74,274.8 1362.96,355.5 1363.18,383.7 1363.46,355.5 1363.74,274.8 1364.02,322.6 1364.30,339.2 1364.61,322.6 1364.92,274.8 1364.98,274.8 1365.29,347.3 1365.60,372.6 1365.89,347.3 1366.18,274.8 1366.46,321.8 1366.75,338.1 1367.06,321.8 1367.37,274.8 1367.40,274.8 1367.71,365.2 1368.02,396.8 1368.31,365.2 1368.61,274.8 1368.91,327.6 1369.21,345.9 1369.52,327.6 1369.83,274.8 1370.01,274.8 1370.32,379.1 1370.63,415.5 1370.91,379.1 1371.19,274.8 1371.47,337.8 1371.74,359.7 1372.05,337.8 1372.36,274.8 1372.43,274.8 1372.74,368.6 1373.05,401.4 1373.34,368.6 1373.63,274.8 1373.92,324.3 1374.21,341.5 1374.47,324.3 1374.74,274.8 1375.00,360.0 1375.26,389.7 1375.53,360.0 1375.81,274.8 1376.08,320.9 1376.35,336.8 1376.66,320.9 1376.97,274.8 1377.06,274.8 1377.37,387.5 1377.67,426.9 1377.97,387.5 1378.27,274.8 1378.56,289.0 1378.86,293.7 1379.17,289.0 1379.47,274.8 1379.78,290.0 1380.09,295.1 1380.34,290.0 1380.60,274.8 1380.85,289.0 1381.10,293.7 1381.35,289.0 1381.60,274.8 1381.85,331.7 1382.10,351.5 1382.36,331.7 1382.62,274.8 1382.88,298.5 1383.14,306.6 1383.38,298.5 1383.63,274.8 1383.87,314.6 1384.12,328.3 1384.42,314.6 1384.72,274.8 1385.02,303.6 1385.32,313.5 1385.63,303.6 1385.94,274.8 1386.11,274.8 1386.42,322.0 1386.73,338.4 1387.04,322.0 1387.35,274.8 1387.43,274.8 1387.74,296.1 1388.05,303.4 1388.32,296.1 1388.60,274.8 1388.87,302.7 1389.15,312.2 1389.39,302.7 1389.63,274.8 1389.87,296.7 1390.12,304.2 1390.38,296.7 1390.64,274.8 1390.90,334.4 1391.16,355.1 1391.47,334.4 1391.78,274.8 1391.81,274.8 1392.12,322.1 1392.43,338.4 1392.71,322.1 1393.00,274.8 1393.29,373.4 1393.57,407.8 1393.87,373.4 1394.17,274.8 1394.47,330.9 1394.77,350.4 1395.03,330.9 1395.28,274.8 1395.53,418.8 1395.79,469.2 1396.10,418.8 1396.41,274.8 1396.48,274.8 1396.79,336.8 1397.10,358.4 1397.38,336.8 1397.65,274.8 1397.93,363.0 1398.20,393.7 1398.51,363.0 1398.82,274.8 1398.87,274.8 1399.18,330.1 1399.49,349.3 1399.80,330.1 1400.11,274.8 1400.20,274.8 1400.51,355.5 1400.82,383.7 1401.07,355.5 1401.33,274.8 1401.58,312.7 1401.84,325.7 1402.09,312.7 1402.34,274.8 1402.58,362.2 1402.83,392.7 1403.14,362.2 1403.45,274.8 1403.48,274.8 1403.79,296.3 1404.10,303.7 1404.38,296.3 1404.67,274.8 1404.96,303.4 1405.25,313.2 1405.50,303.4 1405.75,274.8 1406.00,297.1 1406.25,304.7 1406.55,297.1 1406.86,274.8 1407.16,336.2 1407.46,357.5 1407.70,336.2 1407.93,274.8 1408.17,307.5 1408.41,318.8 1408.67,307.5 1408.94,274.8 1409.21,319.8 1409.47,335.4 1409.77,319.8 1410.08,274.8 1410.38,295.9 1410.68,303.1 1410.98,295.9 1411.28,274.8 1411.59,297.4 1411.89,305.2 1412.20,297.4 1412.51,274.8 1412.59,274.8 1412.90,295.9 1413.21,303.1 1413.48,295.9 1413.76,274.8 1414.03,328.4 1414.30,347.0 1414.61,328.4 1414.91,274.8 1415.22,306.6 1415.52,317.5 1415.83,306.6 1416.14,274.8 1416.30,274.8 1416.61,344.4 1416.92,368.6 1417.23,344.4 1417.54,274.8 1417.62,274.8 1417.93,324.0 1418.24,341.1 1418.51,324.0 1418.78,274.8 1419.06,344.4 1419.33,368.6 1419.64,344.4 1419.95,274.8 1420.26,308.5 1420.57,320.2 1420.88,308.5 1421.19,274.8 1421.33,274.8 1421.64,389.0 1421.95,429.0 1422.22,389.0 1422.50,274.8 1422.77,318.4 1423.05,333.5 1423.36,318.4 1423.67,274.8 1423.75,274.8 1424.06,352.5 1424.37,379.6 1424.67,352.5 1424.98,274.8 1425.10,274.8 1425.41,319.5 1425.72,335.0 1426.03,319.5 1426.34,274.8 1426.36,274.8 1426.67,356.7 1426.98,385.3 1427.29,356.7 1427.60,274.8 1427.64,274.8 1427.95,326.9 1428.26,345.0 1428.54,326.9 1428.83,274.8 1429.11,373.8 1429.40,408.4 1429.67,373.8 1429.94,274.8 1430.22,349.2 1430.49,375.2 1430.77,349.2 1431.05,274.8 1431.33,385.3 1431.61,423.9 1431.91,385.3 1432.21,274.8 1432.51,329.0 1432.82,347.9 1433.12,329.0 1433.42,274.8 1433.72,406.2 1434.03,452.1 1434.34,406.2 1434.64,274.8 1434.67,274.8 1434.98,317.3 1435.29,332.0 1435.58,317.3 1435.86,274.8 1436.15,329.5 1436.44,348.5 1436.74,329.5 1437.05,274.8 1437.35,315.1 1437.66,329.1 1437.97,315.1 1438.28,274.8 1438.44,274.8 1438.75,325.7 1439.06,343.4 1439.35,325.7 1439.64,274.8 1439.94,302.8 1440.23,312.4 1440.54,302.8 1440.85,274.8 1440.85,274.8 1441.16,320.5 1441.47,336.4 1441.72,320.5 1441.97,274.8 1442.21,297.1 1442.46,304.8 1442.77,297.1 1443.07,274.8 1443.38,326.5 1443.68,344.4 1443.96,326.5 1444.23,274.8 1444.50,306.1 1444.77,316.9 1445.08,306.1 1445.39,274.8 1445.48,274.8 1445.79,334.7 1446.10,355.5 1446.41,334.7 1446.72,274.8 1446.89,274.8 1447.20,365.6 1447.51,397.4 1447.76,365.6 1448.01,274.8 1448.27,318.8 1448.52,334.0 1448.82,318.8 1449.12,274.8 1449.42,380.1 1449.72,416.9 1450.01,380.1 1450.29,274.8 1450.57,347.5 1450.86,372.8 1451.17,347.5 1451.48,274.8 1451.52,274.8 1451.83,388.6 1452.14,428.4 1452.45,388.6 1452.76,274.8 1452.78,274.8 1453.09,363.9 1453.40,395.0 1453.69,363.9 1453.98,274.8 1454.27,388.6 1454.55,428.4 1454.86,388.6 1455.17,274.8 1455.20,274.8 1455.51,324.2 1455.82,341.4 1456.13,324.2 1456.44,274.8 1456.55,274.8 1456.86,345.8 1457.17,370.6 1457.48,345.8 1457.79,274.8 1457.82,274.8 1458.13,326.9 1458.44,345.0 1458.72,326.9 1459.01,274.8 1459.30,364.5 1459.58,395.8 1459.85,364.5 1460.12,274.8 1460.39,293.8 1460.66,300.3 1460.94,293.8 1461.23,274.8 1461.51,295.2 1461.80,302.2 1462.07,295.2 1462.35,274.8 1462.63,293.8 1462.90,300.3 1463.21,293.8 1463.52,274.8 1463.59,274.8 1463.90,322.8 1464.21,339.4 1464.52,322.8 1464.83,274.8 1464.88,274.8 1465.19,298.6 1465.50,306.8 1465.81,298.6 1466.12,274.8 1466.21,274.8 1466.52,341.4 1466.83,364.6 1467.14,341.4 1467.45,274.8 1467.47,274.8 1467.78,322.4 1468.09,338.9 1468.38,322.4 1468.67,274.8 1468.96,380.1 1469.24,416.9 1469.52,380.1 1469.80,274.8 1470.08,322.5 1470.36,339.0 1470.67,322.5 1470.98,274.8 1471.04,274.8 1471.35,372.6 1471.66,406.8 1471.93,372.6 1472.20,274.8 1472.48,335.4 1472.75,356.4 1473.03,335.4 1473.31,274.8 1473.59,418.8 1473.87,469.2 1474.18,418.8 1474.48,274.8 1474.79,334.5 1475.09,355.2 1475.39,334.5 1475.69,274.8 1475.99,389.5 1476.29,429.6 1476.59,389.5 1476.89,274.8 1477.19,350.2 1477.49,376.5 1477.80,350.2 1478.11,274.8 1478.28,274.8 1478.59,391.3 1478.90,432.0 1479.18,391.3 1479.46,274.8 1479.74,314.3 1480.02,327.9 1480.33,314.3 1480.64,274.8 1480.70,274.8 1481.01,356.3 1481.32,384.7 1481.56,356.3 1481.81,274.8 1482.05,311.0 1482.30,323.6 1482.56,311.0 1482.81,274.8 1483.07,328.0 1483.33,346.4 1483.64,328.0 1483.95,274.8 1484.04,274.8 1484.35,312.2 1484.66,325.1 1484.97,312.2 1485.28,274.8 1485.33,274.8 1485.64,352.5 1485.95,379.6 1486.18,352.5 1486.41,274.8 1486.65,336.3 1486.88,357.7 1487.15,336.3 1487.42,274.8 1487.69,395.0 1487.96,437.0 1488.27,395.0 1488.58,274.8 1488.66,274.8 1488.97,352.5 1489.28,379.6 1489.55,352.5 1489.83,274.8 1490.10,380.1 1490.38,416.9 1490.68,380.1 1490.99,274.8 1491.20,274.8 1491.51,351.9 1491.82,378.8 1492.13,351.9 1492.44,274.8 1492.57,274.8 1492.88,394.2 1493.19,436.0 1493.50,394.2 1493.81,274.8 1493.93,274.8 1494.24,348.7 1494.55,374.5 1494.86,348.7 1495.17,274.8 1495.39,274.8 1495.70,383.5 1496.01,421.5 1496.28,383.5 1496.56,274.8 1496.83,320.3 1497.11,336.1 1497.42,320.3 1497.73,274.8 1497.81,274.8 1498.12,357.8 1498.42,386.7 1498.73,357.8 1499.04,274.8 1499.35,328.7 1499.66,347.4 1499.95,328.7 1500.25,274.8 1500.54,357.8 1500.84,386.7 1501.13,357.8 1501.43,274.8 1501.72,296.5 1502.02,303.9 1502.28,296.5 1502.53,274.8 1502.79,317.5 1503.05,332.4 1503.35,317.5 1503.65,274.8 1503.94,303.0 1504.24,312.8 1504.55,303.0 1504.85,274.8 1505.16,336.9 1505.47,358.5 1505.78,336.9 1506.09,274.8 1506.11,274.8 1506.42,308.6 1506.73,320.2 1507.04,308.6 1507.35,274.8 1507.47,274.8 1507.78,319.0 1508.09,334.4 1508.39,319.0 1508.70,274.8 1508.74,274.8 1509.05,300.7 1509.36,309.5 1509.65,300.7 1509.93,274.8 1510.22,336.2 1510.50,357.5 1510.81,336.2 1511.12,274.8 1511.13,274.8 1511.44,317.7 1511.75,332.6 1512.06,317.7 1512.37,274.8 1512.50,274.8 1512.81,354.0 1513.12,381.7 1513.43,354.0 1513.74,274.8 1513.80,274.8 1514.11,330.6 1514.42,350.0 1514.73,330.6 1515.04,274.8 1515.31,274.8 1515.62,372.2 1515.93,406.2 1516.24,372.2 1516.55,274.8 1516.71,274.8 1517.02,331.0 1517.33,350.5 1517.64,331.0 1517.94,274.8 1518.25,346.6 1518.55,371.6 1518.78,346.6 1519.02,274.8 1519.25,297.1 1519.48,304.7 1519.75,297.1 1520.02,274.8 1520.29,311.6 1520.56,324.3 1520.87,311.6 1521.18,274.8 1521.40,274.8 1521.71,298.7 1522.02,306.9 1522.33,298.7 1522.64,274.8 1522.74,274.8 1523.05,296.9 1523.36,304.4 1523.66,296.9 1523.97,274.8 1524.28,368.2 1524.59,400.8 1524.90,368.2 1525.21,274.8 1525.32,274.8 1525.63,313.7 1525.94,327.2 1526.25,313.7 1526.56,274.8 1526.58,274.8 1526.89,351.1 1527.20,377.6 1527.51,351.1 1527.82,274.8 1528.01,274.8 1528.32,307.9 1528.63,319.4 1528.94,307.9 1529.25,274.8 1529.40,274.8 1529.71,339.9 1530.02,362.5 1530.33,339.9 1530.63,274.8 1530.94,293.1 1531.25,299.4 1531.49,293.1 1531.74,274.8 1531.99,294.5 1532.24,301.2 1532.52,294.5 1532.81,274.8 1533.10,293.1 1533.39,299.4 1533.70,293.1 1534.01,274.8 1534.03,274.8 1534.34,302.7 1534.65,312.2 1534.96,302.7 1535.27,274.8 1535.45,274.8 1535.76,297.0 1536.07,304.6 1536.38,297.0 1536.69,274.8 1537.05,274.8 1537.36,362.2 1537.67,392.7 1537.90,362.2 1538.13,274.8 1538.36,343.0 1538.59,366.7 1538.86,343.0 1539.14,274.8 1539.41,375.2 1539.68,410.2 1539.97,375.2 1540.26,274.8 1540.55,304.2 1540.84,314.3 1541.15,304.2 1541.46,274.8 1541.48,274.8 1541.79,334.7 1542.10,355.5 1542.41,334.7 1542.72,274.8 1542.74,274.8 1543.05,318.4 1543.36,333.5 1543.65,318.4 1543.94,274.8 1544.22,378.9 1544.51,415.3 1544.82,378.9 1545.13,274.8 1545.19,274.8 1545.50,343.8 1545.81,367.9 1546.12,343.8 1546.43,274.8 1546.51,274.8 1546.82,370.4 1547.13,403.8 1547.44,370.4 1547.75,274.8 1547.92,274.8 1548.23,339.8 1548.54,362.4 1548.84,339.8 1549.14,274.8 1549.44,360.0 1549.74,389.7 1550.05,360.0 1550.36,274.8 1550.44,274.8 1550.75,295.2 1551.06,302.2 1551.33,295.2 1551.61,274.8 1551.88,297.4 1552.16,305.2 1552.43,297.4 1552.69,274.8 1552.96,295.2 1553.23,302.1 1553.51,295.2 1553.80,274.8 1554.09,317.5 1554.37,332.4 1554.68,317.5 1554.98,274.8 1555.28,297.4 1555.59,305.1 1555.89,297.4 1556.19,274.8 1556.49,308.6 1556.79,320.3 1557.06,308.6 1557.34,274.8 1557.61,299.3 1557.88,307.7 1558.19,299.3 1558.50,274.8 1558.58,274.8 1558.89,306.4 1559.20,317.3 1559.51,306.4 1559.82,274.8 1559.91,274.8 1560.22,296.7 1560.53,304.2 1560.84,296.7 1561.15,274.8 1561.20,274.8 1561.51,307.9 1561.82,319.3 1562.06,307.9 1562.31,274.8 1562.55,295.2 1562.80,302.1 1563.05,295.2 1563.31,274.8 1563.57,315.3 1563.83,329.3 1564.14,315.3 1564.45,274.8 1564.50,274.8 1564.81,305.6 1565.12,316.3 1565.43,305.6 1565.74,274.8 1565.83,274.8 1566.14,345.1 1566.45,369.6 1566.76,345.1 1567.07,274.8 1567.15,274.8 1567.46,307.5 1567.77,318.7 1568.04,307.5 1568.32,274.8 1568.59,352.5 1568.86,379.6 1569.10,352.5 1569.33,274.8 1569.57,320.7 1569.80,336.6 1570.07,320.7 1570.34,274.8 1570.61,367.1 1570.88,399.4 1571.18,367.1 1571.49,274.8 1571.82,274.8 1572.13,314.1 1572.44,327.7 1572.75,314.1 1573.06,274.8 1573.27,274.8 1573.58,336.9 1573.89,358.5 1574.20,336.9 1574.51,274.8 1574.73,274.8 1575.04,317.7 1575.35,332.6 1575.66,317.7 1575.97,274.8 1576.29,274.8 1576.60,345.1 1576.91,369.6 1577.22,345.1 1577.53,274.8 1577.57,274.8 1577.88,324.5 1578.19,341.7 1578.50,324.5 1578.81,274.8 1578.91,274.8 1579.22,338.4 1579.53,360.5 1579.76,338.4 1579.98,274.8 1580.21,299.4 1580.44,307.9 1580.71,299.4 1580.99,274.8 1581.26,318.3 1581.54,333.4 1581.84,318.3 1582.14,274.8 1582.43,301.8 1582.73,311.0 1583.04,301.8 1583.34,274.8 1583.65,333.2 1583.96,353.5 1584.27,333.2 1584.58,274.8 1584.68,274.8 1584.99,306.6 1585.30,317.6 1585.61,306.6 1585.92,274.8 1585.95,274.8 1586.26,322.8 1586.57,339.4 1586.88,322.8 1587.19,274.8 1587.38,274.8 1587.69,310.7 1588.00,323.2 1588.31,310.7 1588.62,274.8 1588.97,274.8 1589.28,367.4 1589.59,399.8 1589.90,367.4 1590.21,274.8"/>
<text class="tk" text-anchor="end" transform="translate(939.2 63.8) scale(0.904 1)">4.0E-04</text>
<text class="tk" text-anchor="end" transform="translate(939.2 172.9) scale(0.904 1)">2.0E-04</text>
<text class="tk" text-anchor="end" transform="translate(939.2 282.1) scale(0.904 1)">0.0E+00</text>
<text class="tk" text-anchor="end" transform="translate(939.2 391.3) scale(0.904 1)">-2.0E-04</text>
<text class="tk" text-anchor="end" transform="translate(939.2 500.4) scale(0.904 1)">-4.0E-04</text>
<text class="tk" text-anchor="middle" transform="translate(946.7 544.9) scale(0.904 1)">0</text>
<text class="tk" text-anchor="middle" transform="translate(1075.3 544.9) scale(0.904 1)">2</text>
<text class="tk" text-anchor="middle" transform="translate(1203.9 544.9) scale(0.904 1)">4</text>
<text class="tk" text-anchor="middle" transform="translate(1332.4 544.9) scale(0.904 1)">6</text>
<text class="tk" text-anchor="middle" transform="translate(1461.0 544.9) scale(0.904 1)">8</text>
<text class="tk" text-anchor="middle" transform="translate(1589.6 544.9) scale(0.904 1)">10</text>
<text class="ti" text-anchor="middle" x="1267.8" y="577.6">Time (s)</text>
<text class="ti" text-anchor="middle" transform="translate(846.4 244.8) rotate(-90)">Strain response</text>
<rect x="1186.30" y="21.30" width="166.10" height="33.20" fill="#fff" stroke="#000" stroke-width="1.5"/>
<path d="M1189.00 38.30h54.5" stroke="#0000ff" stroke-width="1.4" fill="none"/>
<text class="lg" x="1249.5" y="46.6">Element 8</text>
</g>
<g>
<clipPath id="c2"><rect x="118.10" y="619.40" width="645.00" height="518.50"/></clipPath>
<path class="t" d="M119.10 648.21h6.3M762.10 648.21h-6.3M119.10 763.43h6.3M762.10 763.43h-6.3M119.10 878.65h6.3M762.10 878.65h-6.3M119.10 993.87h6.3M762.10 993.87h-6.3M119.10 1109.09h6.3M762.10 1109.09h-6.3M247.70 1137.90v-6.3M247.70 619.40v6.3M376.30 1137.90v-6.3M376.30 619.40v6.3M504.90 1137.90v-6.3M504.90 619.40v6.3M633.50 1137.90v-6.3M633.50 619.40v6.3"/>
<rect class="fr" x="119.10" y="619.40" width="643.00" height="518.50"/>
<polyline class="s" clip-path="url(#c2)" points="118.32,879.3 118.63,855.8 118.94,847.7 119.20,855.8 119.47,879.3 119.74,833.9 120.01,818.1 120.32,833.9 120.63,879.3 120.67,879.3 120.98,849.3 121.29,839.0 121.57,849.3 121.86,879.3 122.14,775.8 122.42,739.6 122.73,775.8 123.04,879.3 123.19,879.3 123.50,802.8 123.81,776.1 124.11,802.8 124.42,879.3 124.73,750.9 125.04,706.0 125.32,750.9 125.61,879.3 125.89,813.4 126.17,790.5 126.48,813.4 126.79,879.3 126.83,879.3 127.14,768.3 127.45,729.6 127.76,768.3 128.07,879.3 128.18,879.3 128.49,833.3 128.80,817.4 129.11,833.3 129.42,879.3 129.45,879.3 129.76,810.3 130.07,786.3 130.34,810.3 130.61,879.3 130.89,845.8 131.16,834.2 131.47,845.8 131.78,879.3 131.86,879.3 132.17,820.8 132.48,800.4 132.76,820.8 133.04,879.3 133.31,834.8 133.59,819.4 133.86,834.8 134.14,879.3 134.42,785.0 134.70,752.1 135.01,785.0 135.32,879.3 135.63,830.5 135.94,813.6 136.23,830.5 136.52,879.3 136.82,795.9 137.11,766.8 137.40,795.9 137.69,879.3 137.99,824.1 138.28,805.0 138.54,824.1 138.80,879.3 139.06,762.1 139.33,721.1 139.64,762.1 139.95,879.3 140.09,879.3 140.40,827.6 140.71,809.6 141.02,827.6 141.33,879.3 141.52,879.3 141.83,800.8 142.14,773.4 142.44,800.8 142.73,879.3 143.03,851.4 143.32,841.8 143.63,851.4 143.94,879.3 144.25,820.8 144.56,800.4 144.87,820.8 145.17,879.3 145.48,845.5 145.79,833.9 146.10,845.5 146.41,879.3 146.56,879.3 146.87,782.8 147.18,749.1 147.41,782.8 147.65,879.3 147.88,809.7 148.12,785.4 148.39,809.7 148.65,879.3 148.92,777.3 149.19,741.6 149.46,777.3 149.73,879.3 150.01,806.2 150.28,780.8 150.59,806.2 150.90,879.3 150.98,879.3 151.29,778.0 151.60,742.7 151.91,778.0 152.22,879.3 152.34,879.3 152.65,813.0 152.96,789.9 153.27,813.0 153.58,879.3 153.60,879.3 153.91,756.1 154.22,713.1 154.53,756.1 154.84,879.3 155.21,879.3 155.52,725.9 155.83,672.2 156.14,725.9 156.45,879.3 156.50,879.3 156.81,835.7 157.12,820.6 157.40,835.7 157.68,879.3 157.96,811.8 158.24,788.3 158.55,811.8 158.86,879.3 158.99,879.3 159.30,836.1 159.61,821.1 159.92,836.1 160.23,879.3 160.24,879.3 160.55,786.5 160.86,754.1 161.11,786.5 161.36,879.3 161.61,830.0 161.86,813.0 162.11,830.0 162.37,879.3 162.62,754.9 162.87,711.5 163.18,754.9 163.49,879.3 163.66,879.3 163.97,826.4 164.28,808.0 164.59,826.4 164.90,879.3 165.07,879.3 165.38,788.0 165.69,756.1 165.95,788.0 166.20,879.3 166.46,811.8 166.71,788.4 167.01,811.8 167.31,879.3 167.61,757.2 167.90,714.5 168.21,757.2 168.52,879.3 168.71,879.3 169.02,838.8 169.33,824.8 169.64,838.8 169.95,879.3 170.10,879.3 170.41,797.8 170.72,769.4 170.97,797.8 171.22,879.3 171.47,834.0 171.72,818.3 172.02,834.0 172.33,879.3 172.63,773.8 172.94,737.0 173.22,773.8 173.51,879.3 173.80,833.6 174.09,817.8 174.40,833.6 174.71,879.3 174.73,879.3 175.04,792.9 175.35,762.8 175.65,792.9 175.95,879.3 176.25,813.9 176.55,791.1 176.86,813.9 177.17,879.3 177.35,879.3 177.66,791.1 177.97,760.4 178.25,791.1 178.54,879.3 178.83,830.1 179.12,813.0 179.43,830.1 179.74,879.3 179.76,879.3 180.07,816.4 180.38,794.6 180.69,816.4 181.00,879.3 181.02,879.3 181.33,836.4 181.64,821.5 181.95,836.4 182.26,879.3 182.38,879.3 182.69,817.2 183.00,795.6 183.31,817.2 183.62,879.3 183.64,879.3 183.95,852.3 184.26,843.0 184.55,852.3 184.83,879.3 185.12,840.6 185.41,827.2 185.72,840.6 186.03,879.3 186.40,879.3 186.71,860.7 187.02,854.4 187.33,860.7 187.64,879.3 187.81,879.3 188.12,776.5 188.43,740.6 188.74,776.5 189.05,879.3 189.12,879.3 189.43,845.8 189.74,834.3 190.05,845.8 190.36,879.3 190.43,879.3 190.74,835.4 191.05,820.1 191.36,835.4 191.67,879.3 191.84,879.3 192.15,824.9 192.46,806.0 192.77,824.9 193.08,879.3 193.45,879.3 193.76,781.7 194.07,747.7 194.38,781.7 194.69,879.3 194.79,879.3 195.10,813.9 195.41,791.1 195.72,813.9 196.03,879.3 196.26,879.3 196.57,792.2 196.88,761.8 197.13,792.2 197.38,879.3 197.63,818.2 197.87,796.9 198.18,818.2 198.49,879.3 198.79,787.0 199.10,754.7 199.38,787.0 199.67,879.3 199.96,817.5 200.25,796.0 200.56,817.5 200.87,879.3 200.89,879.3 201.20,767.1 201.51,728.0 201.81,767.1 202.12,879.3 202.42,808.5 202.72,783.8 203.03,808.5 203.34,879.3 203.51,879.3 203.82,789.2 204.13,757.8 204.44,789.2 204.75,879.3 205.01,879.3 205.32,817.6 205.63,796.2 205.94,817.6 206.25,879.3 206.33,879.3 206.64,800.8 206.95,773.4 207.18,800.8 207.41,879.3 207.64,842.2 207.87,829.5 208.14,842.2 208.42,879.3 208.69,785.0 208.96,752.1 209.23,785.0 209.51,879.3 209.79,837.3 210.06,822.8 210.34,837.3 210.62,879.3 210.89,793.2 211.17,763.2 211.48,793.2 211.78,879.3 212.08,813.1 212.39,790.1 212.69,813.1 212.99,879.3 213.29,795.1 213.59,765.8 213.90,795.1 214.21,879.3 214.27,879.3 214.58,836.4 214.89,821.5 215.20,836.4 215.51,879.3 215.58,879.3 215.89,763.1 216.20,722.5 216.51,763.1 216.82,879.3 216.89,879.3 217.20,789.4 217.51,758.1 217.79,789.4 218.07,879.3 218.34,731.4 218.62,679.7 218.93,731.4 219.24,879.3 219.33,879.3 219.64,797.1 219.95,768.5 220.26,797.1 220.57,879.3 220.62,879.3 220.93,722.9 221.24,668.2 221.55,722.9 221.86,879.3 221.94,879.3 222.25,813.5 222.56,790.5 222.83,813.5 223.10,879.3 223.38,760.4 223.65,718.9 223.93,760.4 224.20,879.3 224.48,801.0 224.76,773.8 224.98,801.0 225.21,879.3 225.44,780.2 225.66,745.7 225.97,780.2 226.28,879.3 226.41,879.3 226.72,809.3 227.03,784.9 227.34,809.3 227.65,879.3 227.66,879.3 227.97,790.4 228.28,759.4 228.53,790.4 228.79,879.3 229.04,851.5 229.29,841.9 229.54,851.5 229.79,879.3 230.04,840.6 230.29,827.2 230.52,840.6 230.75,879.3 230.98,857.0 231.22,849.4 231.44,857.0 231.66,879.3 231.88,847.3 232.10,836.2 232.40,847.3 232.69,879.3 232.98,852.6 233.27,843.5 233.53,852.6 233.79,879.3 234.06,814.2 234.32,791.6 234.63,814.2 234.94,879.3 234.99,879.3 235.30,849.6 235.61,839.4 235.89,849.6 236.17,879.3 236.45,818.2 236.73,797.0 236.98,818.2 237.22,879.3 237.47,836.3 237.72,821.4 237.97,836.3 238.23,879.3 238.49,807.8 238.74,782.9 239.04,807.8 239.34,879.3 239.64,844.2 239.95,832.1 240.25,844.2 240.55,879.3 240.86,825.7 241.16,807.1 241.41,825.7 241.66,879.3 241.91,844.8 242.16,832.9 242.42,844.8 242.67,879.3 242.92,790.2 243.17,759.2 243.44,790.2 243.71,879.3 243.99,840.2 244.26,826.7 244.54,840.2 244.82,879.3 245.10,828.2 245.38,810.5 245.69,828.2 246.00,879.3 246.15,879.3 246.46,838.8 246.77,824.8 247.08,838.8 247.39,879.3 247.58,879.3 247.89,807.8 248.20,782.9 248.50,807.8 248.80,879.3 249.10,848.1 249.40,837.3 249.66,848.1 249.91,879.3 250.16,817.0 250.42,795.4 250.73,817.0 251.04,879.3 251.08,879.3 251.39,850.8 251.70,841.1 251.98,850.8 252.26,879.3 252.55,769.5 252.83,731.2 253.10,769.5 253.37,879.3 253.64,825.3 253.91,806.6 254.19,825.3 254.48,879.3 254.76,745.3 255.05,698.4 255.36,745.3 255.67,879.3 255.69,879.3 256.00,817.6 256.31,796.2 256.60,817.6 256.89,879.3 257.17,788.9 257.46,757.3 257.74,788.9 258.03,879.3 258.31,833.2 258.59,817.3 258.90,833.2 259.21,879.3 259.25,879.3 259.56,788.1 259.88,756.3 260.16,788.1 260.44,879.3 260.73,824.6 261.01,805.6 261.28,824.6 261.55,879.3 261.82,779.5 262.09,744.7 262.40,779.5 262.70,879.3 263.01,830.2 263.32,813.2 263.61,830.2 263.91,879.3 264.21,810.3 264.50,786.3 264.73,810.3 264.96,879.3 265.20,857.3 265.43,849.8 265.70,857.3 265.97,879.3 266.24,852.5 266.52,843.3 266.79,852.5 267.06,879.3 267.33,854.7 267.60,846.3 267.84,854.7 268.07,879.3 268.30,822.2 268.53,802.4 268.83,822.2 269.13,879.3 269.43,849.3 269.73,839.0 270.03,849.3 270.34,879.3 270.64,805.3 270.94,779.5 271.24,805.3 271.54,879.3 271.84,829.5 272.14,812.3 272.45,829.5 272.75,879.3 273.05,775.8 273.36,739.6 273.64,775.8 273.92,879.3 274.21,824.5 274.49,805.5 274.76,824.5 275.03,879.3 275.30,761.2 275.57,719.9 275.88,761.2 276.19,879.3 276.49,826.2 276.80,807.8 277.10,826.2 277.39,879.3 277.69,789.6 277.99,758.4 278.30,789.6 278.61,879.3 278.73,879.3 279.04,833.2 279.35,817.3 279.66,833.2 279.97,879.3 279.98,879.3 280.29,788.7 280.60,757.1 280.89,788.7 281.18,879.3 281.47,857.8 281.76,850.5 282.07,857.8 282.38,879.3 282.40,879.3 282.71,850.2 283.02,840.3 283.33,850.2 283.64,879.3 283.81,879.3 284.12,850.2 284.43,840.3 284.67,850.2 284.92,879.3 285.16,853.4 285.41,844.5 285.67,853.4 285.92,879.3 286.18,811.8 286.44,788.3 286.75,811.8 287.06,879.3 287.07,879.3 287.38,850.5 287.69,840.7 288.00,850.5 288.31,879.3 288.44,879.3 288.75,820.8 289.06,800.4 289.29,820.8 289.53,879.3 289.77,854.7 290.00,846.2 290.27,854.7 290.54,879.3 290.80,831.6 291.07,815.1 291.38,831.6 291.69,879.3 291.87,879.3 292.18,852.5 292.49,843.3 292.79,852.5 293.09,879.3 293.39,804.5 293.69,778.5 294.00,804.5 294.31,879.3 294.45,879.3 294.76,852.0 295.07,842.7 295.38,852.0 295.69,879.3 295.88,879.3 296.19,830.4 296.50,813.5 296.81,830.4 297.12,879.3 297.43,845.0 297.74,833.2 298.05,845.0 298.36,879.3 298.50,879.3 298.81,782.5 299.12,748.7 299.38,782.5 299.63,879.3 299.89,835.0 300.15,819.7 300.39,835.0 300.64,879.3 300.89,810.0 301.13,785.9 301.35,810.0 301.57,879.3 301.80,830.3 302.02,813.2 302.30,830.3 302.58,879.3 302.86,807.1 303.14,781.9 303.45,807.1 303.75,879.3 304.05,839.3 304.35,825.5 304.65,839.3 304.95,879.3 305.26,757.9 305.56,715.5 305.87,757.9 306.18,879.3 306.24,879.3 306.55,807.4 306.86,782.4 307.17,807.4 307.48,879.3 307.56,879.3 307.87,775.8 308.18,739.6 308.49,775.8 308.80,879.3 308.84,879.3 309.15,817.6 309.46,796.1 309.77,817.6 310.08,879.3 310.17,879.3 310.48,763.1 310.79,722.5 311.10,763.1 311.41,879.3 311.47,879.3 311.78,838.7 312.09,824.6 312.37,838.7 312.65,879.3 312.93,790.2 313.21,759.2 313.46,790.2 313.71,879.3 313.96,838.7 314.22,824.7 314.47,838.7 314.72,879.3 314.97,754.9 315.22,711.5 315.53,754.9 315.84,879.3 315.90,879.3 316.21,809.5 316.52,785.2 316.83,809.5 317.14,879.3 317.22,879.3 317.53,747.0 317.84,700.8 318.13,747.0 318.42,879.3 318.71,811.4 319.00,787.8 319.31,811.4 319.62,879.3 319.63,879.3 319.94,789.5 320.25,758.2 320.56,789.5 320.87,879.3 320.93,879.3 321.24,821.4 321.55,801.3 321.83,821.4 322.11,879.3 322.39,781.0 322.67,746.7 322.96,781.0 323.26,879.3 323.56,845.3 323.86,833.6 324.17,845.3 324.48,879.3 324.66,879.3 324.97,821.6 325.28,801.6 325.57,821.6 325.86,879.3 326.14,848.8 326.43,838.3 326.74,848.8 327.05,879.3 327.08,879.3 327.39,832.8 327.70,816.7 327.92,832.8 328.15,879.3 328.37,852.2 328.60,842.9 328.87,852.2 329.15,879.3 329.43,836.4 329.71,821.5 330.02,836.4 330.33,879.3 330.70,879.3 331.01,856.2 331.32,848.3 331.60,856.2 331.88,879.3 332.16,857.8 332.44,850.4 332.75,857.8 333.06,879.3 333.11,879.3 333.42,801.1 333.73,773.9 334.04,801.1 334.35,879.3 334.41,879.3 334.72,831.4 335.03,814.9 335.34,831.4 335.65,879.3 335.73,879.3 336.04,817.5 336.35,796.0 336.66,817.5 336.97,879.3 337.28,842.0 337.59,829.1 337.88,842.0 338.18,879.3 338.47,793.7 338.76,763.8 339.07,793.7 339.38,879.3 339.52,879.3 339.83,850.3 340.14,840.3 340.45,850.3 340.76,879.3 340.76,879.3 341.07,822.2 341.38,802.4 341.64,822.2 341.90,879.3 342.16,849.9 342.41,839.9 342.66,849.9 342.90,879.3 343.15,814.2 343.39,791.6 343.70,814.2 344.01,879.3 344.32,853.6 344.63,844.8 344.94,853.6 345.25,879.3 345.39,879.3 345.70,825.2 346.01,806.5 346.24,825.2 346.46,879.3 346.69,854.9 346.91,846.5 347.19,854.9 347.47,879.3 347.75,845.8 348.02,834.2 348.29,845.8 348.56,879.3 348.82,852.8 349.09,843.7 349.33,852.8 349.56,879.3 349.80,728.9 350.04,676.2 350.31,728.9 350.59,879.3 350.87,835.4 351.14,820.2 351.45,835.4 351.76,879.3 351.83,879.3 352.14,796.6 352.45,767.8 352.76,796.6 353.06,879.3 353.37,823.1 353.67,803.5 353.97,823.1 354.27,879.3 354.57,742.0 354.87,694.0 355.14,742.0 355.42,879.3 355.69,831.0 355.97,814.3 356.25,831.0 356.52,879.3 356.80,800.7 357.08,773.2 357.35,800.7 357.63,879.3 357.90,849.0 358.18,838.5 358.49,849.0 358.80,879.3 358.87,879.3 359.18,834.6 359.49,819.1 359.80,834.6 360.11,879.3 360.32,879.3 360.63,847.6 360.94,836.7 361.25,847.6 361.56,879.3 361.89,879.3 362.20,829.1 362.51,811.7 362.81,829.1 363.11,879.3 363.41,852.7 363.71,843.6 364.01,852.7 364.32,879.3 364.62,803.8 364.93,777.5 365.24,803.8 365.55,879.3 365.93,879.3 366.24,841.2 366.55,828.1 366.86,841.2 367.17,879.3 367.33,879.3 367.64,828.6 367.95,811.1 368.26,828.6 368.57,879.3 368.94,879.3 369.25,869.6 369.56,866.4 369.82,869.6 370.09,879.3 370.35,869.3 370.62,866.0 370.86,869.3 371.09,879.3 371.33,825.7 371.57,807.1 371.83,825.7 372.09,879.3 372.35,839.2 372.61,825.3 372.85,839.2 373.10,879.3 373.34,818.7 373.58,797.6 373.89,818.7 374.20,879.3 374.37,879.3 374.68,808.1 374.99,783.3 375.30,808.1 375.61,879.3 376.00,879.3 376.31,847.4 376.62,836.5 376.93,847.4 377.24,879.3 377.59,879.3 377.90,817.2 378.21,795.6 378.52,817.2 378.83,879.3 379.13,841.3 379.44,828.2 379.75,841.3 380.06,879.3 380.21,879.3 380.52,780.2 380.83,745.7 381.11,780.2 381.40,879.3 381.68,840.2 381.97,826.8 382.24,840.2 382.50,879.3 382.77,821.6 383.04,801.6 383.34,821.6 383.65,879.3 383.95,842.1 384.26,829.3 384.57,842.1 384.88,879.3 385.04,879.3 385.35,808.5 385.66,783.9 385.89,808.5 386.12,879.3 386.35,852.9 386.59,843.8 386.86,852.9 387.13,879.3 387.40,846.5 387.67,835.2 387.93,846.5 388.19,879.3 388.45,853.2 388.71,844.2 388.95,853.2 389.19,879.3 389.44,813.0 389.68,790.0 389.91,813.0 390.13,879.3 390.36,852.2 390.59,842.9 390.86,852.2 391.14,879.3 391.42,840.6 391.69,827.2 391.92,840.6 392.14,879.3 392.37,849.9 392.59,839.8 392.87,849.9 393.15,879.3 393.43,823.7 393.71,804.4 393.97,823.7 394.24,879.3 394.51,850.7 394.78,840.9 395.01,850.7 395.25,879.3 395.48,838.3 395.72,824.2 396.02,838.3 396.32,879.3 396.62,847.6 396.92,836.7 397.23,847.6 397.54,879.3 397.72,879.3 398.03,812.6 398.34,789.3 398.58,812.6 398.82,879.3 399.07,840.4 399.31,827.0 399.57,840.4 399.83,879.3 400.09,744.2 400.35,697.0 400.63,744.2 400.92,879.3 401.20,801.1 401.49,773.8 401.80,801.1 402.11,879.3 402.14,879.3 402.45,762.4 402.76,721.5 403.05,762.4 403.33,879.3 403.62,815.4 403.91,793.2 404.22,815.4 404.53,879.3 404.56,879.3 404.87,792.5 405.18,762.2 405.46,792.5 405.74,879.3 406.03,810.7 406.31,786.8 406.58,810.7 406.85,879.3 407.12,769.8 407.39,731.6 407.70,769.8 408.00,879.3 408.30,840.2 408.61,826.7 408.91,840.2 409.21,879.3 409.51,812.7 409.81,789.5 410.06,812.7 410.30,879.3 410.55,848.8 410.80,838.3 411.06,848.8 411.31,879.3 411.56,825.2 411.82,806.5 412.13,825.2 412.44,879.3 412.51,879.3 412.82,854.5 413.13,846.0 413.41,854.5 413.68,879.3 413.96,813.3 414.23,790.4 414.54,813.3 414.85,879.3 414.92,879.3 415.23,843.3 415.54,830.9 415.85,843.3 416.16,879.3 416.23,879.3 416.54,822.2 416.85,802.4 417.16,822.2 417.47,879.3 417.61,879.3 417.92,835.0 418.23,819.6 418.54,835.0 418.85,879.3 418.85,879.3 419.16,791.1 419.47,760.4 419.74,791.1 420.01,879.3 420.28,834.9 420.56,819.5 420.87,834.9 421.18,879.3 421.26,879.3 421.57,813.8 421.88,791.0 422.19,813.8 422.50,879.3 422.58,879.3 422.89,851.7 423.20,842.2 423.47,851.7 423.75,879.3 424.02,840.1 424.30,826.6 424.61,840.1 424.92,879.3 425.29,879.3 425.60,783.2 425.91,749.7 426.22,783.2 426.53,879.3 426.60,879.3 426.91,827.5 427.22,809.5 427.50,827.5 427.77,879.3 428.05,758.7 428.32,716.5 428.63,758.7 428.93,879.3 429.24,806.3 429.54,780.9 429.84,806.3 430.14,879.3 430.44,732.3 430.74,680.9 430.99,732.3 431.23,879.3 431.48,803.2 431.73,776.7 432.04,803.2 432.34,879.3 432.65,775.8 432.95,739.6 433.25,775.8 433.55,879.3 433.85,832.1 434.15,815.8 434.45,832.1 434.76,879.3 435.06,788.7 435.37,757.1 435.67,788.7 435.98,879.3 436.29,807.6 436.60,782.7 436.91,807.6 437.22,879.3 437.36,879.3 437.67,777.3 437.98,741.6 438.26,777.3 438.54,879.3 438.82,832.0 439.10,815.6 439.37,832.0 439.65,879.3 439.92,783.2 440.20,749.7 440.41,783.2 440.62,879.3 440.83,841.1 441.04,827.9 441.28,841.1 441.52,879.3 441.76,798.1 442.01,769.8 442.32,798.1 442.63,879.3 442.97,879.3 443.28,821.3 443.59,801.2 443.90,821.3 444.21,879.3 444.40,879.3 444.71,765.8 445.02,726.2 445.33,765.8 445.64,879.3 445.72,879.3 446.03,807.3 446.34,782.2 446.65,807.3 446.96,879.3 447.02,879.3 447.33,786.7 447.64,754.3 447.95,786.7 448.26,879.3 448.32,879.3 448.63,819.6 448.94,798.9 449.22,819.6 449.50,879.3 449.78,789.6 450.06,758.4 450.37,789.6 450.68,879.3 450.74,879.3 451.05,826.7 451.36,808.4 451.64,826.7 451.91,879.3 452.19,782.8 452.47,749.1 452.76,782.8 453.05,879.3 453.34,823.8 453.63,804.5 453.90,823.8 454.16,879.3 454.42,781.7 454.69,747.7 454.98,781.7 455.28,879.3 455.57,809.0 455.87,784.5 456.17,809.0 456.48,879.3 456.79,755.2 457.10,711.9 457.41,755.2 457.72,879.3 457.83,879.3 458.14,825.0 458.45,806.1 458.76,825.0 459.07,879.3 459.10,879.3 459.41,767.6 459.72,728.6 459.97,767.6 460.23,879.3 460.49,842.6 460.75,829.9 460.99,842.6 461.24,879.3 461.48,832.1 461.73,815.7 461.98,832.1 462.23,879.3 462.48,848.8 462.74,838.2 462.98,848.8 463.22,879.3 463.47,855.2 463.71,846.9 463.97,855.2 464.23,879.3 464.49,815.2 464.75,793.0 464.97,815.2 465.19,879.3 465.42,843.2 465.64,830.7 465.92,843.2 466.20,879.3 466.48,809.7 466.76,785.5 467.07,809.7 467.38,879.3 467.42,879.3 467.73,837.3 468.04,822.7 468.33,837.3 468.61,879.3 468.89,719.2 469.18,663.2 469.49,719.2 469.80,879.3 469.86,879.3 470.17,823.9 470.48,804.6 470.76,823.9 471.04,879.3 471.31,761.2 471.59,719.9 471.90,761.2 472.21,879.3 472.30,879.3 472.61,824.9 472.92,806.0 473.23,824.9 473.54,879.3 473.59,879.3 473.90,744.8 474.21,697.8 474.52,744.8 474.83,879.3 474.91,879.3 475.22,806.3 475.53,780.9 475.80,806.3 476.08,879.3 476.35,742.7 476.62,695.0 476.87,742.7 477.12,879.3 477.37,800.1 477.61,772.5 477.92,800.1 478.22,879.3 478.53,736.8 478.83,686.9 479.11,736.8 479.39,879.3 479.67,792.2 479.95,761.9 480.26,792.2 480.57,879.3 480.63,879.3 480.94,765.4 481.25,725.5 481.54,765.4 481.84,879.3 482.13,825.5 482.42,806.8 482.73,825.5 483.04,879.3 483.05,879.3 483.36,784.0 483.67,750.7 483.98,784.0 484.29,879.3 484.65,879.3 484.96,877.2 485.27,876.7 485.58,877.2 485.89,879.3 486.20,869.3 486.51,866.0 486.82,869.3 487.13,879.3 487.27,879.3 487.58,801.1 487.89,773.9 488.17,801.1 488.46,879.3 488.74,838.8 489.02,824.8 489.33,838.8 489.64,879.3 489.69,879.3 490.00,792.6 490.31,762.4 490.56,792.6 490.82,879.3 491.07,832.8 491.33,816.7 491.57,832.8 491.82,879.3 492.07,814.5 492.32,792.0 492.59,814.5 492.86,879.3 493.13,859.2 493.40,852.3 493.64,859.2 493.87,879.3 494.10,857.7 494.33,850.3 494.64,857.7 494.95,879.3 495.12,879.3 495.43,854.0 495.74,845.3 496.04,854.0 496.33,879.3 496.63,855.7 496.92,847.6 497.18,855.7 497.44,879.3 497.70,827.2 497.95,809.1 498.26,827.2 498.57,879.3 498.60,879.3 498.91,844.5 499.22,832.5 499.51,844.5 499.79,879.3 500.08,770.6 500.37,732.6 500.68,770.6 500.99,879.3 501.05,879.3 501.36,847.1 501.67,836.0 501.95,847.1 502.23,879.3 502.50,810.8 502.78,786.9 503.07,810.8 503.35,879.3 503.63,830.9 503.92,814.1 504.19,830.9 504.46,879.3 504.73,776.1 505.00,740.0 505.22,776.1 505.45,879.3 505.68,830.4 505.90,813.4 506.18,830.4 506.46,879.3 506.73,795.6 507.01,766.4 507.28,795.6 507.56,879.3 507.83,821.7 508.10,801.6 508.41,821.7 508.72,879.3 508.81,879.3 509.12,796.9 509.43,768.2 509.69,796.9 509.96,879.3 510.22,818.1 510.49,796.8 510.72,818.1 510.96,879.3 511.20,774.0 511.44,737.2 511.72,774.0 512.00,879.3 512.28,831.7 512.56,815.2 512.87,831.7 513.18,879.3 513.23,879.3 513.54,779.1 513.85,744.1 514.15,779.1 514.45,879.3 514.74,836.5 515.04,821.7 515.30,836.5 515.55,879.3 515.81,824.9 516.07,806.0 516.38,824.9 516.68,879.3 516.99,848.8 517.30,838.3 517.60,848.8 517.89,879.3 518.19,799.2 518.48,771.2 518.79,799.2 519.09,879.3 519.40,829.9 519.70,812.8 520.00,829.9 520.30,879.3 520.60,786.5 520.90,754.1 521.19,786.5 521.49,879.3 521.78,809.6 522.08,785.3 522.34,809.6 522.59,879.3 522.85,753.0 523.11,708.8 523.42,753.0 523.72,879.3 524.03,787.9 524.34,756.0 524.63,787.9 524.93,879.3 525.23,717.7 525.52,661.1 525.81,717.7 526.10,879.3 526.39,803.2 526.67,776.7 526.98,803.2 527.29,879.3 527.32,879.3 527.63,717.7 527.94,661.1 528.20,717.7 528.45,879.3 528.71,833.1 528.96,817.1 529.26,833.1 529.56,879.3 529.86,789.6 530.15,758.4 530.46,789.6 530.77,879.3 530.86,879.3 531.17,819.5 531.48,798.7 531.75,819.5 532.02,879.3 532.30,783.5 532.57,750.1 532.78,783.5 533.00,879.3 533.21,809.0 533.43,784.5 533.67,809.0 533.90,879.3 534.14,775.3 534.38,739.0 534.69,775.3 535.00,879.3 535.08,879.3 535.39,840.2 535.70,826.6 536.01,840.2 536.32,879.3 536.38,879.3 536.69,805.6 537.00,779.9 537.30,805.6 537.60,879.3 537.90,849.9 538.20,839.9 538.46,849.9 538.71,879.3 538.96,817.0 539.21,795.4 539.52,817.0 539.83,879.3 540.02,879.3 540.33,840.3 540.64,826.9 540.95,840.3 541.26,879.3 541.41,879.3 541.72,772.1 542.03,734.6 542.31,772.1 542.59,879.3 542.88,799.4 543.16,771.5 543.43,799.4 543.70,879.3 543.97,740.0 544.24,691.3 544.55,740.0 544.86,879.3 544.88,879.3 545.19,820.2 545.50,799.7 545.79,820.2 546.08,879.3 546.37,789.6 546.66,758.4 546.93,789.6 547.20,879.3 547.48,828.2 547.75,810.5 548.06,828.2 548.37,879.3 548.45,879.3 548.76,804.1 549.07,777.9 549.30,804.1 549.52,879.3 549.75,826.6 549.97,808.3 550.25,826.6 550.53,879.3 550.81,812.6 551.08,789.3 551.36,812.6 551.64,879.3 551.92,849.0 552.20,838.6 552.42,849.0 552.65,879.3 552.87,834.6 553.10,819.1 553.40,834.6 553.70,879.3 554.00,855.0 554.30,846.7 554.61,855.0 554.92,879.3 555.09,879.3 555.40,785.2 555.71,752.3 555.98,785.2 556.25,879.3 556.51,840.9 556.78,827.6 557.02,840.9 557.25,879.3 557.49,801.5 557.73,774.5 558.02,801.5 558.32,879.3 558.62,839.0 558.91,825.1 559.22,839.0 559.53,879.3 559.83,821.5 560.14,801.4 560.39,821.5 560.64,879.3 560.88,848.8 561.13,838.3 561.44,848.8 561.74,879.3 562.05,836.1 562.35,821.1 562.63,836.1 562.90,879.3 563.18,852.3 563.45,843.1 563.68,852.3 563.91,879.3 564.14,808.5 564.37,783.9 564.68,808.5 564.99,879.3 565.10,879.3 565.41,831.2 565.72,814.5 566.03,831.2 566.34,879.3 566.56,879.3 566.87,782.8 567.18,749.1 567.43,782.8 567.68,879.3 567.93,809.4 568.18,785.0 568.43,809.4 568.69,879.3 568.94,746.7 569.20,700.4 569.51,746.7 569.82,879.3 569.87,879.3 570.18,834.3 570.49,818.7 570.80,834.3 571.11,879.3 571.19,879.3 571.50,795.4 571.81,766.2 572.04,795.4 572.27,879.3 572.50,829.2 572.73,811.8 573.00,829.2 573.28,879.3 573.55,795.4 573.83,766.2 574.12,795.4 574.42,879.3 574.72,854.2 575.02,845.7 575.32,854.2 575.63,879.3 575.93,842.8 576.24,830.2 576.55,842.8 576.86,879.3 577.23,879.3 577.54,851.7 577.85,842.3 578.16,851.7 578.47,879.3 578.64,879.3 578.95,838.0 579.26,823.8 579.49,838.0 579.72,879.3 579.96,848.4 580.19,837.8 580.46,848.4 580.73,879.3 581.00,838.3 581.27,824.2 581.56,838.3 581.84,879.3 582.13,854.4 582.41,845.9 582.68,854.4 582.95,879.3 583.22,832.8 583.49,816.7 583.73,832.8 583.97,879.3 584.22,845.8 584.46,834.3 584.72,845.8 584.98,879.3 585.24,830.6 585.50,813.7 585.77,830.6 586.05,879.3 586.33,848.3 586.60,837.7 586.91,848.3 587.22,879.3 587.29,879.3 587.60,796.3 587.91,767.4 588.21,796.3 588.51,879.3 588.82,826.8 589.12,808.6 589.43,826.8 589.74,879.3 589.91,879.3 590.22,786.7 590.53,754.3 590.80,786.7 591.08,879.3 591.35,817.2 591.62,795.7 591.93,817.2 592.24,879.3 592.32,879.3 592.63,761.6 592.94,720.5 593.25,761.6 593.56,879.3 593.66,879.3 593.97,816.5 594.28,794.7 594.59,816.5 594.90,879.3 594.94,879.3 595.25,747.5 595.56,701.4 595.87,747.5 596.17,879.3 596.48,817.0 596.78,795.3 597.08,817.0 597.38,879.3 597.68,789.2 597.98,757.8 598.28,789.2 598.59,879.3 598.90,826.7 599.20,808.4 599.50,826.7 599.80,879.3 600.09,810.3 600.39,786.3 600.67,810.3 600.96,879.3 601.24,830.2 601.52,813.2 601.79,830.2 602.06,879.3 602.33,768.0 602.60,729.2 602.91,768.0 603.22,879.3 603.28,879.3 603.59,827.8 603.90,810.0 604.18,827.8 604.46,879.3 604.74,739.7 605.02,690.9 605.33,739.7 605.64,879.3 605.71,879.3 606.02,822.9 606.33,803.3 606.60,822.9 606.88,879.3 607.16,767.6 607.43,728.6 607.74,767.6 608.04,879.3 608.34,846.1 608.64,834.6 608.95,846.1 609.26,879.3 609.43,879.3 609.74,836.1 610.05,821.1 610.36,836.1 610.67,879.3 611.04,879.3 611.35,877.0 611.66,876.5 611.93,877.0 612.20,879.3 612.47,869.3 612.74,866.0 612.97,869.3 613.20,879.3 613.44,819.4 613.67,798.6 613.91,819.4 614.15,879.3 614.39,835.2 614.63,819.9 614.90,835.2 615.16,879.3 615.42,807.1 615.68,781.9 615.99,807.1 616.30,879.3 616.32,879.3 616.63,823.4 616.94,803.9 617.23,823.4 617.52,879.3 617.81,801.5 618.10,774.5 618.40,801.5 618.70,879.3 619.01,823.2 619.31,803.7 619.62,823.2 619.93,879.3 620.10,879.3 620.41,776.2 620.72,740.2 621.01,776.2 621.30,879.3 621.59,804.6 621.88,778.6 622.19,804.6 622.50,879.3 622.51,879.3 622.82,776.2 623.13,740.2 623.44,776.2 623.75,879.3 624.06,821.4 624.36,801.3 624.66,821.4 624.96,879.3 625.25,782.8 625.55,749.1 625.86,782.8 626.17,879.3 626.47,879.3 626.78,830.9 627.09,814.1 627.40,830.9 627.71,879.3 627.95,879.3 628.26,750.8 628.57,705.8 628.81,750.8 629.06,879.3 629.31,788.4 629.56,756.7 629.82,788.4 630.07,879.3 630.32,764.3 630.58,724.1 630.89,764.3 631.20,879.3 631.50,879.3 631.81,840.5 632.12,827.1 632.43,840.5 632.74,879.3 632.98,879.3 633.29,816.3 633.60,794.4 633.91,816.3 634.22,879.3 634.59,879.3 634.90,863.6 635.21,858.4 635.51,863.6 635.82,879.3 636.12,864.7 636.43,859.8 636.74,864.7 637.05,879.3 637.20,879.3 637.51,839.4 637.82,825.6 638.13,839.4 638.43,879.3 638.74,854.7 639.04,846.3 639.34,854.7 639.64,879.3 639.94,785.5 640.24,752.7 640.50,785.5 640.77,879.3 641.04,836.3 641.30,821.4 641.54,836.3 641.78,879.3 642.01,780.7 642.25,746.3 642.56,780.7 642.87,879.3 643.17,879.3 643.48,804.4 643.79,778.3 644.10,804.4 644.41,879.3 644.65,879.3 644.96,769.8 645.27,731.6 645.58,769.8 645.89,879.3 645.97,879.3 646.28,802.1 646.59,775.2 646.86,802.1 647.14,879.3 647.41,766.4 647.68,727.0 647.99,766.4 648.30,879.3 648.36,879.3 648.67,793.2 648.98,763.2 649.29,793.2 649.60,879.3 649.68,879.3 649.99,768.6 650.30,730.0 650.58,768.6 650.87,879.3 651.15,822.8 651.43,803.1 651.74,822.8 652.05,879.3 652.10,879.3 652.40,791.7 652.72,761.2 652.95,791.7 653.19,879.3 653.42,853.8 653.66,845.1 653.93,853.8 654.19,879.3 654.46,826.1 654.73,807.7 654.98,826.1 655.23,879.3 655.49,840.4 655.74,827.0 655.99,840.4 656.24,879.3 656.49,781.4 656.74,747.3 657.05,781.4 657.36,879.3 657.55,879.3 657.86,809.7 658.17,785.5 658.48,809.7 658.79,879.3 659.14,879.3 659.45,784.3 659.76,751.1 659.99,784.3 660.23,879.3 660.46,834.7 660.69,819.3 660.96,834.7 661.23,879.3 661.50,737.1 661.77,687.3 662.06,737.1 662.35,879.3 662.63,805.3 662.92,779.5 663.19,805.3 663.45,879.3 663.72,773.1 663.99,736.0 664.30,773.1 664.61,879.3 664.73,879.3 665.04,834.7 665.35,819.2 665.66,834.7 665.97,879.3 666.18,879.3 666.49,813.3 666.80,790.4 667.11,813.3 667.42,879.3 667.71,879.3 668.02,846.8 668.33,835.6 668.64,846.8 668.95,879.3 669.00,879.3 669.31,775.0 669.62,738.6 669.91,775.0 670.19,879.3 670.48,852.9 670.77,843.8 671.08,852.9 671.39,879.3 671.42,879.3 671.73,835.4 672.04,820.1 672.31,835.4 672.59,879.3 672.86,852.5 673.14,843.3 673.45,852.5 673.76,879.3 673.83,879.3 674.14,805.9 674.45,780.3 674.69,805.9 674.92,879.3 675.16,843.1 675.40,830.6 675.66,843.1 675.93,879.3 676.20,811.8 676.46,788.3 676.74,811.8 677.02,879.3 677.30,851.1 677.58,841.4 677.89,851.1 678.20,879.3 678.26,879.3 678.57,819.0 678.88,798.0 679.19,819.0 679.50,879.3 679.87,879.3 680.18,865.1 680.49,860.4 680.80,865.1 681.11,879.3 681.28,879.3 681.59,789.6 681.90,758.4 682.21,789.6 682.52,879.3 682.55,879.3 682.86,849.2 683.17,838.9 683.48,849.2 683.79,879.3 683.89,879.3 684.20,814.1 684.51,791.4 684.82,814.1 685.13,879.3 685.19,879.3 685.50,831.9 685.81,815.4 686.09,831.9 686.37,879.3 686.65,785.8 686.93,753.1 687.24,785.8 687.55,879.3 687.61,879.3 687.92,821.3 688.23,801.2 688.54,821.3 688.85,879.3 688.92,879.3 689.23,789.2 689.54,757.8 689.79,789.2 690.04,879.3 690.29,853.3 690.54,844.4 690.80,853.3 691.05,879.3 691.30,843.5 691.56,831.2 691.87,843.5 692.18,879.3 692.55,879.3 692.86,803.6 693.17,777.3 693.48,803.6 693.79,879.3 693.86,879.3 694.17,848.1 694.48,837.4 694.76,848.1 695.03,879.3 695.31,824.2 695.58,805.0 695.89,824.2 696.20,879.3 696.25,879.3 696.56,847.2 696.87,836.1 697.15,847.2 697.43,879.3 697.71,773.5 698.00,736.6 698.28,773.5 698.56,879.3 698.84,809.6 699.12,785.4 699.43,809.6 699.74,879.3 699.79,879.3 700.10,790.2 700.41,759.2 700.71,790.2 701.01,879.3 701.32,842.5 701.62,829.8 701.93,842.5 702.24,879.3 702.41,879.3 702.72,821.5 703.03,801.4 703.28,821.5 703.52,879.3 703.77,854.0 704.02,845.3 704.28,854.0 704.53,879.3 704.79,842.8 705.04,830.2 705.35,842.8 705.66,879.3 706.03,879.3 706.34,854.7 706.65,846.3 706.91,854.7 707.17,879.3 707.43,856.4 707.69,848.6 707.93,856.4 708.17,879.3 708.42,813.3 708.66,790.4 708.97,813.3 709.28,879.3 709.37,879.3 709.68,841.6 709.99,828.6 710.26,841.6 710.53,879.3 710.80,785.5 711.08,752.7 711.39,785.5 711.70,879.3 711.87,879.3 712.18,835.5 712.49,820.4 712.79,835.5 713.09,879.3 713.39,817.8 713.69,796.4 714.00,817.8 714.31,879.3 714.48,879.3 714.79,762.7 715.10,721.9 715.41,762.7 715.72,879.3 715.89,879.3 716.20,807.4 716.51,782.3 716.82,807.4 717.13,879.3 717.50,879.3 717.81,781.0 718.12,746.7 718.43,781.0 718.74,879.3 718.79,879.3 719.10,811.0 719.41,787.3 719.72,811.0 720.03,879.3 720.12,879.3 720.43,762.1 720.74,721.1 721.05,762.1 721.36,879.3 721.45,879.3 721.76,835.3 722.07,820.1 722.38,835.3 722.69,879.3 722.73,879.3 723.04,809.3 723.35,784.9 723.59,809.3 723.82,879.3 724.05,852.8 724.29,843.8 724.56,852.8 724.83,879.3 725.10,845.0 725.37,833.2 725.66,845.0 725.96,879.3 726.25,854.1 726.55,845.5 726.86,854.1 727.16,879.3 727.47,799.6 727.78,771.8 728.09,799.6 728.40,879.3 728.46,879.3 728.77,852.3 729.08,843.1 729.36,852.3 729.64,879.3 729.92,839.8 730.20,826.2 730.51,839.8 730.82,879.3 730.84,879.3 731.15,847.6 731.46,836.7 731.75,847.6 732.03,879.3 732.32,830.9 732.61,814.1 732.90,830.9 733.20,879.3 733.49,843.0 733.79,830.5 734.05,843.0 734.31,879.3 734.57,803.0 734.83,776.5 735.06,803.0 735.29,879.3 735.52,836.2 735.75,821.3 736.02,836.2 736.30,879.3 736.57,823.4 736.84,804.0 737.12,823.4 737.41,879.3 737.69,846.1 737.97,834.6 738.28,846.1 738.59,879.3 738.63,879.3 738.94,803.6 739.25,777.3 739.56,803.6 739.87,879.3 739.98,879.3 740.29,826.1 740.60,807.7 740.91,826.1 741.22,879.3 741.45,879.3 741.76,793.4 742.07,763.4 742.38,793.4 742.68,879.3 742.99,842.3 743.29,829.5 743.54,842.3 743.79,879.3 744.04,814.2 744.28,791.6 744.59,814.2 744.90,879.3 745.27,879.3 745.58,863.6 745.89,858.4 746.11,863.6 746.32,879.3 746.54,864.7 746.75,859.8 746.99,864.7 747.23,879.3 747.47,793.4 747.71,763.4 748.02,793.4 748.33,879.3 748.36,879.3 748.67,845.1 748.98,833.3 749.29,845.1 749.60,879.3 749.70,879.3 750.01,829.4 750.32,812.1 750.61,829.4 750.89,879.3 751.18,842.8 751.46,830.2 751.73,842.8 752.00,879.3 752.27,801.8 752.54,774.9 752.82,801.8 753.10,879.3 753.39,829.6 753.67,812.3 753.98,829.6 754.29,879.3 754.33,879.3 754.64,803.6 754.95,777.3 755.26,803.6 755.57,879.3 755.71,879.3 756.02,838.8 756.33,824.8 756.64,838.8 756.95,879.3 757.26,821.9 757.57,802.0 757.87,821.9 758.17,879.3 758.47,848.2 758.77,837.5 759.06,848.2 759.35,879.3 759.64,850.2 759.93,840.2 760.19,850.2 760.46,879.3 760.72,797.4 760.99,768.8 761.27,797.4 761.56,879.3 761.84,840.9 762.12,827.6 762.43,840.9 762.74,879.3"/>
<polyline class="s" clip-path="url(#c2)" points="118.94,878.1 119.25,943.4 119.56,966.2 119.87,943.4 120.18,878.1 120.39,878.1 120.70,995.1 121.01,1036.0 121.32,995.1 121.63,878.1 121.90,878.1 122.21,947.7 122.52,971.9 122.83,947.7 123.14,878.1 123.41,878.1 123.72,1012.2 124.03,1059.1 124.34,1012.2 124.65,878.1 124.66,878.1 124.97,935.0 125.28,954.7 125.58,935.0 125.87,878.1 126.16,989.9 126.45,1028.9 126.75,989.9 127.05,878.1 127.36,923.6 127.66,939.4 127.91,923.6 128.16,878.1 128.41,957.1 128.66,984.7 128.90,957.1 129.15,878.1 129.39,901.0 129.63,908.8 129.89,901.0 130.15,878.1 130.41,918.4 130.67,932.3 130.87,918.4 131.08,878.1 131.28,901.9 131.48,910.1 131.73,901.9 131.98,878.1 132.23,944.4 132.48,967.6 132.79,944.4 133.10,878.1 133.47,878.1 133.78,980.9 134.09,1016.9 134.32,980.9 134.54,878.1 134.76,944.9 134.98,968.2 135.26,944.9 135.54,878.1 135.82,983.2 136.11,1019.9 136.34,983.2 136.58,878.1 136.81,944.3 137.05,967.4 137.31,944.3 137.58,878.1 137.85,970.5 138.12,1002.8 138.43,970.5 138.73,878.1 139.04,945.1 139.35,968.4 139.65,945.1 139.94,878.1 140.24,995.1 140.53,1036.0 140.84,995.1 141.15,878.1 141.32,878.1 141.63,908.7 141.94,919.2 142.24,908.7 142.55,878.1 142.85,922.1 143.15,937.4 143.46,922.1 143.77,878.1 143.80,878.1 144.11,906.4 144.42,916.1 144.73,906.4 145.04,878.1 145.15,878.1 145.46,960.1 145.77,988.7 146.06,960.1 146.35,878.1 146.65,932.1 146.94,950.9 147.25,932.1 147.56,878.1 147.56,878.1 147.87,991.1 148.18,1030.5 148.44,991.1 148.70,878.1 148.96,963.4 149.22,993.2 149.46,963.4 149.71,878.1 149.95,1011.8 150.19,1058.5 150.45,1011.8 150.71,878.1 150.96,921.0 151.22,935.9 151.47,921.0 151.71,878.1 151.96,966.8 152.21,997.7 152.51,966.8 152.81,878.1 153.11,935.7 153.42,955.7 153.73,935.7 154.04,878.1 154.20,878.1 154.51,1022.6 154.82,1073.2 155.12,1022.6 155.43,878.1 155.73,936.1 156.03,956.2 156.33,936.1 156.63,878.1 156.94,960.8 157.24,989.7 157.55,960.8 157.86,878.1 157.86,878.1 158.17,920.6 158.48,935.3 158.79,920.6 159.10,878.1 159.23,878.1 159.54,1012.2 159.85,1059.1 160.08,1012.2 160.31,878.1 160.54,930.9 160.77,949.3 161.04,930.9 161.32,878.1 161.59,957.8 161.87,985.7 162.16,957.8 162.45,878.1 162.74,922.0 163.03,937.2 163.34,922.0 163.65,878.1 163.66,878.1 163.97,965.6 164.28,996.1 164.59,965.6 164.90,878.1 164.94,878.1 165.25,940.4 165.56,962.0 165.85,940.4 166.13,878.1 166.41,976.9 166.70,1011.4 166.99,976.9 167.28,878.1 167.58,943.9 167.87,966.8 168.13,943.9 168.39,878.1 168.65,964.5 168.91,994.7 169.21,964.5 169.52,878.1 169.82,938.9 170.12,960.1 170.42,938.9 170.72,878.1 171.02,969.3 171.32,1001.2 171.63,969.3 171.93,878.1 172.24,926.7 172.54,943.6 172.84,926.7 173.14,878.1 173.44,976.8 173.74,1011.2 174.05,976.8 174.36,878.1 174.53,878.1 174.84,930.6 175.15,948.8 175.45,930.6 175.75,878.1 176.05,957.8 176.36,985.7 176.66,957.8 176.97,878.1 177.28,920.5 177.59,935.2 177.89,920.5 178.18,878.1 178.48,952.6 178.77,978.6 179.05,952.6 179.34,878.1 179.62,922.1 179.91,937.4 180.18,922.1 180.45,878.1 180.72,945.2 180.99,968.6 181.26,945.2 181.54,878.1 181.82,917.2 182.10,930.8 182.41,917.2 182.72,878.1 182.78,878.1 183.09,929.5 183.40,947.4 183.71,929.5 184.02,878.1 184.30,878.1 184.61,915.0 184.92,927.7 185.23,915.0 185.54,878.1 185.80,878.1 186.11,951.1 186.42,976.6 186.73,951.1 187.04,878.1 187.38,878.1 187.69,909.6 188.00,920.5 188.31,909.6 188.62,878.1 188.82,878.1 189.13,940.7 189.44,962.5 189.71,940.7 189.99,878.1 190.27,913.0 190.55,925.1 190.86,913.0 191.17,878.1 191.21,878.1 191.52,907.3 191.83,917.4 192.08,907.3 192.34,878.1 192.60,954.4 192.86,981.0 193.16,954.4 193.47,878.1 193.77,931.8 194.08,950.5 194.39,931.8 194.70,878.1 194.86,878.1 195.17,977.5 195.48,1012.2 195.78,977.5 196.08,878.1 196.39,920.0 196.69,934.5 197.00,920.0 197.31,878.1 197.47,878.1 197.78,970.1 198.09,1002.2 198.39,970.1 198.69,878.1 198.99,930.3 199.29,948.4 199.59,930.3 199.90,878.1 200.20,969.0 200.51,1000.8 200.80,969.0 201.10,878.1 201.40,924.1 201.70,940.1 202.01,924.1 202.31,878.1 202.62,1003.7 202.92,1047.7 203.23,1003.7 203.54,878.1 203.61,878.1 203.92,929.4 204.23,947.2 204.54,929.4 204.85,878.1 204.92,878.1 205.23,986.6 205.54,1024.5 205.85,986.6 206.16,878.1 206.16,878.1 206.47,927.7 206.78,944.9 207.09,927.7 207.40,878.1 207.53,878.1 207.84,963.8 208.15,993.7 208.44,963.8 208.74,878.1 209.03,934.8 209.32,954.5 209.63,934.8 209.94,878.1 209.95,878.1 210.26,960.1 210.57,988.7 210.88,960.1 211.19,878.1 211.19,878.1 211.50,929.9 211.81,947.9 212.11,929.9 212.40,878.1 212.69,970.5 212.98,1002.8 213.25,970.5 213.51,878.1 213.78,944.7 214.04,967.9 214.33,944.7 214.62,878.1 214.91,967.5 215.20,998.8 215.47,967.5 215.75,878.1 216.02,920.0 216.30,934.6 216.61,920.0 216.92,878.1 216.99,878.1 217.30,990.2 217.61,1029.3 217.85,990.2 218.08,878.1 218.32,954.9 218.56,981.6 218.82,954.9 219.09,878.1 219.36,990.2 219.62,1029.3 219.92,990.2 220.22,878.1 220.51,954.5 220.81,981.1 221.12,954.5 221.42,878.1 221.73,975.7 222.04,1009.8 222.33,975.7 222.62,878.1 222.91,935.3 223.21,955.1 223.47,935.3 223.73,878.1 223.99,970.5 224.25,1002.8 224.54,970.5 224.83,878.1 225.13,945.7 225.42,969.3 225.73,945.7 226.04,878.1 226.05,878.1 226.36,967.2 226.67,998.3 226.98,967.2 227.29,878.1 227.48,878.1 227.79,918.4 228.10,932.3 228.39,918.4 228.69,878.1 228.99,965.3 229.29,995.7 229.54,965.3 229.79,878.1 230.04,899.4 230.29,906.7 230.54,899.4 230.79,878.1 231.05,910.2 231.30,921.3 231.53,910.2 231.77,878.1 232.01,900.3 232.25,908.0 232.46,900.3 232.68,878.1 232.89,950.8 233.11,976.2 233.35,950.8 233.59,878.1 233.83,931.4 234.06,950.0 234.33,931.4 234.59,878.1 234.86,953.4 235.12,979.6 235.37,953.4 235.62,878.1 235.87,929.9 236.12,947.9 236.37,929.9 236.63,878.1 236.88,949.7 237.13,974.6 237.43,949.7 237.72,878.1 238.02,921.5 238.31,936.5 238.57,921.5 238.83,878.1 239.09,937.0 239.35,957.5 239.65,937.0 239.96,878.1 240.27,915.7 240.57,928.7 240.87,915.7 241.17,878.1 241.46,928.8 241.76,946.4 242.04,928.8 242.33,878.1 242.61,906.3 242.89,916.0 243.20,906.3 243.51,878.1 243.56,878.1 243.87,931.0 244.18,949.4 244.48,931.0 244.79,878.1 245.09,919.7 245.40,934.2 245.65,919.7 245.89,878.1 246.14,959.8 246.39,988.3 246.70,959.8 247.01,878.1 247.16,878.1 247.47,908.6 247.78,919.2 248.09,908.6 248.40,878.1 248.59,878.1 248.90,944.4 249.21,967.6 249.46,944.4 249.70,878.1 249.95,919.4 250.20,933.8 250.50,919.4 250.81,878.1 251.12,972.0 251.42,1004.8 251.72,972.0 252.01,878.1 252.31,943.1 252.60,965.7 252.91,943.1 253.22,878.1 253.53,1019.2 253.84,1068.6 254.12,1019.2 254.40,878.1 254.68,943.1 254.96,965.7 255.27,943.1 255.58,878.1 255.63,878.1 255.94,987.6 256.25,1025.9 256.54,987.6 256.83,878.1 257.12,945.6 257.41,969.1 257.67,945.6 257.94,878.1 258.20,997.6 258.47,1039.4 258.78,997.6 259.09,878.1 259.17,878.1 259.48,955.2 259.79,982.2 260.06,955.2 260.34,878.1 260.61,1002.5 260.88,1046.0 261.19,1002.5 261.50,878.1 261.56,878.1 261.87,921.7 262.18,936.9 262.46,921.7 262.74,878.1 263.02,941.5 263.30,963.5 263.56,941.5 263.81,878.1 264.07,903.8 264.33,912.7 264.58,903.8 264.82,878.1 265.06,917.6 265.31,931.3 265.55,917.6 265.80,878.1 266.04,908.9 266.29,919.5 266.55,908.9 266.80,878.1 267.06,917.6 267.32,931.3 267.60,917.6 267.88,878.1 268.17,904.8 268.45,914.1 268.72,904.8 268.99,878.1 269.26,937.0 269.54,957.5 269.85,937.0 270.16,878.1 270.24,878.1 270.55,924.2 270.86,940.2 271.13,924.2 271.41,878.1 271.68,954.9 271.95,981.6 272.26,954.9 272.57,878.1 272.71,878.1 273.02,934.3 273.33,953.9 273.64,934.3 273.95,878.1 274.26,970.5 274.57,1002.8 274.82,970.5 275.08,878.1 275.33,934.8 275.58,954.6 275.83,934.8 276.08,878.1 276.33,949.7 276.58,974.6 276.89,949.7 277.20,878.1 277.32,878.1 277.63,911.5 277.94,923.0 278.25,911.5 278.56,878.1 278.78,878.1 279.09,928.1 279.40,945.4 279.69,928.1 279.98,878.1 280.27,908.4 280.57,918.8 280.83,908.4 281.09,878.1 281.35,928.8 281.61,946.4 281.88,928.8 282.16,878.1 282.43,908.3 282.70,918.8 282.93,908.3 283.16,878.1 283.39,931.0 283.62,949.4 283.88,931.0 284.13,878.1 284.38,892.1 284.63,896.8 284.88,892.1 285.13,878.1 285.38,893.1 285.63,898.1 285.87,893.1 286.11,878.1 286.34,892.1 286.58,896.8 286.84,892.1 287.11,878.1 287.38,952.2 287.65,978.0 287.96,952.2 288.27,878.1 288.32,878.1 288.63,920.0 288.94,934.5 289.22,920.0 289.50,878.1 289.78,937.0 290.06,957.5 290.31,937.0 290.56,878.1 290.81,916.5 291.06,929.8 291.32,916.5 291.57,878.1 291.82,928.8 292.08,946.4 292.39,928.8 292.70,878.1 292.82,878.1 293.13,913.5 293.44,925.8 293.75,913.5 294.06,878.1 294.07,878.1 294.38,951.4 294.69,977.0 295.00,951.4 295.31,878.1 295.48,878.1 295.79,921.2 296.10,936.2 296.40,921.2 296.70,878.1 297.01,987.3 297.31,1025.5 297.59,987.3 297.87,878.1 298.15,918.1 298.43,932.0 298.74,918.1 299.05,878.1 299.10,878.1 299.41,931.8 299.72,950.5 300.00,931.8 300.28,878.1 300.55,918.7 300.83,932.8 301.14,918.7 301.45,878.1 301.52,878.1 301.83,937.0 302.14,957.5 302.41,937.0 302.68,878.1 302.95,913.0 303.22,925.0 303.46,913.0 303.69,878.1 303.92,977.7 304.15,1012.4 304.44,977.7 304.73,878.1 305.02,939.8 305.31,961.2 305.62,939.8 305.93,878.1 305.95,878.1 306.26,977.7 306.57,1012.4 306.87,977.7 307.18,878.1 307.48,924.2 307.79,940.2 308.10,924.2 308.41,878.1 308.56,878.1 308.87,945.2 309.18,968.6 309.48,945.2 309.78,878.1 310.08,919.3 310.38,933.5 310.68,919.3 310.99,878.1 311.29,993.1 311.60,1033.4 311.89,993.1 312.19,878.1 312.49,949.7 312.79,974.6 313.10,949.7 313.41,878.1 313.59,878.1 313.90,972.0 314.21,1004.8 314.50,972.0 314.79,878.1 315.08,949.5 315.37,974.4 315.68,949.5 315.99,878.1 316.01,878.1 316.32,990.6 316.63,1029.9 316.92,990.6 317.22,878.1 317.52,944.7 317.81,967.9 318.07,944.7 318.33,878.1 318.58,982.0 318.84,1018.3 319.13,982.0 319.42,878.1 319.71,923.5 319.99,939.3 320.30,923.5 320.61,878.1 320.64,878.1 320.95,970.1 321.26,1002.2 321.55,970.1 321.85,878.1 322.15,929.0 322.45,946.7 322.75,929.0 323.06,878.1 323.37,950.4 323.67,975.6 323.98,950.4 324.29,878.1 324.41,878.1 324.72,911.9 325.03,923.6 325.34,911.9 325.65,878.1 325.67,878.1 325.98,931.8 326.29,950.5 326.59,931.8 326.88,878.1 327.18,909.8 327.48,920.7 327.79,909.8 328.10,878.1 328.28,878.1 328.59,933.0 328.90,952.1 329.21,933.0 329.52,878.1 329.82,878.1 330.13,907.9 330.44,918.2 330.75,907.9 331.06,878.1 331.30,878.1 331.61,941.5 331.92,963.5 332.22,941.5 332.53,878.1 332.83,906.9 333.13,916.8 333.43,906.9 333.73,878.1 334.04,937.7 334.34,958.5 334.65,937.7 334.96,878.1 335.30,878.1 335.61,911.0 335.92,922.4 336.23,911.0 336.54,878.1 336.74,878.1 337.05,940.0 337.36,961.5 337.64,940.0 337.92,878.1 338.21,907.4 338.49,917.5 338.80,907.4 339.11,878.1 339.15,878.1 339.46,929.5 339.77,947.4 340.07,929.5 340.37,878.1 340.66,904.4 340.96,913.5 341.22,904.4 341.47,878.1 341.73,935.2 341.99,955.1 342.28,935.2 342.58,878.1 342.88,903.1 343.18,911.7 343.48,903.1 343.79,878.1 344.09,930.3 344.40,948.4 344.63,930.3 344.85,878.1 345.08,901.1 345.31,909.0 345.58,901.1 345.86,878.1 346.14,922.8 346.41,938.4 346.72,922.8 347.03,878.1 347.15,878.1 347.46,899.9 347.77,907.4 348.08,899.9 348.39,878.1 348.41,878.1 348.72,976.5 349.03,1010.8 349.31,976.5 349.60,878.1 349.88,944.9 350.17,968.2 350.48,944.9 350.79,878.1 350.82,878.1 351.13,998.4 351.44,1040.4 351.68,998.4 351.92,878.1 352.15,961.3 352.39,990.3 352.66,961.3 352.92,878.1 353.19,989.1 353.46,1027.9 353.75,989.1 354.04,878.1 354.33,918.1 354.62,932.0 354.93,918.1 355.24,878.1 355.25,878.1 355.56,950.4 355.87,975.6 356.10,950.4 356.33,878.1 356.56,899.8 356.78,907.2 357.06,899.8 357.33,878.1 357.61,923.6 357.88,939.4 358.16,923.6 358.43,878.1 358.70,900.7 358.98,908.5 359.21,900.7 359.44,878.1 359.67,911.7 359.90,923.3 360.16,911.7 360.42,878.1 360.68,898.7 360.94,905.8 361.18,898.7 361.43,878.1 361.67,934.0 361.91,953.5 362.16,934.0 362.42,878.1 362.68,919.8 362.93,934.3 363.23,919.8 363.53,878.1 363.83,934.5 364.12,954.1 364.43,934.5 364.74,878.1 364.78,878.1 365.09,921.4 365.40,936.4 365.71,921.4 366.02,878.1 366.12,878.1 366.43,958.9 366.74,987.1 367.05,958.9 367.36,878.1 367.56,878.1 367.87,921.2 368.18,936.2 368.49,921.2 368.80,878.1 368.94,878.1 369.25,943.0 369.56,965.5 369.84,943.0 370.11,878.1 370.39,903.1 370.67,911.7 370.90,903.1 371.12,878.1 371.34,913.9 371.57,926.3 371.87,913.9 372.17,878.1 372.47,902.0 372.77,910.2 373.07,902.0 373.38,878.1 373.68,961.9 373.98,991.1 374.29,961.9 374.60,878.1 374.69,878.1 375.00,915.7 375.31,928.8 375.62,915.7 375.93,878.1 375.98,878.1 376.29,949.7 376.60,974.6 376.91,949.7 377.21,878.1 377.52,927.7 377.83,944.9 378.12,927.7 378.42,878.1 378.72,947.0 379.02,971.0 379.33,947.0 379.64,878.1 379.88,878.1 380.19,928.5 380.50,946.0 380.81,928.5 381.12,878.1 381.41,878.1 381.72,942.5 382.03,964.9 382.28,942.5 382.53,878.1 382.78,909.7 383.03,920.6 383.34,909.7 383.64,878.1 383.94,923.6 384.25,939.4 384.47,923.6 384.70,878.1 384.92,905.4 385.15,914.8 385.43,905.4 385.71,878.1 385.98,915.1 386.26,927.9 386.53,915.1 386.80,878.1 387.08,898.9 387.35,906.0 387.66,898.9 387.97,878.1 388.06,878.1 388.37,948.5 388.68,973.0 388.93,948.5 389.18,878.1 389.43,910.5 389.68,921.7 389.93,910.5 390.18,878.1 390.43,934.0 390.69,953.5 390.96,934.0 391.23,878.1 391.50,897.6 391.76,904.2 392.00,897.6 392.23,878.1 392.47,899.0 392.70,906.2 392.96,899.0 393.21,878.1 393.47,897.6 393.72,904.2 393.97,897.6 394.22,878.1 394.46,936.0 394.71,956.1 394.96,936.0 395.22,878.1 395.47,922.3 395.72,937.7 395.97,922.3 396.22,878.1 396.47,934.0 396.73,953.5 397.04,934.0 397.35,878.1 397.38,878.1 397.69,915.5 398.00,928.5 398.31,915.5 398.62,878.1 398.72,878.1 399.03,980.6 399.34,1016.5 399.65,980.6 399.96,878.1 400.03,878.1 400.34,917.3 400.65,930.9 400.93,917.3 401.20,878.1 401.48,960.1 401.76,988.7 402.04,960.1 402.32,878.1 402.59,921.3 402.87,936.3 403.10,921.3 403.32,878.1 403.55,992.1 403.77,1032.0 404.07,992.1 404.36,878.1 404.66,967.3 404.96,998.5 405.26,967.3 405.57,878.1 405.88,1021.1 406.18,1071.2 406.48,1021.1 406.77,878.1 407.07,954.3 407.36,980.9 407.62,954.3 407.88,878.1 408.14,975.3 408.40,1009.2 408.62,975.3 408.85,878.1 409.07,907.1 409.30,917.1 409.58,907.1 409.85,878.1 410.13,925.1 410.41,941.4 410.70,925.1 411.00,878.1 411.29,915.1 411.58,928.0 411.89,915.1 412.20,878.1 412.21,878.1 412.52,940.4 412.83,962.1 413.13,940.4 413.43,878.1 413.73,904.8 414.03,914.0 414.33,904.8 414.64,878.1 414.94,913.9 415.24,926.3 415.55,913.9 415.86,878.1 416.17,878.1 416.48,905.2 416.79,914.5 417.10,905.2 417.41,878.1 417.84,878.1 418.15,970.1 418.46,1002.2 418.77,970.1 419.07,878.1 419.38,909.2 419.69,920.0 419.98,909.2 420.28,878.1 420.58,922.1 420.88,937.4 421.12,922.1 421.36,878.1 421.61,903.4 421.85,912.1 422.11,903.4 422.37,878.1 422.63,909.4 422.89,920.3 423.09,909.4 423.28,878.1 423.48,905.3 423.68,914.7 423.93,905.3 424.19,878.1 424.44,983.2 424.70,1019.9 424.99,983.2 425.27,878.1 425.56,928.2 425.85,945.6 426.11,928.2 426.38,878.1 426.65,969.3 426.91,1001.2 427.22,969.3 427.53,878.1 427.57,878.1 427.88,946.9 428.19,970.8 428.50,946.9 428.81,878.1 428.91,878.1 429.22,976.0 429.53,1010.2 429.84,976.0 430.15,878.1 430.20,878.1 430.51,943.0 430.82,965.6 431.10,943.0 431.38,878.1 431.66,1015.9 431.94,1064.2 432.25,1015.9 432.56,878.1 432.61,878.1 432.92,945.6 433.23,969.1 433.52,945.6 433.80,878.1 434.08,980.6 434.36,1016.5 434.59,980.6 434.82,878.1 435.05,909.8 435.28,920.8 435.56,909.8 435.83,878.1 436.10,947.4 436.37,971.6 436.68,947.4 436.99,878.1 437.15,878.1 437.46,923.5 437.77,939.2 438.08,923.5 438.38,878.1 438.68,994.6 438.99,1035.4 439.30,994.6 439.61,878.1 439.74,878.1 440.05,924.4 440.36,940.5 440.67,924.4 440.98,878.1 440.98,878.1 441.29,957.1 441.60,984.7 441.86,957.1 442.11,878.1 442.36,922.7 442.62,938.2 442.87,922.7 443.12,878.1 443.37,1028.1 443.62,1080.7 443.93,1028.1 444.24,878.1 444.29,878.1 444.60,931.1 444.91,949.5 445.19,931.1 445.47,878.1 445.75,973.5 446.03,1006.8 446.34,973.5 446.65,878.1 446.95,925.1 447.26,941.4 447.57,925.1 447.88,878.1 448.03,878.1 448.34,979.4 448.65,1014.9 448.96,979.4 449.27,878.1 449.30,878.1 449.61,945.1 449.92,968.4 450.21,945.1 450.49,878.1 450.78,961.9 451.06,991.1 451.35,961.9 451.64,878.1 451.93,920.4 452.22,935.1 452.53,920.4 452.84,878.1 452.86,878.1 453.17,945.9 453.48,969.6 453.78,945.9 454.09,878.1 454.39,916.3 454.69,929.5 455.00,916.3 455.31,878.1 455.47,878.1 455.78,972.0 456.09,1004.8 456.38,972.0 456.66,878.1 456.95,950.3 457.23,975.5 457.54,950.3 457.85,878.1 457.89,878.1 458.20,988.1 458.51,1026.5 458.77,988.1 459.03,878.1 459.29,921.0 459.55,935.9 459.79,921.0 460.03,878.1 460.28,936.2 460.52,956.5 460.77,936.2 461.02,878.1 461.27,915.3 461.52,928.2 461.82,915.3 462.13,878.1 462.43,975.0 462.74,1008.8 463.01,975.0 463.28,878.1 463.56,913.6 463.83,925.9 464.14,913.6 464.45,878.1 464.53,878.1 464.84,930.6 465.15,948.8 465.45,930.6 465.76,878.1 466.06,908.9 466.36,919.5 466.67,908.9 466.98,878.1 467.15,878.1 467.46,990.6 467.77,1029.9 468.08,990.6 468.39,878.1 468.50,878.1 468.81,940.5 469.12,962.2 469.43,940.5 469.74,878.1 469.96,878.1 470.27,1006.2 470.58,1051.1 470.86,1006.2 471.14,878.1 471.42,927.9 471.70,945.2 471.97,927.9 472.25,878.1 472.52,982.4 472.80,1018.9 473.11,982.4 473.42,878.1 473.70,878.1 474.01,927.2 474.32,944.3 474.63,927.2 474.94,878.1 475.00,878.1 475.31,1029.6 475.62,1082.7 475.88,1029.6 476.14,878.1 476.40,973.8 476.66,1007.2 476.96,973.8 477.25,878.1 477.54,1010.7 477.83,1057.1 478.14,1010.7 478.45,878.1 478.46,878.1 478.77,942.9 479.08,965.4 479.37,942.9 479.66,878.1 479.95,1017.4 480.24,1066.2 480.53,1017.4 480.83,878.1 481.12,944.5 481.41,967.6 481.72,944.5 482.03,878.1 482.04,878.1 482.35,963.8 482.66,993.7 482.92,963.8 483.19,878.1 483.45,923.9 483.71,939.7 484.00,923.9 484.29,878.1 484.58,951.1 484.87,976.6 485.18,951.1 485.49,878.1 485.54,878.1 485.85,903.3 486.16,912.0 486.44,903.3 486.72,878.1 487.01,909.4 487.29,920.3 487.52,909.4 487.76,878.1 487.99,903.1 488.23,911.7 488.50,903.1 488.76,878.1 489.03,925.8 489.30,942.4 489.57,925.8 489.83,878.1 490.10,904.1 490.37,913.1 490.61,904.1 490.84,878.1 491.08,950.4 491.31,975.6 491.62,950.4 491.93,878.1 491.94,878.1 492.25,933.9 492.56,953.4 492.85,933.9 493.15,878.1 493.44,952.6 493.73,978.6 494.04,952.6 494.35,878.1 494.38,878.1 494.69,911.7 495.00,923.4 495.31,911.7 495.62,878.1 495.72,878.1 496.03,925.8 496.34,942.4 496.65,925.8 496.95,878.1 497.25,901.2 497.56,909.2 497.87,901.2 498.18,878.1 498.34,878.1 498.65,968.0 498.96,999.4 499.25,968.0 499.53,878.1 499.82,946.3 500.11,970.1 500.42,946.3 500.73,878.1 500.75,878.1 501.06,966.0 501.38,996.7 501.65,966.0 501.92,878.1 502.20,947.7 502.47,972.0 502.70,947.7 502.93,878.1 503.16,966.0 503.39,996.7 503.65,966.0 503.90,878.1 504.16,938.9 504.42,960.0 504.71,938.9 505.01,878.1 505.31,979.9 505.60,1015.5 505.91,979.9 506.22,878.1 506.47,878.1 506.78,945.7 507.09,969.3 507.40,945.7 507.71,878.1 507.80,878.1 508.11,992.4 508.42,1032.4 508.70,992.4 508.97,878.1 509.25,916.7 509.53,930.1 509.84,916.7 510.15,878.1 510.21,878.1 510.52,961.3 510.83,990.3 511.09,961.3 511.35,878.1 511.61,936.3 511.87,956.5 512.11,936.3 512.36,878.1 512.60,992.4 512.85,1032.4 513.12,992.4 513.39,878.1 513.65,908.4 513.92,918.9 514.21,908.4 514.49,878.1 514.78,933.6 515.06,952.9 515.31,933.6 515.55,878.1 515.80,913.8 516.05,926.1 516.30,913.8 516.56,878.1 516.82,924.3 517.07,940.4 517.30,924.3 517.52,878.1 517.74,905.2 517.97,914.5 518.25,905.2 518.53,878.1 518.81,951.1 519.09,976.6 519.39,951.1 519.71,878.1 519.71,878.1 520.02,915.1 520.33,927.9 520.63,915.1 520.92,878.1 521.21,989.9 521.50,1028.9 521.77,989.9 522.04,878.1 522.32,949.5 522.59,974.4 522.90,949.5 523.21,878.1 523.29,878.1 523.61,1033.1 523.91,1087.3 524.22,1033.1 524.53,878.1 524.55,878.1 524.86,958.2 525.17,986.1 525.48,958.2 525.79,878.1 525.91,878.1 526.22,1007.0 526.53,1052.1 526.76,1007.0 526.98,878.1 527.20,945.1 527.43,968.4 527.71,945.1 527.99,878.1 528.26,970.8 528.54,1003.2 528.85,970.8 529.16,878.1 529.19,878.1 529.50,936.8 529.81,957.2 530.09,936.8 530.38,878.1 530.67,1004.0 530.96,1048.1 531.26,1004.0 531.57,878.1 531.87,912.1 532.18,923.8 532.43,912.1 532.68,878.1 532.92,950.0 533.17,975.0 533.48,950.0 533.79,878.1 533.88,878.1 534.19,927.2 534.50,944.3 534.77,927.2 535.04,878.1 535.31,960.1 535.59,988.7 535.89,960.1 536.18,878.1 536.48,931.1 536.78,949.6 537.09,931.1 537.39,878.1 537.70,959.8 538.00,988.3 538.31,959.8 538.62,878.1 538.77,878.1 539.08,916.7 539.39,930.1 539.70,916.7 540.01,878.1 540.31,959.8 540.62,988.3 540.93,959.8 541.24,878.1 541.32,878.1 541.63,919.6 541.94,934.0 542.25,919.6 542.56,878.1 542.62,878.1 542.92,984.7 543.24,1021.9 543.48,984.7 543.73,878.1 543.97,942.4 544.22,964.8 544.48,942.4 544.73,878.1 544.99,961.9 545.25,991.1 545.53,961.9 545.81,878.1 546.09,923.3 546.37,939.0 546.68,923.3 546.99,878.1 547.04,878.1 547.35,979.9 547.66,1015.5 547.97,979.9 548.28,878.1 548.31,878.1 548.62,942.3 548.93,964.6 549.22,942.3 549.50,878.1 549.79,977.9 550.08,1012.8 550.32,977.9 550.55,878.1 550.79,894.1 551.03,899.6 551.29,894.1 551.56,878.1 551.82,895.3 552.09,901.1 552.35,895.3 552.61,878.1 552.86,894.1 553.12,899.6 553.37,894.1 553.61,878.1 553.86,933.3 554.10,952.5 554.41,933.3 554.71,878.1 555.02,917.0 555.32,930.5 555.63,917.0 555.94,878.1 556.10,878.1 556.41,929.5 556.72,947.4 557.03,929.5 557.34,878.1 557.36,878.1 557.67,909.9 557.98,920.8 558.27,909.9 558.56,878.1 558.85,934.8 559.13,954.5 559.36,934.8 559.59,878.1 559.83,899.6 560.06,906.9 560.33,899.6 560.60,878.1 560.87,906.5 561.15,916.2 561.38,906.5 561.62,878.1 561.86,904.5 562.10,913.6 562.36,904.5 562.63,878.1 562.89,947.4 563.16,971.6 563.47,947.4 563.78,878.1 563.94,878.1 564.25,919.6 564.56,934.0 564.86,919.6 565.17,878.1 565.47,997.6 565.77,1039.4 566.07,997.6 566.37,878.1 566.67,972.0 566.97,1004.8 567.28,972.0 567.59,878.1 567.77,878.1 568.08,1034.8 568.39,1089.7 568.67,1034.8 568.95,878.1 569.23,943.3 569.52,966.0 569.83,943.3 570.14,878.1 570.19,878.1 570.50,973.9 570.81,1007.4 571.12,973.9 571.43,878.1 571.50,878.1 571.81,922.1 572.12,937.3 572.39,922.1 572.67,878.1 572.95,954.9 573.22,981.6 573.47,954.9 573.72,878.1 573.97,929.0 574.22,946.6 574.52,929.0 574.83,878.1 575.13,974.2 575.43,1007.8 575.74,974.2 576.05,878.1 576.12,878.1 576.43,903.6 576.74,912.4 577.02,903.6 577.30,878.1 577.57,918.4 577.85,932.3 578.09,918.4 578.32,878.1 578.56,909.8 578.80,920.7 579.06,909.8 579.33,878.1 579.60,945.2 579.86,968.6 580.09,945.2 580.31,878.1 580.53,902.5 580.76,910.9 581.04,902.5 581.32,878.1 581.60,920.6 581.88,935.4 582.14,920.6 582.41,878.1 582.67,899.3 582.94,906.5 583.18,899.3 583.41,878.1 583.65,911.7 583.89,923.3 584.20,911.7 584.51,878.1 584.53,878.1 584.84,899.2 585.15,906.4 585.44,899.2 585.73,878.1 586.01,948.9 586.30,973.6 586.61,948.9 586.92,878.1 587.01,878.1 587.32,924.3 587.63,940.3 587.94,924.3 588.25,878.1 588.30,878.1 588.61,954.4 588.92,981.0 589.23,954.4 589.54,878.1 589.60,878.1 589.91,926.5 590.22,943.3 590.50,926.5 590.78,878.1 591.06,955.3 591.33,982.2 591.64,955.3 591.95,878.1 592.30,878.1 592.61,920.7 592.92,935.4 593.23,920.7 593.54,878.1 593.93,878.1 594.24,992.8 594.55,1033.0 594.86,992.8 595.17,878.1 595.21,878.1 595.52,958.4 595.83,986.4 596.11,958.4 596.40,878.1 596.68,990.2 596.97,1029.3 597.28,990.2 597.59,878.1 597.65,878.1 597.96,924.9 598.27,941.2 598.55,924.9 598.83,878.1 599.10,974.2 599.38,1007.8 599.65,974.2 599.91,878.1 600.17,953.8 600.43,980.2 600.67,953.8 600.91,878.1 601.16,1001.0 601.40,1044.0 601.71,1001.0 602.02,878.1 602.16,878.1 602.47,941.9 602.78,964.2 603.09,941.9 603.39,878.1 603.70,970.1 604.01,1002.2 604.31,970.1 604.61,878.1 604.91,929.5 605.21,947.3 605.52,929.5 605.83,878.1 606.01,878.1 606.32,1013.4 606.63,1060.7 606.91,1013.4 607.19,878.1 607.47,920.4 607.75,935.0 607.97,920.4 608.20,878.1 608.42,938.8 608.64,959.9 608.92,938.8 609.21,878.1 609.49,907.5 609.77,917.6 610.08,907.5 610.39,878.1 610.44,878.1 610.75,927.3 611.06,944.4 611.30,927.3 611.54,878.1 611.78,911.8 612.02,923.4 612.29,911.8 612.55,878.1 612.81,925.8 613.07,942.4 613.34,925.8 613.60,878.1 613.87,906.7 614.14,916.5 614.37,906.7 614.61,878.1 614.84,934.8 615.08,954.5 615.36,934.8 615.64,878.1 615.93,922.9 616.21,938.4 616.52,922.9 616.83,878.1 616.88,878.1 617.19,942.2 617.50,964.5 617.76,942.2 618.03,878.1 618.29,917.3 618.56,930.9 618.80,917.3 619.03,878.1 619.27,986.4 619.51,1024.3 619.78,986.4 620.06,878.1 620.33,960.9 620.61,989.8 620.89,960.9 621.17,878.1 621.44,989.9 621.72,1028.9 622.03,989.9 622.34,878.1 622.59,878.1 622.90,935.4 623.21,955.4 623.52,935.4 623.83,878.1 623.92,878.1 624.23,1002.1 624.54,1045.4 624.80,1002.1 625.06,878.1 625.32,953.9 625.59,980.3 625.88,953.9 626.17,878.1 626.46,1001.0 626.75,1044.0 627.06,1001.0 627.37,878.1 627.64,878.1 627.95,954.9 628.26,981.7 628.57,954.9 628.88,878.1 628.95,878.1 629.26,979.1 629.57,1014.4 629.87,979.1 630.18,878.1 630.48,946.7 630.78,970.6 631.03,946.7 631.28,878.1 631.53,966.0 631.79,996.7 632.04,966.0 632.29,878.1 632.54,903.6 632.79,912.4 633.04,903.6 633.29,878.1 633.55,906.5 633.80,916.2 634.11,906.5 634.42,878.1 634.45,878.1 634.76,901.1 635.07,909.0 635.36,901.1 635.64,878.1 635.93,933.6 636.21,952.9 636.52,933.6 636.83,878.1 636.95,878.1 637.26,906.5 637.57,916.2 637.88,906.5 638.19,878.1 638.21,878.1 638.52,950.4 638.83,975.6 639.14,950.4 639.45,878.1 639.49,878.1 639.80,912.9 640.11,924.9 640.39,912.9 640.68,878.1 640.96,984.2 641.24,1021.3 641.52,984.2 641.80,878.1 642.08,943.8 642.36,966.6 642.67,943.8 642.98,878.1 643.04,878.1 643.35,1015.5 643.66,1063.6 643.97,1015.5 644.28,878.1 644.35,878.1 644.66,983.6 644.97,1020.4 645.28,983.6 645.59,878.1 645.65,878.1 645.96,1051.7 646.27,1112.5 646.58,1051.7 646.89,878.1 647.19,982.9 647.50,1019.6 647.81,982.9 648.12,878.1 648.27,878.1 648.58,1009.5 648.89,1055.5 649.19,1009.5 649.49,878.1 649.79,979.8 650.08,1015.4 650.39,979.8 650.69,878.1 651.00,1005.8 651.31,1050.5 651.59,1005.8 651.88,878.1 652.17,941.1 652.46,963.0 652.77,941.1 653.08,878.1 653.10,878.1 653.41,977.7 653.72,1012.4 653.98,977.7 654.25,878.1 654.51,933.3 654.77,952.4 655.01,933.3 655.25,878.1 655.49,947.0 655.73,971.0 656.04,947.0 656.35,878.1 656.38,878.1 656.69,930.1 657.00,948.1 657.31,930.1 657.62,878.1 657.73,878.1 658.04,955.6 658.35,982.6 658.66,955.6 658.97,878.1 659.01,878.1 659.32,917.3 659.63,930.8 659.91,917.3 660.20,878.1 660.48,1023.8 660.76,1074.8 661.05,1023.8 661.34,878.1 661.62,932.6 661.91,951.5 662.22,932.6 662.53,878.1 662.56,878.1 662.87,995.8 663.18,1037.0 663.49,995.8 663.80,878.1 663.90,878.1 664.21,949.1 664.52,973.9 664.83,949.1 665.14,878.1 665.18,878.1 665.49,978.7 665.80,1013.8 666.11,978.7 666.42,878.1 666.55,878.1 666.86,947.8 667.17,972.1 667.48,947.8 667.79,878.1 668.10,985.7 668.41,1023.3 668.70,985.7 668.98,878.1 669.26,914.3 669.55,926.8 669.86,914.3 670.17,878.1 670.21,878.1 670.52,938.8 670.83,959.9 671.14,938.8 671.45,878.1 671.49,878.1 671.80,907.8 672.11,918.1 672.42,907.8 672.73,878.1 672.82,878.1 673.13,964.2 673.44,994.3 673.73,964.2 674.01,878.1 674.29,911.3 674.57,922.8 674.88,911.3 675.19,878.1 675.24,878.1 675.55,932.5 675.86,951.5 676.12,932.5 676.38,878.1 676.64,909.0 676.89,919.7 677.14,909.0 677.38,878.1 677.63,945.2 677.87,968.6 678.18,945.2 678.49,878.1 678.54,878.1 678.85,907.2 679.16,917.2 679.47,907.2 679.78,878.1 679.87,878.1 680.18,923.6 680.49,939.4 680.80,923.6 681.11,878.1 681.23,878.1 681.54,902.3 681.85,910.6 682.16,902.3 682.47,878.1 682.48,878.1 682.79,944.4 683.10,967.6 683.38,944.4 683.66,878.1 683.94,924.3 684.23,940.3 684.54,924.3 684.85,878.1 684.90,878.1 685.21,972.3 685.52,1005.2 685.83,972.3 686.14,878.1 686.27,878.1 686.58,941.4 686.89,963.4 687.20,941.4 687.51,878.1 687.51,878.1 687.83,972.3 688.13,1005.2 688.43,972.3 688.72,878.1 689.01,939.4 689.31,960.7 689.62,939.4 689.93,878.1 689.93,878.1 690.24,955.9 690.55,983.1 690.78,955.9 691.00,878.1 691.23,900.0 691.45,907.6 691.73,900.0 692.01,878.1 692.28,918.4 692.56,932.3 692.84,918.4 693.12,878.1 693.40,904.9 693.67,914.1 693.90,904.9 694.12,878.1 694.35,925.8 694.58,942.4 694.85,925.8 695.12,878.1 695.40,908.7 695.67,919.2 695.90,908.7 696.13,878.1 696.36,974.2 696.59,1007.8 696.90,974.2 697.21,878.1 697.30,878.1 697.61,929.7 697.92,947.6 698.23,929.7 698.54,878.1 698.58,878.1 698.89,962.6 699.20,992.1 699.51,962.6 699.82,878.1 699.95,878.1 700.26,916.8 700.57,930.2 700.88,916.8 701.19,878.1 701.40,878.1 701.71,961.9 702.02,991.1 702.32,961.9 702.61,878.1 702.91,913.4 703.20,925.6 703.46,913.4 703.72,878.1 703.98,922.1 704.24,937.4 704.52,922.1 704.81,878.1 705.09,898.7 705.38,905.7 705.69,898.7 706.00,878.1 706.03,878.1 706.34,913.9 706.65,926.3 706.96,913.9 707.27,878.1 707.55,878.1 707.86,906.8 708.17,916.7 708.48,906.8 708.79,878.1 709.05,878.1 709.36,957.4 709.67,985.1 709.98,957.4 710.29,878.1 710.34,878.1 710.65,936.8 710.96,957.2 711.24,936.8 711.52,878.1 711.80,997.3 712.08,1039.0 712.39,997.3 712.69,878.1 713.00,921.0 713.30,935.9 713.55,921.0 713.80,878.1 714.05,959.8 714.30,988.3 714.61,959.8 714.92,878.1 714.93,878.1 715.24,928.8 715.55,946.4 715.84,928.8 716.13,878.1 716.42,981.7 716.71,1017.9 717.02,981.7 717.33,878.1 717.47,878.1 717.78,932.5 718.09,951.4 718.40,932.5 718.71,878.1 718.71,878.1 719.02,980.2 719.33,1015.9 719.61,980.2 719.90,878.1 720.18,936.6 720.47,957.0 720.78,936.6 721.09,878.1 721.12,878.1 721.43,990.9 721.74,1030.3 722.04,990.9 722.33,878.1 722.63,902.2 722.92,910.4 723.23,902.2 723.54,878.1 723.85,904.2 724.16,913.2 724.47,904.2 724.78,878.1 724.86,878.1 725.17,900.4 725.48,908.1 725.79,900.4 726.10,878.1 726.16,878.1 726.47,916.9 726.78,930.3 727.09,916.9 727.40,878.1 727.44,878.1 727.75,906.9 728.06,916.8 728.34,906.9 728.62,878.1 728.91,925.1 729.19,941.4 729.50,925.1 729.81,878.1 730.18,878.1 730.49,896.0 730.80,902.1 731.11,896.0 731.41,878.1 731.72,894.8 732.02,900.5 732.32,894.8 732.62,878.1 732.92,908.7 733.22,919.3 733.53,908.7 733.84,878.1 733.90,878.1 734.21,903.3 734.52,911.9 734.83,903.3 735.14,878.1 735.21,878.1 735.52,922.8 735.83,938.4 736.14,922.8 736.45,878.1 736.52,878.1 736.83,908.7 737.14,919.2 737.45,908.7 737.76,878.1 737.83,878.1 738.14,959.3 738.45,987.7 738.74,959.3 739.04,878.1 739.34,915.6 739.64,928.6 739.94,915.6 740.25,878.1 740.56,955.6 740.86,982.6 741.13,955.6 741.40,878.1 741.67,930.6 741.94,948.9 742.22,930.6 742.51,878.1 742.79,994.0 743.08,1034.6 743.37,994.0 743.67,878.1 743.96,920.6 744.26,935.3 744.56,920.6 744.87,878.1 745.18,934.5 745.49,954.1 745.77,934.5 746.04,878.1 746.32,914.4 746.60,927.0 746.87,914.4 747.14,878.1 747.41,916.7 747.68,930.1 747.99,916.7 748.30,878.1 748.61,969.8 748.91,1001.8 749.22,969.8 749.53,878.1 749.78,878.1 750.09,934.8 750.40,954.5 750.71,934.8 751.02,878.1 751.31,878.1 751.62,952.6 751.93,978.6 752.17,952.6 752.41,878.1 752.65,913.3 752.89,925.5 753.16,913.3 753.42,878.1 753.68,922.1 753.94,937.4 754.25,922.1 754.56,878.1 754.68,878.1 754.99,905.1 755.30,914.4 755.61,905.1 755.92,878.1 755.94,878.1 756.25,934.0 756.56,953.5 756.84,934.0 757.12,878.1 757.39,911.1 757.67,922.5 757.98,911.1 758.29,878.1 758.36,878.1 758.66,930.3 758.98,948.4 759.29,930.3 759.60,878.1 759.66,878.1 759.97,910.6 760.28,921.8 760.59,910.6 760.90,878.1 760.97,878.1 761.28,967.5 761.59,998.8 761.78,967.5 761.96,878.1 762.15,918.7 762.33,932.7 762.64,918.7 762.95,878.1"/>
<text class="tk" text-anchor="end" transform="translate(111.4 654.9) scale(0.904 1)">4.0E-04</text>
<text class="tk" text-anchor="end" transform="translate(111.4 770.1) scale(0.904 1)">2.0E-04</text>
<text class="tk" text-anchor="end" transform="translate(111.4 885.4) scale(0.904 1)">0.0E+00</text>
<text class="tk" text-anchor="end" transform="translate(111.4 1000.6) scale(0.904 1)">-2.0E-04</text>
<text class="tk" text-anchor="end" transform="translate(111.4 1115.8) scale(0.904 1)">-4.0E-04</text>
<text class="tk" text-anchor="middle" transform="translate(118.9 1161.8) scale(0.904 1)">0</text>
<text class="tk" text-anchor="middle" transform="translate(247.5 1161.8) scale(0.904 1)">2</text>
<text class="tk" text-anchor="middle" transform="translate(376.1 1161.8) scale(0.904 1)">4</text>
<text class="tk" text-anchor="middle" transform="translate(504.7 1161.8) scale(0.904 1)">6</text>
<text class="tk" text-anchor="middle" transform="translate(633.3 1161.8) scale(0.904 1)">8</text>
<text class="tk" text-anchor="middle" transform="translate(761.9 1161.8) scale(0.904 1)">10</text>
<text class="ti" text-anchor="middle" x="440.1" y="1194.5">Time (s)</text>
<text class="ti" text-anchor="middle" transform="translate(18.6 861.7) rotate(-90)">Strain response</text>
<rect x="353.20" y="639.10" width="177.80" height="32.30" fill="#fff" stroke="#000" stroke-width="1.5"/>
<path d="M355.90 655.65h54.5" stroke="#0000ff" stroke-width="1.4" fill="none"/>
<text class="lg" x="416.4" y="664.0">Element 10</text>
</g>
<g>
<clipPath id="c3"><rect x="945.90" y="619.90" width="644.90" height="517.10"/></clipPath>
<path class="t" d="M946.90 739.23h6.3M1589.80 739.23h-6.3M946.90 898.34h6.3M1589.80 898.34h-6.3M946.90 1057.45h6.3M1589.80 1057.45h-6.3M1075.48 1137.00v-6.3M1075.48 619.90v6.3M1204.06 1137.00v-6.3M1204.06 619.90v6.3M1332.64 1137.00v-6.3M1332.64 619.90v6.3M1461.22 1137.00v-6.3M1461.22 619.90v6.3"/>
<rect class="fr" x="946.90" y="619.90" width="642.90" height="517.10"/>
<polyline class="s" clip-path="url(#c3)" points="946.15,898.9 946.46,847.2 946.77,829.2 947.08,847.2 947.39,898.9 947.70,843.4 948.01,824.0 948.25,843.4 948.49,898.9 948.72,847.4 948.96,829.5 949.23,847.4 949.49,898.9 949.76,816.8 950.02,788.2 950.33,816.8 950.64,898.9 950.68,898.9 950.99,825.1 951.30,799.4 951.61,825.1 951.92,898.9 952.01,898.9 952.33,769.3 952.63,724.0 952.94,769.3 953.25,898.9 953.26,898.9 953.57,811.9 953.88,781.5 954.17,811.9 954.46,898.9 954.76,787.5 955.05,748.6 955.34,787.5 955.63,898.9 955.92,838.0 956.22,816.7 956.53,838.0 956.84,898.9 956.85,898.9 957.15,827.0 957.47,801.9 957.78,827.0 958.09,898.9 958.09,898.9 958.40,854.1 958.71,838.6 959.02,854.1 959.33,898.9 959.46,898.9 959.77,850.8 960.08,834.1 960.31,850.8 960.54,898.9 960.78,856.6 961.01,841.9 961.28,856.6 961.55,898.9 961.82,820.7 962.09,793.4 962.40,820.7 962.71,898.9 963.02,898.9 963.33,843.2 963.64,823.8 963.95,843.2 964.26,898.9 964.49,898.9 964.80,830.3 965.11,806.3 965.38,830.3 965.65,898.9 965.92,838.4 966.18,817.3 966.42,838.4 966.65,898.9 966.89,789.7 967.12,751.6 967.43,789.7 967.75,898.9 967.76,898.9 968.07,855.3 968.38,840.2 968.69,855.3 969.00,898.9 969.12,898.9 969.43,846.8 969.74,828.7 970.04,846.8 970.35,898.9 970.65,858.0 970.95,843.8 971.25,858.0 971.56,898.9 971.86,834.1 972.16,811.6 972.46,834.1 972.76,898.9 973.07,855.8 973.37,840.9 973.68,855.8 973.99,898.9 974.15,898.9 974.46,793.5 974.77,756.6 975.08,793.5 975.39,898.9 975.39,898.9 975.70,828.9 976.01,804.5 976.31,828.9 976.60,898.9 976.89,809.5 977.19,778.4 977.48,809.5 977.76,898.9 978.05,835.0 978.34,812.7 978.65,835.0 978.96,898.9 978.98,898.9 979.29,817.6 979.60,789.2 979.89,817.6 980.18,898.9 980.48,848.1 980.77,830.4 981.08,848.1 981.39,898.9 981.40,898.9 981.71,792.7 982.02,755.6 982.33,792.7 982.64,898.9 983.01,898.9 983.32,758.2 983.63,708.9 983.94,758.2 984.25,898.9 984.40,898.9 984.71,855.1 985.02,839.9 985.33,855.1 985.63,898.9 985.94,842.6 986.24,823.0 986.48,842.6 986.72,898.9 986.96,851.9 987.20,835.5 987.46,851.9 987.73,898.9 987.99,803.6 988.26,770.3 988.56,803.6 988.86,898.9 989.16,838.1 989.46,816.9 989.77,838.1 990.08,898.9 990.25,898.9 990.56,786.0 990.87,746.6 991.16,786.0 991.46,898.9 991.75,848.2 992.04,830.6 992.35,848.2 992.66,898.9 992.67,898.9 992.98,826.7 993.29,801.5 993.52,826.7 993.75,898.9 993.98,843.9 994.21,824.8 994.48,843.9 994.75,898.9 995.03,784.1 995.30,743.9 995.61,784.1 995.92,898.9 996.14,898.9 996.45,801.7 996.76,767.7 997.07,801.7 997.38,898.9 997.50,898.9 997.81,768.4 998.12,722.8 998.39,768.4 998.66,898.9 998.92,809.8 999.19,778.7 999.48,809.8 999.76,898.9 1000.05,796.4 1000.33,760.6 1000.64,796.4 1000.95,898.9 1001.02,898.9 1001.33,837.0 1001.64,815.5 1001.92,837.0 1002.20,898.9 1002.47,795.7 1002.75,759.6 1003.06,795.7 1003.37,898.9 1003.55,898.9 1003.86,829.5 1004.17,805.3 1004.46,829.5 1004.76,898.9 1005.06,811.8 1005.36,781.4 1005.67,811.8 1005.98,898.9 1006.29,847.5 1006.60,829.7 1006.91,847.5 1007.22,898.9 1007.36,898.9 1007.67,841.6 1007.98,821.6 1008.29,841.6 1008.60,898.9 1008.75,898.9 1009.06,851.5 1009.37,835.0 1009.68,851.5 1009.99,898.9 1010.18,898.9 1010.49,819.2 1010.80,791.4 1011.08,819.2 1011.36,898.9 1011.65,852.1 1011.93,835.8 1012.20,852.1 1012.47,898.9 1012.74,848.6 1013.01,831.1 1013.32,848.6 1013.63,898.9 1013.85,898.9 1014.16,855.0 1014.47,839.8 1014.78,855.0 1015.09,898.9 1015.41,898.9 1015.72,806.1 1016.03,773.7 1016.31,806.1 1016.60,898.9 1016.88,856.3 1017.17,841.5 1017.48,856.3 1017.79,898.9 1017.82,898.9 1018.13,837.4 1018.44,816.0 1018.71,837.4 1018.98,898.9 1019.25,844.5 1019.52,825.6 1019.75,844.5 1019.99,898.9 1020.22,832.9 1020.46,810.0 1020.77,832.9 1021.08,898.9 1021.45,898.9 1021.76,788.7 1022.07,750.2 1022.38,788.7 1022.69,898.9 1022.95,898.9 1023.26,845.8 1023.57,827.4 1023.88,845.8 1024.19,898.9 1024.26,898.9 1024.57,816.5 1024.88,787.8 1025.16,816.5 1025.43,898.9 1025.71,841.7 1025.98,821.8 1026.21,841.7 1026.44,898.9 1026.67,806.6 1026.90,774.3 1027.20,806.6 1027.51,898.9 1027.81,824.5 1028.12,798.5 1028.43,824.5 1028.74,898.9 1028.89,898.9 1029.20,799.7 1029.51,765.1 1029.78,799.7 1030.04,898.9 1030.31,832.6 1030.57,809.5 1030.81,832.6 1031.05,898.9 1031.29,795.0 1031.53,758.6 1031.84,795.0 1032.14,898.9 1032.36,898.9 1032.67,846.0 1032.98,827.6 1033.29,846.0 1033.60,898.9 1033.92,898.9 1034.23,816.5 1034.54,787.8 1034.85,816.5 1035.16,898.9 1035.47,830.4 1035.77,806.5 1036.07,830.4 1036.37,898.9 1036.66,815.1 1036.96,785.8 1037.21,815.1 1037.47,898.9 1037.73,848.1 1037.98,830.5 1038.28,848.1 1038.58,898.9 1038.87,820.3 1039.17,792.8 1039.46,820.3 1039.75,898.9 1040.04,839.1 1040.33,818.3 1040.64,839.1 1040.95,898.9 1040.97,898.9 1041.28,823.0 1041.59,796.5 1041.89,823.0 1042.19,898.9 1042.49,838.5 1042.80,817.5 1043.11,838.5 1043.42,898.9 1043.58,898.9 1043.89,782.0 1044.20,741.1 1044.51,782.0 1044.82,898.9 1044.89,898.9 1045.20,794.4 1045.51,757.9 1045.79,794.4 1046.06,898.9 1046.34,780.8 1046.62,739.5 1046.88,780.8 1047.13,898.9 1047.39,818.6 1047.65,790.5 1047.89,818.6 1048.14,898.9 1048.38,768.9 1048.63,723.4 1048.93,768.9 1049.23,898.9 1049.53,804.3 1049.84,771.3 1050.14,804.3 1050.44,898.9 1050.74,783.3 1051.05,742.9 1051.34,783.3 1051.62,898.9 1051.91,824.2 1052.20,798.1 1052.47,824.2 1052.73,898.9 1053.00,811.0 1053.26,780.4 1053.57,811.0 1053.88,898.9 1054.00,898.9 1054.31,842.1 1054.62,822.4 1054.93,842.1 1055.24,898.9 1055.46,898.9 1055.77,832.2 1056.08,808.9 1056.39,832.2 1056.70,898.9 1056.81,898.9 1057.12,846.3 1057.43,828.0 1057.74,846.3 1058.05,898.9 1058.07,898.9 1058.38,838.9 1058.69,818.0 1059.00,838.9 1059.31,898.9 1059.67,898.9 1059.98,851.2 1060.29,834.7 1060.60,851.2 1060.91,898.9 1061.09,898.9 1061.40,830.3 1061.71,806.3 1062.02,830.3 1062.33,898.9 1062.64,853.9 1062.94,838.2 1063.25,853.9 1063.56,898.9 1063.71,898.9 1064.02,835.2 1064.33,813.0 1064.58,835.2 1064.84,898.9 1065.09,848.1 1065.35,830.5 1065.59,848.1 1065.84,898.9 1066.09,823.7 1066.34,797.5 1066.62,823.7 1066.90,898.9 1067.18,854.5 1067.46,839.1 1067.77,854.5 1068.08,898.9 1068.14,898.9 1068.45,830.7 1068.76,806.9 1069.02,830.7 1069.29,898.9 1069.55,844.8 1069.82,826.0 1070.11,844.8 1070.39,898.9 1070.68,777.8 1070.97,735.5 1071.26,777.8 1071.55,898.9 1071.84,847.5 1072.13,829.7 1072.44,847.5 1072.75,898.9 1072.77,898.9 1073.08,838.6 1073.38,817.6 1073.69,838.6 1074.00,898.9 1074.31,845.4 1074.62,826.8 1074.92,845.4 1075.21,898.9 1075.51,819.8 1075.80,792.2 1076.08,819.8 1076.35,898.9 1076.63,847.3 1076.91,829.4 1077.22,847.3 1077.53,898.9 1077.60,898.9 1077.90,807.6 1078.21,775.7 1078.51,807.6 1078.81,898.9 1079.11,828.9 1079.40,804.5 1079.71,828.9 1080.02,898.9 1080.32,792.7 1080.63,755.6 1080.91,792.7 1081.20,898.9 1081.48,812.7 1081.77,782.6 1082.03,812.7 1082.30,898.9 1082.57,755.2 1082.84,704.9 1083.10,755.2 1083.36,898.9 1083.62,830.5 1083.88,806.7 1084.13,830.5 1084.37,898.9 1084.61,800.6 1084.86,766.3 1085.17,800.6 1085.48,898.9 1085.79,837.6 1086.10,816.3 1086.39,837.6 1086.68,898.9 1086.98,797.2 1087.27,761.6 1087.58,797.2 1087.89,898.9 1088.05,898.9 1088.36,836.4 1088.67,814.7 1088.98,836.4 1089.28,898.9 1089.58,808.1 1089.89,776.3 1090.16,808.1 1090.43,898.9 1090.70,835.1 1090.97,812.9 1091.20,835.1 1091.44,898.9 1091.67,817.6 1091.90,789.2 1092.15,817.6 1092.41,898.9 1092.66,871.4 1092.92,862.0 1093.17,871.4 1093.42,898.9 1093.66,869.4 1093.91,859.3 1094.21,869.4 1094.51,898.9 1094.81,871.4 1095.10,862.0 1095.41,871.4 1095.72,898.9 1096.02,837.1 1096.33,815.6 1096.64,837.1 1096.95,898.9 1097.32,898.9 1097.63,801.2 1097.94,767.1 1098.25,801.2 1098.56,898.9 1098.86,898.9 1099.17,830.7 1099.48,806.9 1099.79,830.7 1100.10,898.9 1100.34,898.9 1100.65,803.1 1100.96,769.7 1101.27,803.1 1101.58,898.9 1101.89,830.0 1102.19,806.0 1102.49,830.0 1102.78,898.9 1103.08,797.2 1103.37,761.6 1103.61,797.2 1103.85,898.9 1104.09,827.5 1104.34,802.5 1104.60,827.5 1104.86,898.9 1105.12,792.3 1105.38,755.0 1105.69,792.3 1106.00,898.9 1106.19,898.9 1106.50,812.1 1106.81,781.8 1107.12,812.1 1107.43,898.9 1107.78,898.9 1108.09,784.8 1108.40,744.9 1108.71,784.8 1109.02,898.9 1109.33,852.7 1109.64,836.7 1109.95,852.7 1110.26,898.9 1110.40,898.9 1110.71,849.3 1111.02,832.1 1111.27,849.3 1111.52,898.9 1111.77,859.0 1112.03,845.2 1112.30,859.0 1112.57,898.9 1112.85,861.7 1113.12,848.9 1113.35,861.7 1113.58,898.9 1113.81,817.7 1114.04,789.4 1114.35,817.7 1114.66,898.9 1114.89,898.9 1115.20,845.1 1115.51,826.4 1115.82,845.1 1116.13,898.9 1116.44,898.9 1116.75,798.4 1117.06,763.3 1117.37,798.4 1117.68,898.9 1117.69,898.9 1118.00,837.3 1118.31,815.9 1118.60,837.3 1118.89,898.9 1119.18,825.8 1119.47,800.3 1119.77,825.8 1120.08,898.9 1120.38,820.3 1120.68,792.8 1120.99,820.3 1121.30,898.9 1121.62,898.9 1121.93,844.8 1122.24,826.0 1122.55,844.8 1122.86,898.9 1123.08,898.9 1123.39,840.4 1123.70,820.0 1124.01,840.4 1124.32,898.9 1124.69,898.9 1125.00,849.8 1125.31,832.8 1125.62,849.8 1125.93,898.9 1126.10,898.9 1126.41,788.0 1126.72,749.2 1126.99,788.0 1127.27,898.9 1127.55,811.4 1127.83,780.9 1128.05,811.4 1128.28,898.9 1128.50,800.2 1128.73,765.7 1128.99,800.2 1129.25,898.9 1129.51,827.7 1129.77,802.9 1130.01,827.7 1130.25,898.9 1130.50,811.0 1130.74,780.4 1131.02,811.0 1131.30,898.9 1131.57,831.3 1131.85,807.8 1132.13,831.3 1132.40,898.9 1132.68,762.5 1132.95,714.8 1133.26,762.5 1133.57,898.9 1133.74,898.9 1134.05,846.3 1134.36,828.0 1134.67,846.3 1134.98,898.9 1135.15,898.9 1135.46,819.1 1135.77,791.2 1136.08,819.1 1136.39,898.9 1136.42,898.9 1136.73,850.2 1137.04,833.3 1137.32,850.2 1137.61,898.9 1137.90,799.7 1138.19,765.1 1138.50,799.7 1138.81,898.9 1139.12,840.5 1139.43,820.2 1139.72,840.5 1140.01,898.9 1140.31,813.9 1140.60,784.2 1140.89,813.9 1141.18,898.9 1141.46,830.5 1141.75,806.7 1142.06,830.5 1142.37,898.9 1142.40,898.9 1142.71,776.3 1143.02,733.5 1143.33,776.3 1143.64,898.9 1143.80,898.9 1144.11,799.6 1144.42,764.9 1144.73,799.6 1145.04,898.9 1145.22,898.9 1145.53,782.6 1145.84,741.9 1146.14,782.6 1146.45,898.9 1146.48,898.9 1146.79,816.8 1147.10,788.2 1147.39,816.8 1147.68,898.9 1147.96,804.2 1148.25,771.1 1148.51,804.2 1148.78,898.9 1149.04,819.4 1149.31,791.7 1149.55,819.4 1149.78,898.9 1150.02,796.1 1150.26,760.2 1150.54,796.1 1150.81,898.9 1151.08,853.4 1151.36,837.6 1151.67,853.4 1151.98,898.9 1152.06,898.9 1152.37,826.7 1152.68,801.5 1152.95,826.7 1153.23,898.9 1153.50,850.1 1153.78,833.2 1154.06,850.1 1154.33,898.9 1154.61,823.5 1154.89,797.3 1155.20,823.5 1155.51,898.9 1155.64,898.9 1155.95,854.4 1156.26,838.9 1156.57,854.4 1156.88,898.9 1157.09,898.9 1157.40,847.8 1157.71,830.1 1158.02,847.8 1158.33,898.9 1158.70,898.9 1159.01,856.8 1159.32,842.1 1159.54,856.8 1159.77,898.9 1160.00,859.7 1160.22,846.1 1160.50,859.7 1160.78,898.9 1161.05,813.9 1161.33,784.2 1161.62,813.9 1161.91,898.9 1162.19,845.4 1162.48,826.8 1162.79,845.4 1163.10,898.9 1163.13,898.9 1163.44,833.7 1163.75,811.0 1164.06,833.7 1164.37,898.9 1164.50,898.9 1164.81,845.3 1165.12,826.6 1165.43,845.3 1165.74,898.9 1165.74,898.9 1166.05,772.9 1166.36,728.8 1166.67,772.9 1166.98,898.9 1167.12,898.9 1167.43,849.3 1167.74,832.0 1168.05,849.3 1168.36,898.9 1168.67,829.2 1168.98,804.9 1169.29,829.2 1169.60,898.9 1169.68,898.9 1169.99,853.5 1170.30,837.8 1170.57,853.5 1170.85,898.9 1171.12,827.0 1171.39,801.9 1171.69,827.0 1171.99,898.9 1172.29,843.6 1172.58,824.3 1172.89,843.6 1173.20,898.9 1173.39,898.9 1173.70,830.3 1174.01,806.3 1174.28,830.3 1174.55,898.9 1174.82,859.0 1175.09,845.1 1175.32,859.0 1175.56,898.9 1175.79,856.0 1176.02,841.1 1176.27,856.0 1176.52,898.9 1176.77,859.0 1177.01,845.1 1177.22,859.0 1177.42,898.9 1177.63,780.4 1177.83,738.9 1178.09,780.4 1178.34,898.9 1178.59,846.0 1178.84,827.6 1179.14,846.0 1179.44,898.9 1179.75,821.3 1180.05,794.3 1180.28,821.3 1180.52,898.9 1180.76,845.6 1181.00,827.1 1181.26,845.6 1181.53,898.9 1181.79,775.6 1182.06,732.5 1182.37,775.6 1182.68,898.9 1182.84,898.9 1183.15,822.7 1183.46,796.1 1183.77,822.7 1184.08,898.9 1184.26,898.9 1184.57,800.6 1184.88,766.3 1185.13,800.6 1185.38,898.9 1185.63,853.4 1185.88,837.7 1186.18,853.4 1186.49,898.9 1186.79,850.1 1187.09,833.1 1187.36,850.1 1187.63,898.9 1187.90,853.4 1188.17,837.7 1188.47,853.4 1188.76,898.9 1189.06,858.1 1189.36,844.0 1189.64,858.1 1189.93,898.9 1190.22,850.1 1190.51,833.1 1190.81,850.1 1191.10,898.9 1191.40,853.4 1191.69,837.7 1192.00,853.4 1192.31,898.9 1192.62,817.3 1192.93,788.8 1193.23,817.3 1193.52,898.9 1193.82,843.1 1194.12,823.6 1194.43,843.1 1194.74,898.9 1194.92,898.9 1195.23,812.8 1195.54,782.8 1195.81,812.8 1196.08,898.9 1196.34,880.4 1196.61,874.2 1196.85,880.4 1197.08,898.9 1197.32,879.1 1197.56,872.3 1197.87,879.1 1198.18,898.9 1198.35,898.9 1198.66,845.9 1198.97,827.5 1199.22,845.9 1199.47,898.9 1199.72,853.0 1199.98,837.1 1200.23,853.0 1200.48,898.9 1200.73,814.0 1200.98,784.4 1201.23,814.0 1201.48,898.9 1201.72,847.5 1201.97,829.7 1202.23,847.5 1202.48,898.9 1202.74,840.7 1202.99,820.4 1203.30,840.7 1203.61,898.9 1203.92,851.0 1204.23,834.4 1204.54,851.0 1204.85,898.9 1204.99,898.9 1205.30,845.1 1205.61,826.5 1205.92,845.1 1206.23,898.9 1206.37,898.9 1206.68,850.9 1206.99,834.2 1207.30,850.9 1207.61,898.9 1207.92,784.5 1208.22,744.5 1208.53,784.5 1208.84,898.9 1208.93,898.9 1209.24,852.7 1209.55,836.7 1209.86,852.7 1210.17,898.9 1210.42,898.9 1210.73,834.1 1211.04,811.6 1211.32,834.1 1211.60,898.9 1211.88,850.9 1212.16,834.3 1212.38,850.9 1212.61,898.9 1212.83,847.4 1213.05,829.5 1213.31,847.4 1213.57,898.9 1213.82,854.8 1214.08,839.5 1214.33,854.8 1214.57,898.9 1214.82,851.5 1215.07,835.1 1215.33,851.5 1215.60,898.9 1215.87,854.8 1216.13,839.5 1216.37,854.8 1216.60,898.9 1216.84,822.8 1217.08,796.3 1217.31,822.8 1217.54,898.9 1217.77,856.8 1218.00,842.2 1218.27,856.8 1218.54,898.9 1218.82,851.5 1219.09,835.1 1219.35,851.5 1219.60,898.9 1219.86,854.8 1220.11,839.5 1220.36,854.8 1220.61,898.9 1220.85,830.3 1221.10,806.3 1221.36,830.3 1221.62,898.9 1221.88,838.0 1222.14,816.8 1222.38,838.0 1222.63,898.9 1222.87,829.7 1223.12,805.5 1223.41,829.7 1223.71,898.9 1224.01,853.0 1224.31,837.0 1224.62,853.0 1224.93,898.9 1225.11,898.9 1225.42,798.4 1225.73,763.3 1226.02,798.4 1226.30,898.9 1226.59,835.4 1226.88,813.3 1227.19,835.4 1227.50,898.9 1227.53,898.9 1227.84,786.8 1228.15,747.6 1228.45,786.8 1228.74,898.9 1229.04,819.7 1229.34,792.1 1229.60,819.7 1229.85,898.9 1230.11,784.1 1230.36,743.9 1230.65,784.1 1230.95,898.9 1231.24,848.8 1231.53,831.4 1231.84,848.8 1232.15,898.9 1232.16,898.9 1232.47,817.6 1232.78,789.2 1233.09,817.6 1233.39,898.9 1233.45,898.9 1233.76,830.9 1234.07,807.2 1234.35,830.9 1234.63,898.9 1234.91,783.0 1235.19,742.5 1235.45,783.0 1235.71,898.9 1235.97,841.6 1236.23,821.7 1236.52,841.6 1236.82,898.9 1237.11,833.7 1237.40,811.0 1237.71,833.7 1238.02,898.9 1238.33,851.4 1238.63,834.9 1238.93,851.4 1239.23,898.9 1239.52,828.0 1239.82,803.3 1240.13,828.0 1240.43,898.9 1240.74,845.5 1241.04,826.9 1241.34,845.5 1241.64,898.9 1241.94,828.5 1242.23,803.9 1242.53,828.5 1242.83,898.9 1243.13,851.3 1243.43,834.8 1243.74,851.3 1244.05,898.9 1244.23,898.9 1244.54,837.4 1244.85,816.0 1245.14,837.4 1245.42,898.9 1245.71,851.2 1245.99,834.6 1246.26,851.2 1246.53,898.9 1246.80,810.3 1247.06,779.4 1247.37,810.3 1247.68,898.9 1247.73,898.9 1248.04,847.7 1248.35,830.0 1248.63,847.7 1248.91,898.9 1249.20,832.5 1249.48,809.3 1249.73,832.5 1249.99,898.9 1250.25,856.2 1250.50,841.4 1250.70,856.2 1250.90,898.9 1251.09,853.0 1251.29,837.1 1251.56,853.0 1251.83,898.9 1252.10,857.8 1252.37,843.5 1252.66,857.8 1252.94,898.9 1253.22,767.9 1253.50,722.0 1253.80,767.9 1254.09,898.9 1254.38,798.8 1254.68,763.9 1254.99,798.8 1255.30,898.9 1255.30,898.9 1255.61,786.3 1255.92,747.0 1256.23,786.3 1256.54,898.9 1256.74,898.9 1257.05,799.8 1257.36,765.1 1257.67,799.8 1257.98,898.9 1258.12,898.9 1258.43,751.5 1258.74,699.9 1259.01,751.5 1259.28,898.9 1259.55,823.0 1259.83,796.5 1260.11,823.0 1260.39,898.9 1260.67,813.1 1260.95,783.2 1261.24,813.1 1261.53,898.9 1261.81,834.6 1262.10,812.2 1262.41,834.6 1262.72,898.9 1262.75,898.9 1263.06,814.6 1263.37,785.2 1263.67,814.6 1263.98,898.9 1264.01,898.9 1264.32,836.7 1264.63,815.1 1264.94,836.7 1265.25,898.9 1265.36,898.9 1265.67,803.1 1265.98,769.7 1266.28,803.1 1266.57,898.9 1266.86,846.5 1267.16,828.3 1267.42,846.5 1267.68,898.9 1267.94,812.1 1268.20,781.8 1268.44,812.1 1268.69,898.9 1268.94,831.6 1269.19,808.2 1269.39,831.6 1269.60,898.9 1269.80,812.1 1270.01,781.8 1270.32,812.1 1270.63,898.9 1270.94,842.9 1271.25,823.4 1271.56,842.9 1271.87,898.9 1272.00,898.9 1272.31,800.2 1272.62,765.7 1272.92,800.2 1273.22,898.9 1273.51,826.5 1273.81,801.3 1274.12,826.5 1274.42,898.9 1274.73,818.0 1275.04,789.8 1275.35,818.0 1275.66,898.9 1275.79,898.9 1276.10,840.0 1276.41,819.6 1276.72,840.0 1277.03,898.9 1277.03,898.9 1277.34,800.6 1277.65,766.3 1277.93,800.6 1278.21,898.9 1278.48,830.9 1278.76,807.2 1279.07,830.9 1279.38,898.9 1279.45,898.9 1279.76,816.5 1280.07,787.8 1280.38,816.5 1280.69,898.9 1280.77,898.9 1281.08,835.7 1281.39,813.8 1281.66,835.7 1281.94,898.9 1282.21,818.5 1282.48,790.4 1282.79,818.5 1283.09,898.9 1283.39,832.2 1283.69,809.0 1283.99,832.2 1284.30,898.9 1284.60,793.5 1284.90,756.6 1285.21,793.5 1285.52,898.9 1285.62,898.9 1285.93,810.0 1286.24,778.9 1286.55,810.0 1286.86,898.9 1286.90,898.9 1287.21,793.0 1287.52,756.0 1287.80,793.0 1288.08,898.9 1288.36,854.0 1288.64,838.4 1288.91,854.0 1289.19,898.9 1289.46,828.2 1289.73,803.5 1290.01,828.2 1290.29,898.9 1290.57,841.8 1290.84,821.9 1291.07,841.8 1291.29,898.9 1291.52,819.2 1291.74,791.4 1292.03,819.2 1292.32,898.9 1292.61,845.7 1292.90,827.1 1293.21,845.7 1293.52,898.9 1293.54,898.9 1293.85,811.6 1294.16,781.2 1294.46,811.6 1294.76,898.9 1295.07,821.0 1295.37,793.8 1295.68,821.0 1295.99,898.9 1296.15,898.9 1296.46,748.8 1296.77,696.2 1297.08,748.8 1297.39,898.9 1297.41,898.9 1297.72,832.0 1298.03,808.7 1298.32,832.0 1298.61,898.9 1298.90,802.7 1299.19,769.1 1299.50,802.7 1299.81,898.9 1299.91,898.9 1300.22,829.9 1300.53,805.9 1300.84,829.9 1301.15,898.9 1301.18,898.9 1301.49,780.8 1301.80,739.5 1302.11,780.8 1302.42,898.9 1302.53,898.9 1302.84,823.6 1303.15,797.4 1303.46,823.6 1303.77,898.9 1303.80,898.9 1304.11,794.7 1304.42,758.2 1304.73,794.7 1305.04,898.9 1305.04,898.9 1305.35,809.0 1305.66,777.6 1305.96,809.0 1306.25,898.9 1306.54,780.1 1306.84,738.5 1307.14,780.1 1307.44,898.9 1307.75,823.6 1308.05,797.4 1308.35,823.6 1308.65,898.9 1308.95,799.4 1309.25,764.7 1309.48,799.4 1309.70,898.9 1309.93,820.4 1310.16,793.1 1310.43,820.4 1310.71,898.9 1310.99,792.7 1311.26,755.6 1311.51,792.7 1311.75,898.9 1312.00,873.5 1312.24,864.8 1312.50,873.5 1312.76,898.9 1313.02,871.7 1313.28,862.3 1313.55,871.7 1313.83,898.9 1314.10,873.5 1314.38,864.8 1314.69,873.5 1315.00,898.9 1315.07,898.9 1315.38,816.5 1315.69,787.8 1315.96,816.5 1316.24,898.9 1316.51,836.2 1316.79,814.3 1317.02,836.2 1317.24,898.9 1317.47,816.1 1317.70,787.2 1317.97,816.1 1318.25,898.9 1318.52,840.0 1318.79,819.5 1319.02,840.0 1319.25,898.9 1319.48,819.2 1319.71,791.4 1319.98,819.2 1320.25,898.9 1320.52,863.5 1320.79,851.3 1321.07,863.5 1321.36,898.9 1321.64,860.9 1321.93,847.8 1322.16,860.9 1322.39,898.9 1322.61,873.5 1322.84,864.8 1323.07,873.5 1323.29,898.9 1323.52,871.7 1323.74,862.3 1323.99,871.7 1324.24,898.9 1324.49,873.5 1324.74,864.8 1325.04,873.5 1325.35,898.9 1325.65,831.7 1325.95,808.3 1326.22,831.7 1326.49,898.9 1326.76,844.0 1327.02,824.9 1327.26,844.0 1327.50,898.9 1327.73,792.7 1327.97,755.6 1328.24,792.7 1328.52,898.9 1328.79,848.1 1329.06,830.5 1329.37,848.1 1329.68,898.9 1329.76,898.9 1330.07,836.4 1330.38,814.6 1330.64,836.4 1330.91,898.9 1331.17,847.3 1331.44,829.4 1331.73,847.3 1332.02,898.9 1332.31,796.9 1332.60,761.2 1332.87,796.9 1333.14,898.9 1333.42,840.3 1333.69,819.9 1333.97,840.3 1334.25,898.9 1334.53,829.7 1334.81,805.5 1335.07,829.7 1335.34,898.9 1335.60,841.8 1335.86,822.0 1336.15,841.8 1336.44,898.9 1336.73,811.8 1337.02,781.4 1337.29,811.8 1337.56,898.9 1337.83,836.5 1338.10,814.7 1338.33,836.5 1338.57,898.9 1338.80,809.5 1339.04,778.4 1339.31,809.5 1339.58,898.9 1339.86,831.8 1340.13,808.4 1340.44,831.8 1340.75,898.9 1340.83,898.9 1341.14,810.1 1341.45,779.2 1341.75,810.1 1342.05,898.9 1342.35,845.1 1342.65,826.4 1342.95,845.1 1343.26,898.9 1343.56,836.7 1343.87,815.0 1344.15,836.7 1344.43,898.9 1344.72,846.1 1345.00,827.7 1345.27,846.1 1345.54,898.9 1345.81,820.6 1346.08,793.2 1346.39,820.6 1346.70,898.9 1346.77,898.9 1347.08,832.6 1347.39,809.5 1347.67,832.6 1347.94,898.9 1348.22,820.6 1348.49,793.2 1348.72,820.6 1348.95,898.9 1349.18,835.7 1349.41,813.7 1349.69,835.7 1349.96,898.9 1350.23,799.9 1350.51,765.3 1350.82,799.9 1351.13,898.9 1351.22,898.9 1351.53,827.1 1351.84,802.0 1352.15,827.1 1352.46,898.9 1352.50,898.9 1352.81,777.4 1353.12,734.9 1353.43,777.4 1353.74,898.9 1353.83,898.9 1354.14,810.8 1354.45,780.0 1354.72,810.8 1354.99,898.9 1355.26,724.2 1355.54,663.0 1355.81,724.2 1356.09,898.9 1356.36,813.3 1356.64,783.5 1356.95,813.3 1357.26,898.9 1357.33,898.9 1357.64,777.1 1357.95,734.5 1358.20,777.1 1358.45,898.9 1358.70,821.8 1358.95,794.9 1359.26,821.8 1359.56,898.9 1359.86,802.7 1360.17,769.1 1360.43,802.7 1360.69,898.9 1360.95,824.7 1361.21,798.9 1361.46,824.7 1361.70,898.9 1361.94,810.1 1362.18,779.2 1362.49,810.1 1362.80,898.9 1362.83,898.9 1363.14,819.7 1363.45,792.1 1363.76,819.7 1364.07,898.9 1364.18,898.9 1364.49,800.9 1364.80,766.7 1365.09,800.9 1365.38,898.9 1365.67,844.5 1365.96,825.6 1366.22,844.5 1366.48,898.9 1366.75,815.8 1367.01,786.8 1367.32,815.8 1367.63,898.9 1367.75,898.9 1368.06,842.1 1368.37,822.3 1368.68,842.1 1368.99,898.9 1369.01,898.9 1369.32,814.0 1369.62,784.4 1369.93,814.0 1370.23,898.9 1370.53,828.3 1370.83,803.7 1371.13,828.3 1371.44,898.9 1371.74,737.9 1372.04,681.6 1372.29,737.9 1372.54,898.9 1372.79,847.3 1373.04,829.3 1373.29,847.3 1373.55,898.9 1373.80,819.5 1374.05,791.8 1374.36,819.5 1374.67,898.9 1374.69,898.9 1375.00,840.8 1375.31,820.6 1375.62,840.8 1375.93,898.9 1376.05,898.9 1376.36,828.5 1376.67,803.9 1376.90,828.5 1377.13,898.9 1377.35,845.7 1377.58,827.2 1377.86,845.7 1378.13,898.9 1378.41,835.6 1378.68,813.6 1378.91,835.6 1379.14,898.9 1379.37,856.5 1379.60,841.7 1379.87,856.5 1380.15,898.9 1380.42,849.0 1380.69,831.7 1381.00,849.0 1381.31,898.9 1381.48,898.9 1381.79,852.9 1382.10,836.9 1382.40,852.9 1382.70,898.9 1383.01,792.7 1383.31,755.6 1383.58,792.7 1383.84,898.9 1384.11,814.4 1384.37,785.0 1384.61,814.4 1384.85,898.9 1385.08,802.7 1385.32,769.1 1385.63,802.7 1385.94,898.9 1385.96,898.9 1386.27,834.9 1386.58,812.7 1386.87,834.9 1387.16,898.9 1387.45,827.0 1387.74,801.9 1388.01,827.0 1388.27,898.9 1388.54,845.2 1388.81,826.6 1389.04,845.2 1389.28,898.9 1389.51,837.4 1389.75,816.0 1390.06,837.4 1390.37,898.9 1390.44,898.9 1390.75,845.4 1391.06,826.8 1391.34,845.4 1391.61,898.9 1391.89,791.7 1392.16,754.2 1392.47,791.7 1392.78,898.9 1393.09,836.7 1393.40,815.1 1393.71,836.7 1394.02,898.9 1394.16,898.9 1394.47,823.0 1394.78,796.5 1395.06,823.0 1395.33,898.9 1395.60,841.9 1395.88,822.0 1396.16,841.9 1396.44,898.9 1396.72,788.0 1396.99,749.2 1397.30,788.0 1397.61,898.9 1397.87,898.9 1398.18,836.9 1398.49,815.3 1398.80,836.9 1399.11,898.9 1399.19,898.9 1399.50,809.1 1399.81,777.8 1400.06,809.1 1400.31,898.9 1400.55,821.7 1400.80,794.7 1401.06,821.7 1401.31,898.9 1401.57,788.0 1401.83,749.2 1402.13,788.0 1402.44,898.9 1402.51,898.9 1402.82,830.8 1403.13,807.0 1403.41,830.8 1403.69,898.9 1403.96,813.9 1404.24,784.2 1404.54,813.9 1404.84,898.9 1405.14,834.3 1405.45,811.8 1405.76,834.3 1406.07,898.9 1406.24,898.9 1406.55,826.5 1406.86,801.3 1407.13,826.5 1407.41,898.9 1407.69,849.8 1407.97,832.7 1408.28,849.8 1408.59,898.9 1408.65,898.9 1408.96,839.3 1409.27,818.6 1409.54,839.3 1409.80,898.9 1410.07,854.7 1410.33,839.4 1410.62,854.7 1410.91,898.9 1411.20,833.4 1411.49,810.6 1411.75,833.4 1412.02,898.9 1412.28,851.9 1412.55,835.6 1412.78,851.9 1413.02,898.9 1413.26,842.2 1413.50,822.4 1413.81,842.2 1414.12,898.9 1414.20,898.9 1414.51,854.5 1414.82,839.1 1415.09,854.5 1415.36,898.9 1415.64,778.9 1415.91,736.9 1416.19,778.9 1416.47,898.9 1416.76,844.7 1417.04,825.8 1417.35,844.7 1417.66,898.9 1417.71,898.9 1418.02,818.0 1418.33,789.8 1418.60,818.0 1418.87,898.9 1419.14,849.6 1419.41,832.5 1419.70,849.6 1419.98,898.9 1420.26,749.5 1420.54,697.2 1420.82,749.5 1421.09,898.9 1421.37,784.4 1421.65,744.3 1421.96,784.4 1422.27,898.9 1422.34,898.9 1422.65,764.9 1422.96,718.0 1423.27,764.9 1423.58,898.9 1423.94,898.9 1424.25,839.1 1424.56,818.3 1424.87,839.1 1425.18,898.9 1425.36,898.9 1425.66,818.3 1425.97,790.2 1426.23,818.3 1426.48,898.9 1426.74,833.1 1426.99,810.2 1427.24,833.1 1427.49,898.9 1427.74,822.1 1427.99,795.3 1428.28,822.1 1428.57,898.9 1428.86,834.1 1429.16,811.5 1429.47,834.1 1429.78,898.9 1429.78,898.9 1430.09,788.6 1430.40,750.0 1430.71,788.6 1431.02,898.9 1431.11,898.9 1431.42,825.8 1431.73,800.3 1432.04,825.8 1432.35,898.9 1432.40,898.9 1432.71,789.0 1433.02,750.6 1433.27,789.0 1433.52,898.9 1433.77,808.5 1434.02,776.9 1434.27,808.5 1434.52,898.9 1434.78,762.5 1435.03,714.8 1435.30,762.5 1435.56,898.9 1435.83,861.1 1436.10,848.0 1436.33,861.1 1436.57,898.9 1436.81,858.2 1437.04,844.2 1437.33,858.2 1437.61,898.9 1437.90,877.7 1438.18,870.4 1438.49,877.7 1438.80,898.9 1438.84,898.9 1439.15,876.1 1439.46,868.3 1439.71,876.1 1439.96,898.9 1440.21,877.7 1440.46,870.4 1440.71,877.7 1440.96,898.9 1441.22,822.8 1441.47,796.3 1441.72,822.8 1441.97,898.9 1442.21,848.1 1442.46,830.4 1442.77,848.1 1443.07,898.9 1443.38,796.1 1443.68,760.2 1443.99,796.1 1444.30,898.9 1444.61,844.8 1444.91,826.0 1445.21,844.8 1445.51,898.9 1445.80,834.1 1446.10,811.6 1446.37,834.1 1446.65,898.9 1446.92,850.3 1447.20,833.5 1447.51,850.3 1447.82,898.9 1447.90,898.9 1448.21,796.9 1448.52,761.2 1448.83,796.9 1449.13,898.9 1449.29,898.9 1449.60,816.5 1449.91,787.7 1450.22,816.5 1450.52,898.9 1450.83,804.2 1451.13,771.1 1451.38,804.2 1451.62,898.9 1451.86,828.9 1452.11,804.5 1452.37,828.9 1452.63,898.9 1452.88,803.9 1453.14,770.7 1453.45,803.9 1453.76,898.9 1453.83,898.9 1454.14,832.1 1454.45,808.8 1454.76,832.1 1455.07,898.9 1455.34,898.9 1455.65,762.9 1455.96,715.4 1456.23,762.9 1456.50,898.9 1456.77,819.9 1457.05,792.3 1457.33,819.9 1457.61,898.9 1457.89,800.5 1458.17,766.1 1458.46,800.5 1458.75,898.9 1459.04,847.3 1459.32,829.3 1459.63,847.3 1459.94,898.9 1459.97,898.9 1460.28,825.0 1460.59,799.3 1460.90,825.0 1461.21,898.9 1461.28,898.9 1461.59,854.1 1461.90,838.6 1462.21,854.1 1462.52,898.9 1462.59,898.9 1462.90,850.8 1463.21,834.1 1463.47,850.8 1463.73,898.9 1463.99,854.1 1464.25,838.6 1464.49,854.1 1464.74,898.9 1464.98,834.9 1465.22,812.6 1465.53,834.9 1465.84,898.9 1465.92,898.9 1466.23,844.3 1466.54,825.3 1466.85,844.3 1467.16,898.9 1467.22,898.9 1467.53,828.8 1467.84,804.3 1468.11,828.8 1468.38,898.9 1468.65,840.6 1468.93,820.3 1469.16,840.6 1469.39,898.9 1469.62,787.5 1469.85,748.6 1470.16,787.5 1470.47,898.9 1470.63,898.9 1470.94,816.3 1471.25,787.5 1471.56,816.3 1471.87,898.9 1472.25,898.9 1472.56,801.7 1472.87,767.7 1473.18,801.7 1473.49,898.9 1473.52,898.9 1473.83,821.9 1474.14,795.1 1474.43,821.9 1474.71,898.9 1475.00,804.3 1475.28,771.3 1475.57,804.3 1475.85,898.9 1476.14,838.1 1476.42,817.0 1476.73,838.1 1477.04,898.9 1477.08,898.9 1477.39,807.2 1477.70,775.1 1477.97,807.2 1478.24,898.9 1478.51,844.6 1478.79,825.7 1479.07,844.6 1479.35,898.9 1479.63,817.6 1479.91,789.2 1480.20,817.6 1480.50,898.9 1480.79,848.8 1481.08,831.4 1481.39,848.8 1481.70,898.9 1481.71,898.9 1482.02,843.1 1482.33,823.6 1482.57,843.1 1482.82,898.9 1483.07,856.7 1483.32,842.0 1483.57,856.7 1483.83,898.9 1484.08,792.7 1484.34,755.6 1484.65,792.7 1484.95,898.9 1485.26,834.3 1485.57,811.8 1485.88,834.3 1486.19,898.9 1486.33,898.9 1486.64,820.6 1486.95,793.2 1487.26,820.6 1487.57,898.9 1487.61,898.9 1487.92,829.1 1488.23,804.8 1488.52,829.1 1488.80,898.9 1489.08,777.8 1489.37,735.5 1489.66,777.8 1489.96,898.9 1490.25,828.3 1490.55,803.7 1490.86,828.3 1491.17,898.9 1491.48,806.4 1491.78,774.1 1492.09,806.4 1492.39,898.9 1492.69,850.3 1493.00,833.4 1493.31,850.3 1493.62,898.9 1493.78,898.9 1494.09,837.4 1494.40,816.0 1494.71,837.4 1495.02,898.9 1495.19,898.9 1495.50,814.6 1495.81,785.2 1496.11,814.6 1496.41,898.9 1496.71,776.8 1497.02,734.1 1497.33,776.8 1497.64,898.9 1497.80,898.9 1498.11,852.0 1498.42,835.7 1498.73,852.0 1499.04,898.9 1499.21,898.9 1499.52,844.1 1499.83,825.0 1500.08,844.1 1500.33,898.9 1500.57,854.6 1500.82,839.2 1501.08,854.6 1501.33,898.9 1501.59,821.8 1501.85,794.9 1502.13,821.8 1502.41,898.9 1502.69,846.8 1502.97,828.7 1503.24,846.8 1503.51,898.9 1503.79,825.9 1504.06,800.5 1504.36,825.9 1504.65,898.9 1504.95,849.9 1505.25,832.8 1505.55,849.9 1505.86,898.9 1506.17,825.9 1506.47,800.5 1506.75,825.9 1507.03,898.9 1507.30,850.7 1507.58,833.9 1507.80,850.7 1508.03,898.9 1508.26,847.1 1508.49,829.1 1508.80,847.1 1509.11,898.9 1509.28,898.9 1509.59,807.2 1509.90,775.1 1510.21,807.2 1510.52,898.9 1510.65,898.9 1510.96,852.0 1511.27,835.7 1511.58,852.0 1511.89,898.9 1511.89,898.9 1512.20,838.9 1512.51,818.0 1512.79,838.9 1513.07,898.9 1513.35,845.7 1513.63,827.2 1513.85,845.7 1514.08,898.9 1514.30,788.7 1514.53,750.2 1514.84,788.7 1515.14,898.9 1515.21,898.9 1515.52,826.1 1515.83,800.7 1516.14,826.1 1516.45,898.9 1516.52,898.9 1516.83,816.3 1517.14,787.4 1517.45,816.3 1517.76,898.9 1518.07,846.0 1518.38,827.6 1518.67,846.0 1518.97,898.9 1519.26,841.6 1519.56,821.6 1519.87,841.6 1520.18,898.9 1520.55,898.9 1520.86,820.6 1521.17,793.2 1521.48,820.6 1521.78,898.9 1522.09,849.3 1522.40,832.0 1522.70,849.3 1522.99,898.9 1523.29,845.6 1523.58,827.1 1523.89,845.6 1524.20,898.9 1524.22,898.9 1524.53,849.3 1524.84,832.0 1525.13,849.3 1525.42,898.9 1525.71,808.8 1526.00,777.3 1526.29,808.8 1526.59,898.9 1526.89,836.7 1527.19,815.0 1527.44,836.7 1527.70,898.9 1527.95,824.0 1528.21,797.9 1528.49,824.0 1528.76,898.9 1529.04,834.7 1529.32,812.4 1529.63,834.7 1529.94,898.9 1530.01,898.9 1530.32,792.7 1530.62,755.6 1530.92,792.7 1531.21,898.9 1531.50,855.1 1531.79,840.0 1532.10,855.1 1532.41,898.9 1532.42,898.9 1532.73,846.8 1533.04,828.7 1533.29,846.8 1533.54,898.9 1533.80,858.0 1534.05,843.8 1534.30,858.0 1534.55,898.9 1534.80,855.0 1535.05,839.7 1535.36,855.0 1535.67,898.9 1536.04,898.9 1536.35,834.9 1536.66,812.6 1536.92,834.9 1537.17,898.9 1537.42,841.7 1537.68,821.7 1537.98,841.7 1538.28,898.9 1538.58,797.9 1538.88,762.7 1539.14,797.9 1539.40,898.9 1539.67,848.2 1539.93,830.6 1540.22,848.2 1540.51,898.9 1540.80,837.4 1541.09,816.0 1541.31,837.4 1541.54,898.9 1541.76,845.8 1541.98,827.3 1542.26,845.8 1542.54,898.9 1542.82,801.4 1543.10,767.3 1543.41,801.4 1543.72,898.9 1543.81,898.9 1544.12,815.3 1544.43,786.2 1544.74,815.3 1545.05,898.9 1545.10,898.9 1545.41,800.2 1545.72,765.7 1546.02,800.2 1546.32,898.9 1546.62,827.1 1546.92,802.1 1547.22,827.1 1547.53,898.9 1547.83,807.6 1548.13,775.7 1548.44,807.6 1548.75,898.9 1548.90,898.9 1549.21,847.5 1549.52,829.6 1549.83,847.5 1550.14,898.9 1550.44,821.5 1550.75,794.5 1551.05,821.5 1551.34,898.9 1551.64,862.2 1551.93,849.5 1552.24,862.2 1552.55,898.9 1552.86,859.4 1553.16,845.8 1553.40,859.4 1553.63,898.9 1553.86,862.2 1554.10,849.5 1554.37,862.2 1554.64,898.9 1554.91,807.9 1555.18,776.1 1555.49,807.9 1555.80,898.9 1555.94,898.9 1556.25,843.9 1556.56,824.8 1556.87,843.9 1557.18,898.9 1557.49,827.3 1557.79,802.3 1558.07,827.3 1558.34,898.9 1558.61,838.3 1558.89,817.3 1559.17,838.3 1559.45,898.9 1559.73,805.8 1560.01,773.3 1560.29,805.8 1560.58,898.9 1560.87,841.2 1561.15,821.1 1561.46,841.2 1561.77,898.9 1561.80,898.9 1562.11,812.1 1562.42,781.8 1562.72,812.1 1563.02,898.9 1563.32,853.4 1563.62,837.6 1563.92,853.4 1564.23,898.9 1564.53,846.8 1564.84,828.7 1565.12,846.8 1565.39,898.9 1565.67,856.2 1565.95,841.4 1566.17,856.2 1566.40,898.9 1566.62,818.0 1566.85,789.8 1567.16,818.0 1567.47,898.9 1567.78,898.9 1568.09,835.5 1568.40,813.4 1568.71,835.5 1569.02,898.9 1569.25,898.9 1569.56,825.2 1569.87,799.5 1570.17,825.2 1570.48,898.9 1570.78,845.1 1571.09,826.4 1571.40,845.1 1571.71,898.9 1571.87,898.9 1572.18,832.2 1572.49,808.9 1572.79,832.2 1573.09,898.9 1573.39,849.2 1573.70,831.9 1574.01,849.2 1574.32,898.9 1574.48,898.9 1574.79,797.9 1575.10,762.7 1575.37,797.9 1575.65,898.9 1575.92,856.0 1576.19,841.1 1576.50,856.0 1576.81,898.9 1576.90,898.9 1577.21,843.1 1577.52,823.6 1577.83,843.1 1578.14,898.9 1578.23,898.9 1578.54,851.2 1578.85,834.7 1579.16,851.2 1579.47,898.9 1579.71,898.9 1580.02,815.8 1580.33,786.8 1580.64,815.8 1580.95,898.9 1581.07,898.9 1581.38,847.3 1581.69,829.3 1582.00,847.3 1582.31,898.9 1582.33,898.9 1582.64,830.7 1582.95,806.9 1583.26,830.7 1583.56,898.9 1583.87,842.1 1584.18,822.3 1584.49,842.1 1584.80,898.9 1584.95,898.9 1585.26,834.1 1585.57,811.6 1585.87,834.1 1586.18,898.9 1586.48,844.4 1586.79,825.4 1587.04,844.4 1587.30,898.9 1587.55,852.0 1587.80,835.8 1588.10,852.0 1588.40,898.9 1588.69,797.9 1588.99,762.7 1589.25,797.9 1589.51,898.9 1589.77,822.8 1590.04,796.3 1590.35,822.8 1590.66,898.9"/>
<polyline class="s" clip-path="url(#c3)" points="946.75,897.7 947.06,982.8 947.37,1012.5 947.68,982.8 947.99,897.7 948.39,897.7 948.70,997.1 949.01,1031.8 949.29,997.1 949.57,897.7 949.84,971.4 950.12,997.1 950.43,971.4 950.74,897.7 950.81,897.7 951.12,1000.8 951.43,1036.9 951.74,1000.8 952.05,897.7 952.22,897.7 952.53,986.8 952.84,1017.9 953.14,986.8 953.44,897.7 953.74,1005.3 954.04,1042.9 954.32,1005.3 954.60,897.7 954.88,963.6 955.16,986.6 955.47,963.6 955.78,897.7 955.84,897.7 956.15,977.0 956.46,1004.7 956.77,977.0 957.08,897.7 957.13,897.7 957.44,948.0 957.75,965.4 958.06,948.0 958.37,897.7 958.46,897.7 958.77,988.9 959.08,1020.8 959.38,988.9 959.70,897.7 959.71,897.7 960.02,978.8 960.33,1007.1 960.62,978.8 960.91,897.7 961.20,992.2 961.49,1025.2 961.79,992.2 962.09,897.7 962.39,968.6 962.69,993.3 962.94,968.6 963.20,897.7 963.45,982.2 963.70,1011.7 964.01,982.2 964.32,897.7 964.41,897.7 964.72,959.9 965.03,981.5 965.30,959.9 965.57,897.7 965.85,982.7 966.12,1012.3 966.43,982.7 966.74,897.7 966.81,897.7 967.12,969.4 967.43,994.4 967.71,969.4 967.98,897.7 968.26,989.7 968.53,1021.8 968.82,989.7 969.11,897.7 969.40,941.7 969.69,956.9 969.95,941.7 970.22,897.7 970.48,968.1 970.75,992.6 971.05,968.1 971.36,897.7 971.67,951.7 971.98,970.5 972.27,951.7 972.57,897.7 972.87,974.8 973.16,1001.6 973.47,974.8 973.77,897.7 974.07,955.5 974.37,975.7 974.68,955.5 974.99,897.7 975.16,897.7 975.47,999.4 975.78,1034.8 976.07,999.4 976.35,897.7 976.64,973.9 976.93,1000.4 977.24,973.9 977.55,897.7 977.57,897.7 977.88,1011.0 978.19,1050.5 978.46,1011.0 978.72,897.7 978.99,970.7 979.25,996.1 979.49,970.7 979.73,897.7 979.97,987.1 980.21,1018.3 980.52,987.1 980.83,897.7 980.85,897.7 981.16,971.0 981.47,996.5 981.78,971.0 982.09,897.7 982.20,897.7 982.51,1008.0 982.82,1046.5 983.10,1008.0 983.38,897.7 983.66,954.8 983.94,974.6 984.17,954.8 984.39,897.7 984.61,971.1 984.84,996.6 985.13,971.1 985.43,897.7 985.72,957.4 986.02,978.2 986.33,957.4 986.64,897.7 986.94,1041.8 987.25,1092.2 987.53,1041.8 987.80,897.7 988.08,957.8 988.35,978.7 988.66,957.8 988.97,897.7 989.04,897.7 989.36,992.2 989.66,1025.2 989.94,992.2 990.22,897.7 990.49,948.6 990.77,966.3 991.00,948.6 991.22,897.7 991.45,971.1 991.68,996.6 991.95,971.1 992.23,897.7 992.50,960.0 992.78,981.7 993.06,960.0 993.33,897.7 993.61,986.3 993.89,1017.1 994.20,986.3 994.51,897.7 994.56,897.7 994.87,946.2 995.18,963.0 995.46,946.2 995.74,897.7 996.02,972.8 996.31,999.0 996.62,972.8 996.93,897.7 996.99,897.7 997.30,965.2 997.61,988.7 997.92,965.2 998.23,897.7 998.30,897.7 998.61,1022.0 998.92,1065.4 999.23,1022.0 999.54,897.7 999.68,897.7 999.99,982.8 1000.30,1012.5 1000.61,982.8 1000.92,897.7 1001.12,897.7 1001.43,1004.6 1001.74,1041.9 1002.05,1004.6 1002.36,897.7 1002.42,897.7 1002.73,972.7 1003.04,998.9 1003.35,972.7 1003.66,897.7 1003.74,897.7 1004.05,997.9 1004.36,1032.8 1004.64,997.9 1004.93,897.7 1005.22,950.4 1005.51,968.6 1005.82,950.4 1006.13,897.7 1006.15,897.7 1006.46,977.0 1006.77,1004.7 1007.07,977.0 1007.36,897.7 1007.66,960.8 1007.95,982.8 1008.21,960.8 1008.47,897.7 1008.73,977.8 1008.99,1005.7 1009.30,977.8 1009.61,897.7 1009.64,897.7 1009.95,966.6 1010.26,990.6 1010.55,966.6 1010.83,897.7 1011.12,986.0 1011.40,1016.7 1011.69,986.0 1011.97,897.7 1012.26,952.2 1012.55,971.1 1012.86,952.2 1013.17,897.7 1013.20,897.7 1013.51,958.4 1013.82,979.5 1014.12,958.4 1014.44,897.7 1014.61,897.7 1014.92,948.1 1015.23,965.6 1015.53,948.1 1015.83,897.7 1016.13,962.1 1016.43,984.5 1016.70,962.1 1016.96,897.7 1017.23,954.1 1017.50,973.6 1017.73,954.1 1017.97,897.7 1018.21,968.4 1018.44,993.0 1018.75,968.4 1019.06,897.7 1019.10,897.7 1019.41,945.2 1019.72,961.6 1020.00,945.2 1020.29,897.7 1020.57,1003.5 1020.86,1040.5 1021.17,1003.5 1021.48,897.7 1021.62,897.7 1021.93,963.6 1022.24,986.5 1022.55,963.6 1022.86,897.7 1023.17,983.7 1023.48,1013.7 1023.79,983.7 1024.10,897.7 1024.18,897.7 1024.49,957.2 1024.80,977.8 1025.07,957.2 1025.34,897.7 1025.62,1005.3 1025.89,1042.9 1026.20,1005.3 1026.51,897.7 1026.55,897.7 1026.86,965.0 1027.17,988.4 1027.48,965.0 1027.79,897.7 1027.89,897.7 1028.20,988.5 1028.51,1020.2 1028.81,988.5 1029.11,897.7 1029.41,953.7 1029.71,973.1 1030.01,953.7 1030.32,897.7 1030.62,1040.0 1030.92,1089.8 1031.22,1040.0 1031.51,897.7 1031.80,961.7 1032.10,983.9 1032.36,961.7 1032.62,897.7 1032.88,992.7 1033.13,1025.8 1033.43,992.7 1033.72,897.7 1034.01,964.8 1034.30,988.1 1034.61,964.8 1034.92,897.7 1034.93,897.7 1035.24,996.1 1035.55,1030.4 1035.86,996.1 1036.17,897.7 1036.24,897.7 1036.55,954.0 1036.86,973.6 1037.14,954.0 1037.41,897.7 1037.69,986.7 1037.96,1017.7 1038.27,986.7 1038.58,897.7 1038.72,897.7 1039.03,951.2 1039.34,969.7 1039.65,951.2 1039.96,897.7 1039.96,897.7 1040.27,970.6 1040.58,996.0 1040.88,970.6 1041.17,897.7 1041.47,950.0 1041.76,968.1 1042.07,950.0 1042.38,897.7 1042.69,970.3 1043.00,995.6 1043.26,970.3 1043.52,897.7 1043.78,949.2 1044.04,967.0 1044.34,949.2 1044.63,897.7 1044.92,992.2 1045.21,1025.2 1045.52,992.2 1045.83,897.7 1045.86,897.7 1046.17,956.7 1046.48,977.2 1046.76,956.7 1047.05,897.7 1047.34,1012.0 1047.62,1052.0 1047.93,1012.0 1048.24,897.7 1048.25,897.7 1048.56,973.4 1048.87,999.8 1049.16,973.4 1049.46,897.7 1049.75,1002.8 1050.04,1039.5 1050.31,1002.8 1050.58,897.7 1050.86,956.7 1051.13,977.2 1051.41,956.7 1051.69,897.7 1051.97,987.1 1052.25,1018.3 1052.56,987.1 1052.87,897.7 1052.94,897.7 1053.25,965.5 1053.56,989.0 1053.84,965.5 1054.12,897.7 1054.39,999.8 1054.67,1035.5 1054.98,999.8 1055.29,897.7 1055.38,897.7 1055.69,951.8 1056.00,970.5 1056.27,951.8 1056.54,897.7 1056.81,982.7 1057.08,1012.3 1057.36,982.7 1057.63,897.7 1057.91,940.1 1058.18,954.8 1058.41,940.1 1058.64,897.7 1058.87,945.7 1059.10,962.4 1059.31,945.7 1059.52,897.7 1059.74,941.1 1059.95,956.1 1060.19,941.1 1060.43,897.7 1060.67,999.1 1060.91,1034.4 1061.21,999.1 1061.51,897.7 1061.82,952.4 1062.12,971.4 1062.37,952.4 1062.62,897.7 1062.87,962.1 1063.12,984.5 1063.36,962.1 1063.59,897.7 1063.82,953.2 1064.06,972.5 1064.33,953.2 1064.60,897.7 1064.86,970.3 1065.13,995.6 1065.42,970.3 1065.71,897.7 1066.00,940.5 1066.29,955.3 1066.55,940.5 1066.82,897.7 1067.08,948.7 1067.35,966.4 1067.65,948.7 1067.95,897.7 1068.26,938.6 1068.56,952.7 1068.86,938.6 1069.16,897.7 1069.46,970.3 1069.76,995.6 1070.04,970.3 1070.31,897.7 1070.58,948.2 1070.85,965.7 1071.08,948.2 1071.31,897.7 1071.54,959.9 1071.78,981.5 1072.09,959.9 1072.39,897.7 1072.57,897.7 1072.88,944.4 1073.19,960.6 1073.49,944.4 1073.79,897.7 1074.09,979.7 1074.39,1008.3 1074.70,979.7 1075.01,897.7 1075.30,897.7 1075.61,963.5 1075.92,986.3 1076.23,963.5 1076.54,897.7 1076.59,897.7 1076.90,986.0 1077.21,1016.7 1077.47,986.0 1077.73,897.7 1077.99,962.7 1078.25,985.3 1078.50,962.7 1078.74,897.7 1078.98,997.6 1079.22,1032.4 1079.52,997.6 1079.82,897.7 1080.12,960.7 1080.43,982.6 1080.74,960.7 1081.05,897.7 1081.22,897.7 1081.53,1021.0 1081.84,1064.0 1082.09,1021.0 1082.35,897.7 1082.60,976.7 1082.86,1004.2 1083.10,976.7 1083.35,897.7 1083.60,1006.1 1083.85,1043.9 1084.13,1006.1 1084.40,897.7 1084.68,963.9 1084.95,987.0 1085.26,963.9 1085.57,897.7 1085.65,897.7 1085.96,1020.2 1086.27,1063.0 1086.54,1020.2 1086.81,897.7 1087.09,991.7 1087.36,1024.5 1087.64,991.7 1087.92,897.7 1088.20,1032.1 1088.48,1079.1 1088.78,1032.1 1089.08,897.7 1089.37,951.0 1089.67,969.5 1089.98,951.0 1090.28,897.7 1090.59,972.6 1090.89,998.6 1091.12,972.6 1091.35,897.7 1091.58,943.1 1091.81,958.9 1092.08,943.1 1092.36,897.7 1092.63,946.5 1092.91,963.4 1093.18,946.5 1093.46,897.7 1093.74,943.1 1094.01,958.9 1094.32,943.1 1094.63,897.7 1094.70,897.7 1095.01,953.2 1095.32,972.5 1095.62,953.2 1095.92,897.7 1096.23,939.0 1096.53,953.3 1096.78,939.0 1097.03,897.7 1097.28,975.5 1097.54,1002.6 1097.76,975.5 1097.99,897.7 1098.21,962.6 1098.44,985.2 1098.67,962.6 1098.89,897.7 1099.12,1005.3 1099.35,1042.9 1099.66,1005.3 1099.97,897.7 1100.02,897.7 1100.33,953.6 1100.64,973.0 1100.95,953.6 1101.26,897.7 1101.34,897.7 1101.65,987.4 1101.96,1018.8 1102.19,987.4 1102.41,897.7 1102.63,960.0 1102.85,981.7 1103.13,960.0 1103.41,897.7 1103.69,986.7 1103.97,1017.7 1104.28,986.7 1104.58,897.7 1104.89,968.2 1105.19,992.7 1105.46,968.2 1105.73,897.7 1106.00,953.5 1106.27,972.9 1106.55,953.5 1106.83,897.7 1107.11,978.5 1107.40,1006.7 1107.67,978.5 1107.95,897.7 1108.22,965.0 1108.49,988.4 1108.77,965.0 1109.05,897.7 1109.33,974.0 1109.61,1000.6 1109.85,974.0 1110.08,897.7 1110.32,950.3 1110.55,968.6 1110.82,950.3 1111.09,897.7 1111.35,963.6 1111.62,986.5 1111.89,963.6 1112.17,897.7 1112.44,948.0 1112.71,965.4 1112.94,948.0 1113.17,897.7 1113.40,951.7 1113.63,970.5 1113.94,951.7 1114.25,897.7 1114.55,948.0 1114.86,965.4 1115.13,948.0 1115.41,897.7 1115.68,943.1 1115.96,958.9 1116.27,943.1 1116.58,897.7 1116.64,897.7 1116.95,992.2 1117.26,1025.2 1117.55,992.2 1117.85,897.7 1118.14,949.7 1118.44,967.7 1118.75,949.7 1119.06,897.7 1119.36,957.7 1119.67,978.5 1119.98,957.7 1120.29,897.7 1120.66,897.7 1120.97,951.3 1121.28,969.9 1121.59,951.3 1121.90,897.7 1122.07,897.7 1122.38,972.8 1122.69,999.0 1122.98,972.8 1123.27,897.7 1123.56,953.9 1123.85,973.5 1124.11,953.9 1124.38,897.7 1124.64,996.1 1124.90,1030.4 1125.21,996.1 1125.52,897.7 1125.83,951.5 1126.13,970.1 1126.44,951.5 1126.75,897.7 1126.90,897.7 1127.21,970.3 1127.52,995.6 1127.82,970.3 1128.12,897.7 1128.42,942.5 1128.72,958.0 1128.98,942.5 1129.23,897.7 1129.48,951.7 1129.74,970.5 1130.01,951.7 1130.28,897.7 1130.55,943.1 1130.83,958.9 1131.06,943.1 1131.29,897.7 1131.52,1000.1 1131.75,1035.9 1132.05,1000.1 1132.35,897.7 1132.66,957.6 1132.96,978.5 1133.26,957.6 1133.56,897.7 1133.86,988.6 1134.16,1020.4 1134.47,988.6 1134.78,897.7 1134.96,897.7 1135.27,951.1 1135.58,969.6 1135.88,951.1 1136.18,897.7 1136.48,961.4 1136.78,983.5 1137.08,961.4 1137.39,897.7 1137.70,953.5 1138.00,972.9 1138.31,953.5 1138.62,897.7 1138.78,897.7 1139.09,1005.3 1139.39,1042.9 1139.70,1005.3 1140.01,897.7 1140.07,897.7 1140.38,959.8 1140.69,981.4 1140.97,959.8 1141.25,897.7 1141.53,975.5 1141.81,1002.6 1142.09,975.5 1142.37,897.7 1142.65,948.8 1142.93,966.5 1143.24,948.8 1143.55,897.7 1143.61,897.7 1143.91,989.2 1144.22,1021.2 1144.52,989.2 1144.82,897.7 1145.11,963.6 1145.41,986.5 1145.71,963.6 1146.02,897.7 1146.33,975.2 1146.64,1002.2 1146.95,975.2 1147.26,897.7 1147.33,897.7 1147.64,956.4 1147.95,976.8 1148.26,956.4 1148.57,897.7 1148.64,897.7 1148.95,998.6 1149.26,1033.8 1149.57,998.6 1149.88,897.7 1149.94,897.7 1150.25,978.5 1150.56,1006.7 1150.84,978.5 1151.11,897.7 1151.39,999.8 1151.67,1035.5 1151.96,999.8 1152.25,897.7 1152.53,963.6 1152.82,986.5 1153.09,963.6 1153.35,897.7 1153.62,979.7 1153.88,1008.3 1154.19,979.7 1154.50,897.7 1154.87,897.7 1155.18,944.1 1155.49,960.2 1155.80,944.1 1156.11,897.7 1156.28,897.7 1156.59,960.6 1156.90,982.5 1157.19,960.6 1157.48,897.7 1157.77,948.6 1158.06,966.3 1158.37,948.6 1158.68,897.7 1158.70,897.7 1159.01,957.2 1159.32,977.9 1159.63,957.2 1159.94,897.7 1160.31,897.7 1160.62,929.4 1160.93,940.3 1161.24,929.4 1161.55,897.7 1161.58,897.7 1161.89,927.2 1162.20,937.3 1162.49,927.2 1162.77,897.7 1163.06,972.3 1163.34,998.2 1163.62,972.3 1163.90,897.7 1164.17,959.6 1164.45,981.1 1164.68,959.6 1164.90,897.7 1165.13,985.7 1165.36,1016.3 1165.66,985.7 1165.95,897.7 1166.25,949.5 1166.55,967.4 1166.86,949.5 1167.16,897.7 1167.47,958.4 1167.77,979.5 1168.03,958.4 1168.28,897.7 1168.54,936.9 1168.80,950.4 1169.04,936.9 1169.29,897.7 1169.54,939.8 1169.78,954.4 1170.03,939.8 1170.27,897.7 1170.51,936.9 1170.76,950.4 1171.02,936.9 1171.28,897.7 1171.54,948.0 1171.80,965.4 1172.11,948.0 1172.42,897.7 1172.56,897.7 1172.87,944.5 1173.18,960.7 1173.49,944.5 1173.80,897.7 1174.10,954.7 1174.41,974.5 1174.72,954.7 1175.03,897.7 1175.11,897.7 1175.42,948.2 1175.73,965.8 1176.01,948.2 1176.28,897.7 1176.55,977.8 1176.83,1005.7 1177.11,977.8 1177.39,897.7 1177.67,948.0 1177.95,965.5 1178.17,948.0 1178.39,897.7 1178.62,998.2 1178.84,1033.2 1179.10,998.2 1179.37,897.7 1179.63,974.5 1179.89,1001.2 1180.18,974.5 1180.47,897.7 1180.76,1000.1 1181.05,1035.9 1181.33,1000.1 1181.61,897.7 1181.89,975.6 1182.16,1002.7 1182.47,975.6 1182.78,897.7 1182.85,897.7 1183.16,993.1 1183.47,1026.4 1183.77,993.1 1184.08,897.7 1184.38,945.1 1184.68,961.5 1184.98,945.1 1185.28,897.7 1185.58,950.2 1185.88,968.4 1186.15,950.2 1186.41,897.7 1186.67,945.9 1186.93,962.6 1187.17,945.9 1187.41,897.7 1187.66,949.5 1187.90,967.4 1188.21,949.5 1188.52,897.7 1188.89,897.7 1189.20,954.4 1189.51,974.1 1189.82,954.4 1190.13,897.7 1190.21,897.7 1190.52,947.9 1190.83,965.3 1191.14,947.9 1191.45,897.7 1191.50,897.7 1191.81,960.3 1192.12,982.1 1192.41,960.3 1192.70,897.7 1192.98,948.2 1193.27,965.7 1193.58,948.2 1193.89,897.7 1193.92,897.7 1194.23,997.6 1194.54,1032.4 1194.85,997.6 1195.16,897.7 1195.55,897.7 1195.86,949.2 1196.17,967.1 1196.48,949.2 1196.79,897.7 1196.94,897.7 1197.25,959.1 1197.56,980.5 1197.80,959.1 1198.04,897.7 1198.28,939.4 1198.53,953.8 1198.79,939.4 1199.05,897.7 1199.31,942.5 1199.57,958.0 1199.87,942.5 1200.17,897.7 1200.48,939.4 1200.78,953.8 1201.08,939.4 1201.38,897.7 1201.68,994.9 1201.98,1028.8 1202.25,994.9 1202.52,897.7 1202.79,958.4 1203.06,979.5 1203.34,958.4 1203.63,897.7 1203.91,968.8 1204.20,993.6 1204.51,968.8 1204.82,897.7 1205.02,897.7 1205.33,950.9 1205.64,969.3 1205.95,950.9 1206.26,897.7 1206.40,897.7 1206.71,966.6 1207.02,990.6 1207.33,966.6 1207.63,897.7 1207.74,897.7 1208.05,952.7 1208.36,971.8 1208.67,952.7 1208.98,897.7 1209.01,897.7 1209.32,970.6 1209.63,996.0 1209.94,970.6 1210.25,897.7 1210.29,897.7 1210.60,945.9 1210.91,962.6 1211.20,945.9 1211.48,897.7 1211.76,949.5 1212.05,967.4 1212.28,949.5 1212.51,897.7 1212.74,945.9 1212.97,962.6 1213.24,945.9 1213.51,897.7 1213.79,954.7 1214.06,974.5 1214.33,954.7 1214.61,897.7 1214.89,950.0 1215.16,968.2 1215.39,950.0 1215.62,897.7 1215.84,982.2 1216.07,1011.7 1216.34,982.2 1216.60,897.7 1216.87,957.4 1217.13,978.1 1217.42,957.4 1217.71,897.7 1218.00,975.5 1218.29,1002.6 1218.52,975.5 1218.75,897.7 1218.98,938.3 1219.21,952.3 1219.48,938.3 1219.75,897.7 1220.03,941.3 1220.30,956.4 1220.57,941.3 1220.84,897.7 1221.11,938.3 1221.38,952.3 1221.62,938.3 1221.85,897.7 1222.08,955.4 1222.31,975.5 1222.61,955.4 1222.90,897.7 1223.20,944.0 1223.50,960.1 1223.81,944.0 1224.11,897.7 1224.42,957.7 1224.72,978.5 1225.00,957.7 1225.27,897.7 1225.54,947.8 1225.81,965.1 1226.09,947.8 1226.37,897.7 1226.66,993.4 1226.94,1026.8 1227.23,993.4 1227.52,897.7 1227.81,948.8 1228.10,966.5 1228.41,948.8 1228.72,897.7 1228.73,897.7 1229.04,963.3 1229.35,986.1 1229.61,963.3 1229.87,897.7 1230.13,948.8 1230.40,966.5 1230.69,948.8 1230.98,897.7 1231.27,1016.0 1231.57,1057.4 1231.86,1016.0 1232.16,897.7 1232.46,994.8 1232.76,1028.6 1233.01,994.8 1233.27,897.7 1233.52,1007.3 1233.78,1045.5 1234.09,1007.3 1234.40,897.7 1234.44,897.7 1234.75,970.1 1235.06,995.3 1235.35,970.1 1235.63,897.7 1235.91,985.2 1236.20,1015.7 1236.45,985.2 1236.70,897.7 1236.95,943.8 1237.20,959.7 1237.45,943.8 1237.70,897.7 1237.96,955.4 1238.21,975.5 1238.50,955.4 1238.78,897.7 1239.07,948.7 1239.36,966.3 1239.62,948.7 1239.89,897.7 1240.16,958.8 1240.42,980.1 1240.66,958.8 1240.90,897.7 1241.14,932.0 1241.39,943.9 1241.65,932.0 1241.91,897.7 1242.17,934.6 1242.43,947.3 1242.69,934.6 1242.94,897.7 1243.20,932.0 1243.45,943.9 1243.70,932.0 1243.95,897.7 1244.20,945.7 1244.45,962.4 1244.76,945.7 1245.07,897.7 1245.44,897.7 1245.75,1028.0 1246.06,1073.5 1246.36,1028.0 1246.66,897.7 1246.97,951.3 1247.27,969.9 1247.52,951.3 1247.77,897.7 1248.02,963.3 1248.27,986.1 1248.52,963.3 1248.77,897.7 1249.02,930.7 1249.27,942.0 1249.52,930.7 1249.78,897.7 1250.03,933.1 1250.28,945.3 1250.54,933.1 1250.80,897.7 1251.06,930.7 1251.32,942.0 1251.61,930.7 1251.91,897.7 1252.20,1005.3 1252.50,1042.9 1252.74,1005.3 1252.98,897.7 1253.22,971.9 1253.45,997.7 1253.72,971.9 1253.98,897.7 1254.25,996.1 1254.51,1030.4 1254.80,996.1 1255.10,897.7 1255.39,978.7 1255.68,1006.9 1255.99,978.7 1256.30,897.7 1256.31,897.7 1256.62,1013.5 1256.92,1054.0 1257.23,1013.5 1257.54,897.7 1257.59,897.7 1257.90,969.4 1258.21,994.4 1258.52,969.4 1258.83,897.7 1258.92,897.7 1259.23,1007.1 1259.54,1045.3 1259.85,1007.1 1260.16,897.7 1260.21,897.7 1260.52,978.4 1260.83,1006.5 1261.11,978.4 1261.39,897.7 1261.68,989.7 1261.96,1021.8 1262.27,989.7 1262.58,897.7 1262.64,897.7 1262.95,951.9 1263.26,970.7 1263.54,951.9 1263.81,897.7 1264.09,966.3 1264.37,990.2 1264.68,966.3 1264.99,897.7 1265.18,897.7 1265.49,952.4 1265.80,971.4 1266.10,952.4 1266.39,897.7 1266.69,1016.2 1266.99,1057.6 1267.29,1016.2 1267.59,897.7 1267.89,952.4 1268.19,971.5 1268.50,952.4 1268.81,897.7 1268.98,897.7 1269.29,984.5 1269.60,1014.7 1269.85,984.5 1270.10,897.7 1270.34,974.5 1270.59,1001.3 1270.80,974.5 1271.00,897.7 1271.21,1013.5 1271.41,1054.0 1271.72,1013.5 1272.03,897.7 1272.08,897.7 1272.39,960.5 1272.70,982.4 1273.01,960.5 1273.32,897.7 1273.41,897.7 1273.72,979.3 1274.03,1007.7 1274.34,979.3 1274.64,897.7 1274.95,958.5 1275.26,979.6 1275.57,958.5 1275.88,897.7 1276.03,897.7 1276.34,1007.5 1276.65,1045.9 1276.91,1007.5 1277.16,897.7 1277.42,962.4 1277.68,984.9 1277.93,962.4 1278.17,897.7 1278.42,994.9 1278.66,1028.8 1278.97,994.9 1279.28,897.7 1279.37,897.7 1279.68,948.9 1279.99,966.6 1280.26,948.9 1280.53,897.7 1280.80,962.1 1281.08,984.5 1281.36,962.1 1281.65,897.7 1281.94,947.7 1282.23,965.0 1282.54,947.7 1282.85,897.7 1282.87,897.7 1283.18,986.7 1283.49,1017.7 1283.80,986.7 1284.11,897.7 1284.14,897.7 1284.45,963.6 1284.76,986.5 1285.07,963.6 1285.38,897.7 1285.49,897.7 1285.80,988.6 1286.11,1020.4 1286.42,988.6 1286.73,897.7 1286.80,897.7 1287.11,950.1 1287.42,968.3 1287.69,950.1 1287.97,897.7 1288.25,966.6 1288.52,990.6 1288.79,966.6 1289.07,897.7 1289.34,954.0 1289.61,973.6 1289.89,954.0 1290.17,897.7 1290.45,1017.7 1290.73,1059.6 1291.04,1017.7 1291.35,897.7 1291.44,897.7 1291.75,966.1 1292.06,989.9 1292.33,966.1 1292.60,897.7 1292.88,974.0 1293.15,1000.6 1293.41,974.0 1293.66,897.7 1293.92,946.0 1294.17,962.7 1294.47,946.0 1294.77,897.7 1295.07,1049.2 1295.36,1102.3 1295.67,1049.2 1295.98,897.7 1296.25,897.7 1296.56,979.5 1296.87,1008.0 1297.18,979.5 1297.49,897.7 1297.56,897.7 1297.87,988.9 1298.18,1020.8 1298.46,988.9 1298.74,897.7 1299.02,969.2 1299.30,994.1 1299.61,969.2 1299.92,897.7 1299.98,897.7 1300.29,1005.6 1300.60,1043.3 1300.89,1005.6 1301.18,897.7 1301.48,973.5 1301.77,999.9 1302.08,973.5 1302.39,897.7 1302.70,1030.3 1303.01,1076.7 1303.26,1030.3 1303.51,897.7 1303.76,962.2 1304.01,984.6 1304.32,962.2 1304.62,897.7 1304.92,1004.1 1305.22,1041.3 1305.53,1004.1 1305.84,897.7 1305.90,897.7 1306.21,989.4 1306.52,1021.3 1306.83,989.4 1307.14,897.7 1307.22,897.7 1307.53,1016.8 1307.84,1058.4 1308.13,1016.8 1308.42,897.7 1308.71,961.8 1309.00,984.1 1309.31,961.8 1309.62,897.7 1309.64,897.7 1309.95,986.7 1310.26,1017.7 1310.57,986.7 1310.88,897.7 1310.92,897.7 1311.23,970.3 1311.54,995.6 1311.85,970.3 1312.16,897.7 1312.25,897.7 1312.56,1005.3 1312.87,1042.9 1313.17,1005.3 1313.46,897.7 1313.76,950.2 1314.05,968.5 1314.36,950.2 1314.67,897.7 1314.98,958.4 1315.29,979.5 1315.53,958.4 1315.78,897.7 1316.02,935.5 1316.27,948.6 1316.53,935.5 1316.79,897.7 1317.04,938.3 1317.30,952.3 1317.61,938.3 1317.92,897.7 1318.29,897.7 1318.60,991.9 1318.91,1024.8 1319.22,991.9 1319.53,897.7 1319.66,897.7 1319.97,953.7 1320.28,973.1 1320.59,953.7 1320.90,897.7 1321.11,897.7 1321.42,975.5 1321.73,1002.6 1322.04,975.5 1322.35,897.7 1322.66,939.0 1322.97,953.2 1323.28,939.0 1323.59,897.7 1323.72,897.7 1324.03,942.0 1324.34,957.4 1324.65,942.0 1324.96,897.7 1325.33,897.7 1325.64,939.0 1325.95,953.2 1326.26,939.0 1326.57,897.7 1326.74,897.7 1327.05,983.0 1327.36,1012.7 1327.67,983.0 1327.98,897.7 1328.31,897.7 1328.62,972.0 1328.93,997.9 1329.24,972.0 1329.55,897.7 1329.76,897.7 1330.07,986.3 1330.38,1017.1 1330.69,986.3 1331.00,897.7 1331.34,897.7 1331.65,956.7 1331.96,977.2 1332.27,956.7 1332.58,897.7 1332.78,897.7 1333.09,1012.8 1333.40,1053.0 1333.70,1012.8 1334.01,897.7 1334.31,987.0 1334.62,1018.2 1334.93,987.0 1335.24,897.7 1335.40,897.7 1335.71,1006.1 1336.02,1043.9 1336.30,1006.1 1336.59,897.7 1336.87,950.6 1337.15,969.0 1337.46,950.6 1337.77,897.7 1337.81,897.7 1338.12,975.5 1338.43,1002.6 1338.71,975.5 1338.98,897.7 1339.26,957.4 1339.53,978.1 1339.76,957.4 1339.99,897.7 1340.22,1004.6 1340.44,1041.9 1340.67,1004.6 1340.89,897.7 1341.11,960.4 1341.34,982.2 1341.62,960.4 1341.90,897.7 1342.18,979.7 1342.46,1008.3 1342.77,979.7 1343.08,897.7 1343.08,897.7 1343.39,942.5 1343.70,958.0 1344.01,942.5 1344.32,897.7 1344.45,897.7 1344.76,951.0 1345.07,969.4 1345.35,951.0 1345.63,897.7 1345.91,942.9 1346.19,958.6 1346.41,942.9 1346.64,897.7 1346.86,971.1 1347.09,996.6 1347.39,971.1 1347.70,897.7 1347.76,897.7 1348.07,951.6 1348.38,970.3 1348.66,951.6 1348.94,897.7 1349.22,1010.1 1349.50,1049.3 1349.78,1010.1 1350.05,897.7 1350.33,990.9 1350.60,1023.4 1350.88,990.9 1351.16,897.7 1351.44,1018.0 1351.71,1060.0 1352.01,1018.0 1352.31,897.7 1352.60,985.2 1352.90,1015.7 1353.21,985.2 1353.51,897.7 1353.82,1006.1 1354.13,1043.9 1354.43,1006.1 1354.73,897.7 1355.03,994.5 1355.33,1028.3 1355.63,994.5 1355.94,897.7 1356.24,1010.1 1356.54,1049.3 1356.83,1010.1 1357.11,897.7 1357.39,975.9 1357.67,1003.2 1357.94,975.9 1358.22,897.7 1358.49,1024.4 1358.76,1068.7 1359.05,1024.4 1359.34,897.7 1359.63,950.7 1359.92,969.1 1360.23,950.7 1360.54,897.7 1360.55,897.7 1360.86,973.3 1361.17,999.6 1361.44,973.3 1361.72,897.7 1361.99,960.0 1362.26,981.6 1362.49,960.0 1362.72,897.7 1362.95,1010.5 1363.18,1049.9 1363.46,1010.5 1363.74,897.7 1364.02,966.0 1364.30,989.8 1364.61,966.0 1364.92,897.7 1364.98,897.7 1365.29,1002.3 1365.60,1038.9 1365.89,1002.3 1366.18,897.7 1366.47,941.3 1366.76,956.4 1367.07,941.3 1367.38,897.7 1367.40,897.7 1367.71,961.4 1368.02,983.5 1368.31,961.4 1368.61,897.7 1368.91,943.2 1369.21,958.9 1369.52,943.2 1369.83,897.7 1370.01,897.7 1370.32,999.1 1370.63,1034.4 1370.90,999.1 1371.18,897.7 1371.45,981.3 1371.72,1010.4 1372.03,981.3 1372.34,897.7 1372.43,897.7 1372.74,998.6 1373.05,1033.8 1373.29,998.6 1373.54,897.7 1373.79,970.0 1374.04,995.2 1374.34,970.0 1374.65,897.7 1374.95,1005.3 1375.26,1042.9 1375.57,1005.3 1375.88,897.7 1375.93,897.7 1376.24,953.3 1376.55,972.6 1376.83,953.3 1377.11,897.7 1377.39,974.8 1377.67,1001.6 1377.94,974.8 1378.21,897.7 1378.47,941.0 1378.74,956.0 1378.98,941.0 1379.21,897.7 1379.45,944.3 1379.69,960.4 1379.95,944.3 1380.21,897.7 1380.47,940.7 1380.73,955.6 1380.97,940.7 1381.21,897.7 1381.46,954.4 1381.70,974.1 1381.99,954.4 1382.28,897.7 1382.57,945.9 1382.85,962.6 1383.16,945.9 1383.47,897.7 1383.50,897.7 1383.81,949.5 1384.12,967.4 1384.42,949.5 1384.73,897.7 1384.84,897.7 1385.15,945.9 1385.46,962.6 1385.77,945.9 1386.08,897.7 1386.11,897.7 1386.42,957.7 1386.73,978.5 1387.04,957.7 1387.35,897.7 1387.44,897.7 1387.75,947.9 1388.06,965.3 1388.33,947.9 1388.60,897.7 1388.87,954.4 1389.15,974.1 1389.41,954.4 1389.67,897.7 1389.93,950.5 1390.19,968.8 1390.43,950.5 1390.67,897.7 1390.92,975.5 1391.16,1002.6 1391.47,975.5 1391.78,897.7 1391.82,897.7 1392.13,949.8 1392.44,967.9 1392.72,949.8 1393.01,897.7 1393.29,1023.9 1393.57,1068.1 1393.88,1023.9 1394.19,897.7 1394.24,897.7 1394.55,1007.2 1394.86,1045.5 1395.14,1007.2 1395.43,897.7 1395.71,1039.6 1395.99,1089.2 1396.26,1039.6 1396.53,897.7 1396.80,960.5 1397.07,982.4 1397.35,960.5 1397.64,897.7 1397.92,992.7 1398.20,1025.8 1398.51,992.7 1398.82,897.7 1398.94,897.7 1399.25,958.5 1399.56,979.7 1399.87,958.5 1400.18,897.7 1400.20,897.7 1400.51,979.3 1400.82,1007.7 1401.06,979.3 1401.30,897.7 1401.54,968.0 1401.78,992.5 1402.04,968.0 1402.30,897.7 1402.57,984.5 1402.83,1014.7 1403.10,984.5 1403.38,897.7 1403.65,942.8 1403.92,958.4 1404.23,942.8 1404.54,897.7 1404.63,897.7 1404.94,955.4 1405.25,975.5 1405.49,955.4 1405.74,897.7 1405.99,949.7 1406.24,967.8 1406.54,949.7 1406.85,897.7 1407.15,965.1 1407.46,988.6 1407.69,965.1 1407.93,897.7 1408.16,946.9 1408.40,964.0 1408.67,946.9 1408.93,897.7 1409.20,953.9 1409.47,973.5 1409.76,953.9 1410.05,897.7 1410.34,950.0 1410.63,968.2 1410.94,950.0 1411.25,897.7 1411.27,897.7 1411.58,956.9 1411.89,977.5 1412.18,956.9 1412.48,897.7 1412.77,950.4 1413.06,968.7 1413.37,950.4 1413.68,897.7 1413.99,974.3 1414.30,1001.0 1414.61,974.3 1414.92,897.7 1414.94,897.7 1415.25,950.0 1415.56,968.2 1415.87,950.0 1416.18,897.7 1416.30,897.7 1416.61,980.0 1416.92,1008.7 1417.23,980.0 1417.54,897.7 1417.59,897.7 1417.90,957.6 1418.21,978.5 1418.49,957.6 1418.77,897.7 1419.05,977.8 1419.33,1005.7 1419.64,977.8 1419.95,897.7 1420.26,968.7 1420.57,993.4 1420.88,968.7 1421.19,897.7 1421.33,897.7 1421.64,1003.5 1421.95,1040.5 1422.26,1003.5 1422.57,897.7 1422.58,897.7 1422.89,987.1 1423.20,1018.3 1423.51,987.1 1423.82,897.7 1423.95,897.7 1424.26,1014.5 1424.57,1055.4 1424.85,1014.5 1425.14,897.7 1425.43,949.7 1425.72,967.8 1426.03,949.7 1426.34,897.7 1426.36,897.7 1426.67,975.2 1426.98,1002.2 1427.24,975.2 1427.50,897.7 1427.75,967.5 1428.01,991.8 1428.31,967.5 1428.60,897.7 1428.90,1047.3 1429.19,1099.7 1429.50,1047.3 1429.81,897.7 1430.12,959.7 1430.43,981.2 1430.72,959.7 1431.02,897.7 1431.31,987.4 1431.61,1018.8 1431.92,987.4 1432.23,897.7 1432.40,897.7 1432.71,970.5 1433.02,995.9 1433.33,970.5 1433.64,897.7 1433.81,897.7 1434.12,1016.5 1434.43,1058.0 1434.66,1016.5 1434.88,897.7 1435.11,970.3 1435.34,995.6 1435.62,970.3 1435.89,897.7 1436.17,987.4 1436.44,1018.8 1436.70,987.4 1436.96,897.7 1437.22,936.9 1437.48,950.4 1437.77,936.9 1438.07,897.7 1438.36,939.8 1438.65,954.4 1438.96,939.8 1439.27,897.7 1439.44,897.7 1439.75,959.1 1440.06,980.5 1440.29,959.1 1440.51,897.7 1440.73,932.7 1440.96,944.8 1441.24,932.7 1441.52,897.7 1441.80,935.3 1442.08,948.3 1442.34,935.3 1442.60,897.7 1442.86,932.7 1443.12,944.8 1443.36,932.7 1443.60,897.7 1443.84,969.6 1444.09,994.6 1444.40,969.6 1444.71,897.7 1445.08,897.7 1445.39,986.0 1445.70,1016.7 1445.92,986.0 1446.15,897.7 1446.38,963.7 1446.60,986.6 1446.88,963.7 1447.16,897.7 1447.43,996.4 1447.71,1030.8 1447.97,996.4 1448.22,897.7 1448.48,985.1 1448.74,1015.6 1448.98,985.1 1449.23,897.7 1449.48,996.1 1449.72,1030.4 1450.02,996.1 1450.31,897.7 1450.61,963.2 1450.91,985.9 1451.16,963.2 1451.42,897.7 1451.68,1019.0 1451.94,1061.4 1452.24,1019.0 1452.55,897.7 1452.86,965.8 1453.17,989.5 1453.48,965.8 1453.79,897.7 1453.93,897.7 1454.24,994.1 1454.55,1027.8 1454.86,994.1 1455.17,897.7 1455.48,960.6 1455.78,982.5 1456.09,960.6 1456.40,897.7 1456.55,897.7 1456.86,995.6 1457.17,1029.8 1457.48,995.6 1457.79,897.7 1457.94,897.7 1458.25,965.8 1458.56,989.5 1458.86,965.8 1459.17,897.7 1459.48,975.5 1459.79,1002.6 1460.06,975.5 1460.34,897.7 1460.61,945.2 1460.89,961.6 1461.11,945.2 1461.34,897.7 1461.57,952.4 1461.80,971.5 1462.11,952.4 1462.42,897.7 1462.72,947.3 1463.03,964.6 1463.33,947.3 1463.62,897.7 1463.92,969.3 1464.21,994.2 1464.52,969.3 1464.83,897.7 1464.85,897.7 1465.16,955.3 1465.47,975.3 1465.78,955.3 1466.09,897.7 1466.21,897.7 1466.52,975.2 1466.83,1002.2 1467.14,975.2 1467.45,897.7 1467.47,897.7 1467.78,962.9 1468.09,985.6 1468.38,962.9 1468.67,897.7 1468.96,992.2 1469.24,1025.2 1469.52,992.2 1469.80,897.7 1470.08,962.5 1470.36,985.1 1470.67,962.5 1470.98,897.7 1471.04,897.7 1471.35,1036.1 1471.66,1084.6 1471.94,1036.1 1472.23,897.7 1472.52,1015.2 1472.80,1056.3 1473.07,1015.2 1473.34,897.7 1473.60,1066.7 1473.87,1125.8 1474.16,1066.7 1474.44,897.7 1474.72,1000.2 1475.00,1036.0 1475.31,1000.2 1475.62,897.7 1475.67,897.7 1475.98,1012.0 1476.29,1052.0 1476.60,1012.0 1476.91,897.7 1477.21,997.7 1477.52,1032.6 1477.83,997.7 1478.14,897.7 1478.28,897.7 1478.59,1013.1 1478.90,1053.4 1479.21,1013.1 1479.52,897.7 1479.83,967.1 1480.13,991.3 1480.43,967.1 1480.73,897.7 1481.02,975.5 1481.32,1002.6 1481.60,975.5 1481.89,897.7 1482.17,964.5 1482.45,987.7 1482.76,964.5 1483.07,897.7 1483.11,897.7 1483.42,987.1 1483.73,1018.3 1484.04,987.1 1484.35,897.7 1484.44,897.7 1484.75,976.5 1485.06,1003.9 1485.37,976.5 1485.68,897.7 1485.73,897.7 1486.04,990.1 1486.35,1022.4 1486.59,990.1 1486.83,897.7 1487.08,973.6 1487.32,1000.1 1487.58,973.6 1487.84,897.7 1488.10,1027.7 1488.36,1073.1 1488.67,1027.7 1488.98,897.7 1489.17,897.7 1489.48,970.8 1489.79,996.3 1490.09,970.8 1490.38,897.7 1490.68,995.6 1490.98,1029.8 1491.24,995.6 1491.50,897.7 1491.77,953.8 1492.03,973.3 1492.27,953.8 1492.51,897.7 1492.75,977.0 1492.99,1004.7 1493.30,977.0 1493.61,897.7 1493.93,897.7 1494.24,949.0 1494.55,966.7 1494.86,949.0 1495.17,897.7 1495.39,897.7 1495.70,990.4 1496.01,1022.8 1496.30,990.4 1496.59,897.7 1496.88,970.7 1497.17,996.1 1497.48,970.7 1497.79,897.7 1497.81,897.7 1498.12,1000.1 1498.42,1035.9 1498.72,1000.1 1499.02,897.7 1499.32,986.6 1499.61,1017.6 1499.92,986.6 1500.23,897.7 1500.53,1002.6 1500.84,1039.3 1501.10,1002.6 1501.35,897.7 1501.61,957.5 1501.86,978.2 1502.16,957.5 1502.46,897.7 1502.76,974.0 1503.05,1000.6 1503.36,974.0 1503.67,897.7 1503.72,897.7 1504.03,949.0 1504.34,966.8 1504.62,949.0 1504.90,897.7 1505.19,969.6 1505.47,994.6 1505.78,969.6 1506.09,897.7 1506.26,897.7 1506.57,944.4 1506.88,960.6 1507.18,944.4 1507.48,897.7 1507.78,968.1 1508.09,992.6 1508.39,968.1 1508.70,897.7 1508.75,897.7 1509.06,954.9 1509.37,974.8 1509.65,954.9 1509.93,897.7 1510.22,995.6 1510.50,1029.8 1510.79,995.6 1511.08,897.7 1511.37,981.7 1511.66,1011.0 1511.97,981.7 1512.28,897.7 1512.30,897.7 1512.61,1015.0 1512.91,1056.0 1513.22,1015.0 1513.53,897.7 1513.89,897.7 1514.20,948.9 1514.51,966.6 1514.82,948.9 1515.13,897.7 1515.31,897.7 1515.62,979.3 1515.93,1007.7 1516.24,979.3 1516.55,897.7 1516.85,944.9 1517.16,961.3 1517.47,944.9 1517.78,897.7 1517.93,897.7 1518.24,964.4 1518.55,987.6 1518.78,964.4 1519.01,897.7 1519.23,950.7 1519.46,969.1 1519.74,950.7 1520.01,897.7 1520.29,954.7 1520.56,974.5 1520.87,954.7 1521.18,897.7 1521.21,897.7 1521.52,950.7 1521.83,969.1 1522.10,950.7 1522.37,897.7 1522.64,949.4 1522.91,967.3 1523.22,949.4 1523.53,897.7 1523.57,897.7 1523.88,986.7 1524.18,1017.7 1524.49,986.7 1524.80,897.7 1524.81,897.7 1525.12,946.8 1525.43,963.9 1525.72,946.8 1526.02,897.7 1526.31,974.0 1526.60,1000.6 1526.88,974.0 1527.16,897.7 1527.44,959.9 1527.73,981.5 1528.04,959.9 1528.35,897.7 1528.40,897.7 1528.71,1005.3 1529.02,1042.9 1529.32,1005.3 1529.62,897.7 1529.93,949.2 1530.23,967.0 1530.54,949.2 1530.85,897.7 1531.01,897.7 1531.32,954.7 1531.63,974.5 1531.94,954.7 1532.25,897.7 1532.32,897.7 1532.63,946.3 1532.94,963.1 1533.25,946.3 1533.56,897.7 1533.63,897.7 1533.94,956.9 1534.25,977.5 1534.53,956.9 1534.80,897.7 1535.08,943.9 1535.36,960.0 1535.63,943.9 1535.89,897.7 1536.16,949.2 1536.43,967.0 1536.74,949.2 1537.05,897.7 1537.36,971.1 1537.67,996.6 1537.90,971.1 1538.13,897.7 1538.36,957.9 1538.59,978.8 1538.86,957.9 1539.14,897.7 1539.41,1015.3 1539.68,1056.4 1539.99,1015.3 1540.30,897.7 1540.35,897.7 1540.66,954.5 1540.97,974.3 1541.25,954.5 1541.53,897.7 1541.82,980.0 1542.10,1008.7 1542.41,980.0 1542.72,897.7 1542.86,897.7 1543.17,958.7 1543.48,979.9 1543.79,958.7 1544.09,897.7 1544.40,975.5 1544.71,1002.6 1545.02,975.5 1545.33,897.7 1545.64,954.5 1545.94,974.2 1546.24,954.5 1546.54,897.7 1546.83,988.6 1547.13,1020.4 1547.43,988.6 1547.72,897.7 1548.02,961.7 1548.32,984.0 1548.58,961.7 1548.83,897.7 1549.09,1005.3 1549.34,1042.9 1549.65,1005.3 1549.96,897.7 1550.01,897.7 1550.32,932.0 1550.63,943.9 1550.94,932.0 1551.25,897.7 1551.54,897.7 1551.85,934.6 1552.16,947.3 1552.44,934.6 1552.71,897.7 1552.99,932.0 1553.27,943.9 1553.54,932.0 1553.82,897.7 1554.10,953.2 1554.37,972.5 1554.60,953.2 1554.82,897.7 1555.05,946.0 1555.27,962.7 1555.55,946.0 1555.83,897.7 1556.11,957.7 1556.38,978.5 1556.69,957.7 1557.00,897.7 1557.01,897.7 1557.32,940.5 1557.63,955.3 1557.93,940.5 1558.22,897.7 1558.51,948.0 1558.80,965.4 1559.07,948.0 1559.34,897.7 1559.62,939.7 1559.89,954.2 1560.20,939.7 1560.51,897.7 1560.60,897.7 1560.91,942.8 1561.22,958.4 1561.47,942.8 1561.73,897.7 1561.99,939.7 1562.25,954.2 1562.54,939.7 1562.84,897.7 1563.13,946.5 1563.43,963.4 1563.74,946.5 1564.05,897.7 1564.22,897.7 1564.53,941.3 1564.84,956.4 1565.14,941.3 1565.44,897.7 1565.74,1004.6 1566.05,1041.9 1566.36,1004.6 1566.66,897.7 1566.87,897.7 1567.18,957.0 1567.49,977.6 1567.80,957.0 1568.11,897.7 1568.24,897.7 1568.55,966.6 1568.86,990.6 1569.11,966.6 1569.35,897.7 1569.59,951.8 1569.83,970.6 1570.09,951.8 1570.35,897.7 1570.61,1029.9 1570.88,1076.1 1571.18,1029.9 1571.48,897.7 1571.78,951.5 1572.09,970.2 1572.39,951.5 1572.69,897.7 1572.99,967.3 1573.29,991.6 1573.51,967.3 1573.74,897.7 1573.96,946.5 1574.18,963.4 1574.46,946.5 1574.74,897.7 1575.02,956.9 1575.30,977.5 1575.61,956.9 1575.92,897.7 1576.29,897.7 1576.60,1000.8 1576.91,1036.9 1577.22,1000.8 1577.53,897.7 1577.70,897.7 1578.01,949.7 1578.32,967.8 1578.62,949.7 1578.92,897.7 1579.23,962.9 1579.53,985.5 1579.81,962.9 1580.09,897.7 1580.38,937.6 1580.66,951.4 1580.97,937.6 1581.28,897.7 1581.32,897.7 1581.63,940.5 1581.94,955.4 1582.22,940.5 1582.51,897.7 1582.79,937.6 1583.07,951.4 1583.38,937.6 1583.69,897.7 1583.74,897.7 1584.05,980.7 1584.36,1009.7 1584.64,980.7 1584.92,897.7 1585.20,941.5 1585.48,956.6 1585.75,941.5 1586.03,897.7 1586.30,962.4 1586.57,984.9 1586.88,962.4 1587.19,897.7 1587.57,897.7 1587.88,955.1 1588.19,975.0 1588.50,955.1 1588.81,897.7 1588.97,897.7 1589.28,991.9 1589.59,1024.8 1589.90,991.9 1590.21,897.7"/>
<text class="tk" text-anchor="end" transform="translate(939.2 745.9) scale(0.904 1)">2.0E-04</text>
<text class="tk" text-anchor="end" transform="translate(939.2 905.0) scale(0.904 1)">0.0E+00</text>
<text class="tk" text-anchor="end" transform="translate(939.2 1064.1) scale(0.904 1)">-2.0E-04</text>
<text class="tk" text-anchor="middle" transform="translate(946.7 1160.9) scale(0.904 1)">0</text>
<text class="tk" text-anchor="middle" transform="translate(1075.3 1160.9) scale(0.904 1)">2</text>
<text class="tk" text-anchor="middle" transform="translate(1203.9 1160.9) scale(0.904 1)">4</text>
<text class="tk" text-anchor="middle" transform="translate(1332.4 1160.9) scale(0.904 1)">6</text>
<text class="tk" text-anchor="middle" transform="translate(1461.0 1160.9) scale(0.904 1)">8</text>
<text class="tk" text-anchor="middle" transform="translate(1589.6 1160.9) scale(0.904 1)">10</text>
<text class="ti" text-anchor="middle" x="1267.8" y="1193.6">Time (s)</text>
<text class="ti" text-anchor="middle" transform="translate(846.4 861.5) rotate(-90)">Strain response</text>
<rect x="1177.20" y="636.10" width="178.00" height="32.60" fill="#fff" stroke="#000" stroke-width="1.5"/>
<path d="M1180.40 652.40h54.5" stroke="#0000ff" stroke-width="1.4" fill="none"/>
<text class="lg" x="1240.9" y="660.7">Element 14</text>
</g>
</svg>
</body></html>
